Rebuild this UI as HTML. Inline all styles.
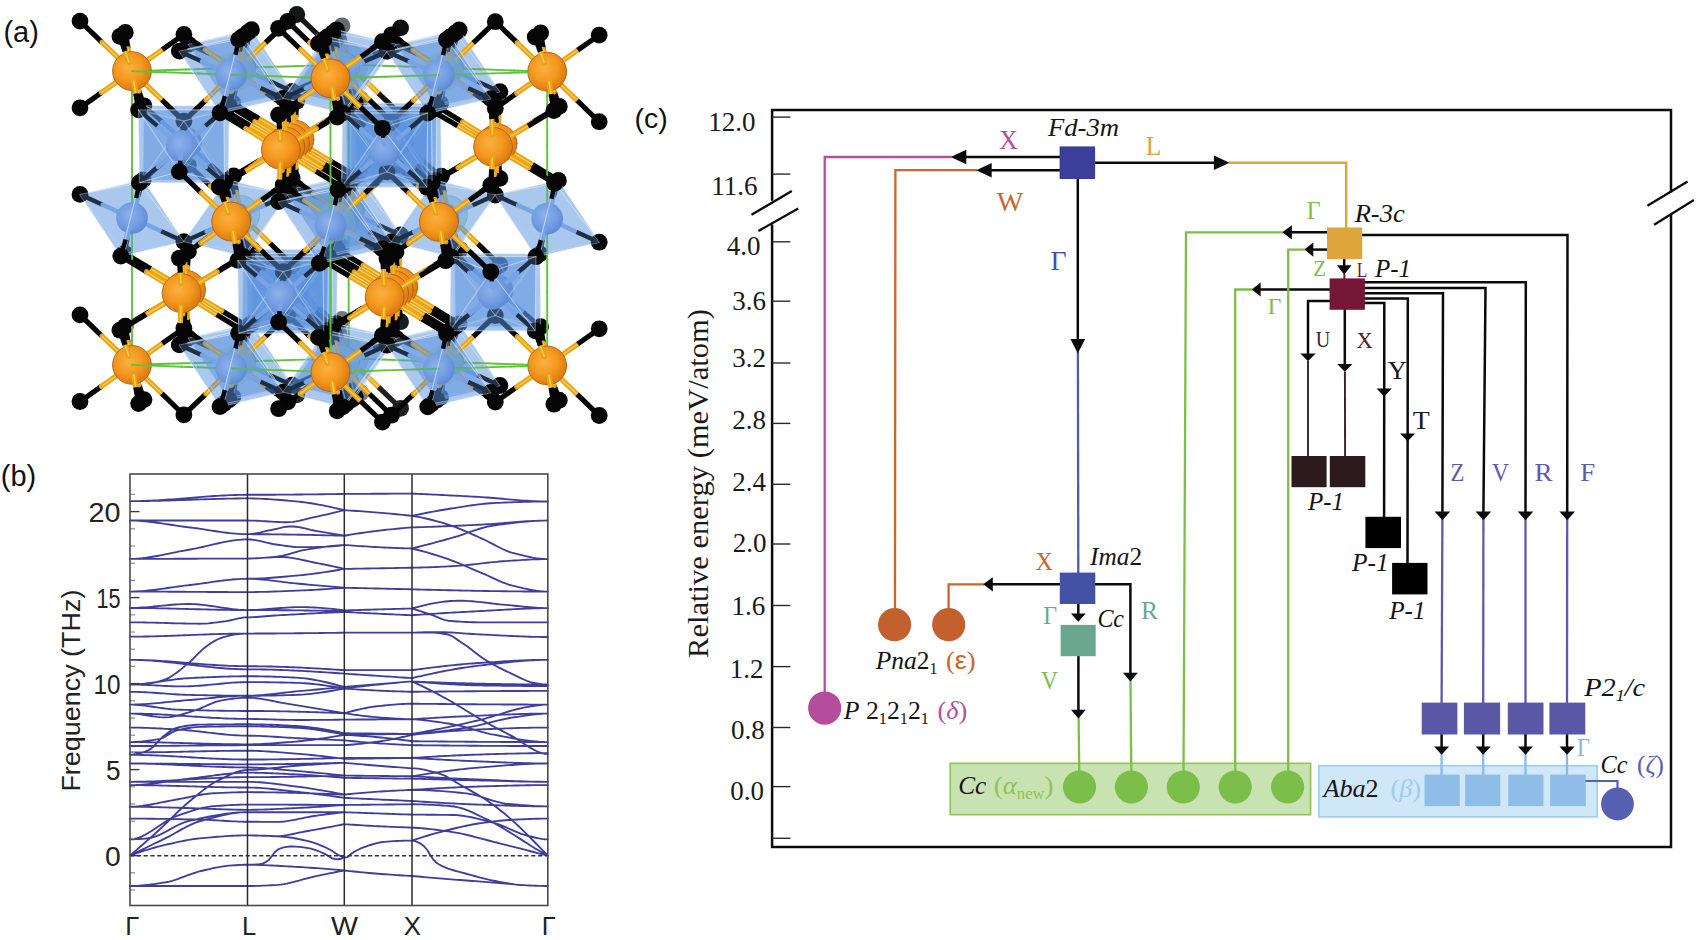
<!DOCTYPE html>
<html lang="en"><head><meta charset="utf-8"><title>Figure</title>
<style>html,body{margin:0;padding:0;background:#fff;overflow:hidden}svg{display:block}</style>
</head><body>
<svg width="1699" height="940" viewBox="0 0 1699 940">
<rect width="1699" height="940" fill="#ffffff"/>
<defs><radialGradient id="gA" cx="0.42" cy="0.40" r="0.62"><stop offset="0" stop-color="#FBB040"/><stop offset="0.55" stop-color="#F4981F"/><stop offset="1" stop-color="#D9780F"/></radialGradient><radialGradient id="gB" cx="0.42" cy="0.40" r="0.62"><stop offset="0" stop-color="#A4BFF0"/><stop offset="0.6" stop-color="#7FA3E4"/><stop offset="1" stop-color="#6486D2"/></radialGradient><clipPath id="clipA"><rect x="40" y="0" width="580" height="450"/></clipPath></defs>
<g id="panel-a" clip-path="url(#clipA)" stroke-linecap="round" fill="none">
<circle cx="360.7" cy="393" r="8.4" fill="#76797d"/>
<circle cx="342" cy="319.5" r="8.4" fill="#74777b"/>
<circle cx="360.7" cy="99.2" r="8.4" fill="#686c6f"/>
<path d="M355.6 378.3L360 391" stroke="#616467" stroke-width="5.2" stroke-linecap="butt"/>
<circle cx="342" cy="25.8" r="8.4" fill="#66696d"/>
<path d="M344.8 336L342.4 321.8" stroke="#5f6265" stroke-width="5.2" stroke-linecap="butt"/>
<path d="M355.6 84.5L360 97.2" stroke="#535659" stroke-width="5.2" stroke-linecap="butt"/>
<path d="M344.8 42.2L342.4 28" stroke="#525457" stroke-width="5.2" stroke-linecap="butt"/>
<circle cx="341.2" cy="246.7" r="8.4" fill="#57595c"/>
<circle cx="359.9" cy="173.3" r="8.4" fill="#525558"/>
<path d="M344.4 231.4L341.7 244.1" stroke="#47494b" stroke-width="4.4" stroke-linecap="butt"/>
<path d="M355 189.9L359 176.1" stroke="#434548" stroke-width="4.4" stroke-linecap="butt"/>
<path d="M351.6 366.9L355.6 378.3" stroke="#e6b656" stroke-width="5.2"/>
<path d="M351.6 366.9L355.6 378.3" stroke="#F6CB45" stroke-width="1.5" stroke-linecap="butt"/>
<path d="M347 348.7L344.8 336" stroke="#e6b656" stroke-width="5.2"/>
<path d="M347 348.7L344.8 336" stroke="#F6CB45" stroke-width="1.5" stroke-linecap="butt"/>
<polygon points="359.9,173.3 341.2,246.7 296.8,187.8" fill="#5A92DF" fill-opacity="0.30" stroke="#E6F0FA" stroke-opacity="0.5" stroke-width="0.8" stroke-linejoin="round"/>
<polygon points="359.9,173.3 341.2,246.7 400.6,235" fill="#5A92DF" fill-opacity="0.30" stroke="#E6F0FA" stroke-opacity="0.5" stroke-width="0.8" stroke-linejoin="round"/>
<path d="M351.6 73.1L355.6 84.5" stroke="#e7b249" stroke-width="5.2"/>
<path d="M351.6 73.1L355.6 84.5" stroke="#F6CB45" stroke-width="1.5" stroke-linecap="butt"/>
<path d="M347 54.9L344.8 42.2" stroke="#e7b249" stroke-width="5.2"/>
<path d="M347 54.9L344.8 42.2" stroke="#F6CB45" stroke-width="1.5" stroke-linecap="butt"/>
<path d="M346.8 220.4L344.4 231.4" stroke="#98b7e9" stroke-width="4.4"/>
<path d="M351.5 201.7L355 189.9" stroke="#98b7e9" stroke-width="4.4"/>
<path d="M318.2 379.8L300.2 392.5" stroke="#242526" stroke-width="5.2" stroke-linecap="butt"/>
<path d="M334.1 368.6L318.2 379.8" stroke="#e7ac36" stroke-width="5.2"/>
<path d="M334.1 368.6L318.2 379.8" stroke="#F6CB45" stroke-width="1.5" stroke-linecap="butt"/>
<path d="M318.8 329.5L299.8 311.2" stroke="#212223" stroke-width="5.2" stroke-linecap="butt"/>
<path d="M335.8 345.9L318.8 329.5" stroke="#e7ab35" stroke-width="5.2"/>
<path d="M335.8 345.9L318.8 329.5" stroke="#F6CB45" stroke-width="1.5" stroke-linecap="butt"/>
<path d="M361.5 370.7L378.6 387.1" stroke="#e8ab34" stroke-width="5.2"/>
<path d="M361.5 370.7L378.6 387.1" stroke="#F6CB45" stroke-width="1.5" stroke-linecap="butt"/>
<circle cx="296.8" cy="394.9" r="8.4" fill="#262728"/>
<path d="M348.7 358.3L348.7 333.8" stroke="#5FC43A" stroke-width="1.9"/>
<path d="M378.6 387.1L397.6 405.4" stroke="#1f2021" stroke-width="5.2" stroke-linecap="butt"/>
<path d="M348.7 333.8L348.7 309.3" stroke="#5FC43A" stroke-width="1.9"/>
<path d="M363.2 348L379.1 336.8" stroke="#e8ab32" stroke-width="5.2"/>
<path d="M363.2 348L379.1 336.8" stroke="#F6CB45" stroke-width="1.5" stroke-linecap="butt"/>
<path d="M348.7 309.3L348.7 284.9" stroke="#5FC43A" stroke-width="1.9"/>
<path d="M379.1 336.8L397.2 324.1" stroke="#1c1d1e" stroke-width="5.2" stroke-linecap="butt"/>
<path d="M348.7 284.9L348.7 260.4" stroke="#5FC43A" stroke-width="1.9"/>
<circle cx="296.8" cy="308.3" r="8.4" fill="#222324"/>
<polygon points="337.5,249.5 341.2,246.7 296.8,187.8" fill="#5A92DF" fill-opacity="0.30" stroke="#E6F0FA" stroke-opacity="0.5" stroke-width="0.8" stroke-linejoin="round"/>
<path d="M348.7 260.4L348.7 235.9" stroke="#5FC43A" stroke-width="1.9"/>
<path d="M319.3 198.1L300.6 189.6" stroke="#1b1c1c" stroke-width="4.4" stroke-linecap="butt"/>
<path d="M335.4 205.4L319.3 198.1" stroke="#8eb1e8" stroke-width="4.4"/>
<circle cx="400.6" cy="408.3" r="8.4" fill="#202122"/>
<path d="M348.7 235.9L348.7 211.4" stroke="#5FC43A" stroke-width="1.9"/>
<polygon points="337.5,249.5 341.2,246.7 400.6,235" fill="#5A92DF" fill-opacity="0.30" stroke="#E6F0FA" stroke-opacity="0.5" stroke-width="0.8" stroke-linejoin="round"/>
<path d="M348.7 211.4L348.7 186.9" stroke="#5FC43A" stroke-width="1.9"/>
<path d="M361.9 217.4L378 224.7" stroke="#8eb0e8" stroke-width="4.4"/>
<polygon points="359.9,173.3 356.2,176.1 296.8,187.8" fill="#5A92DF" fill-opacity="0.30" stroke="#E6F0FA" stroke-opacity="0.5" stroke-width="0.8" stroke-linejoin="round"/>
<path d="M378 224.7L396.8 233.3" stroke="#181919" stroke-width="4.4" stroke-linecap="butt"/>
<path d="M348.7 186.9L348.7 162.5" stroke="#5FC43A" stroke-width="1.9"/>
<polygon points="359.9,173.3 356.2,176.1 400.6,235" fill="#5A92DF" fill-opacity="0.30" stroke="#E6F0FA" stroke-opacity="0.5" stroke-width="0.8" stroke-linejoin="round"/>
<path d="M348.7 162.5L348.7 138" stroke="#5FC43A" stroke-width="1.9"/>
<path d="M318.2 86L300.2 98.8" stroke="#161718" stroke-width="5.2" stroke-linecap="butt"/>
<circle cx="296.8" cy="187.8" r="8.4" fill="#1c1d1e"/>
<circle cx="400.6" cy="321.7" r="8.4" fill="#1c1d1e"/>
<path d="M348.7 138L348.7 113.5" stroke="#5FC43A" stroke-width="1.9"/>
<path d="M334.1 74.8L318.2 86" stroke="#e8a829" stroke-width="5.2"/>
<path d="M334.1 74.8L318.2 86" stroke="#F6CB45" stroke-width="1.5" stroke-linecap="butt"/>
<path d="M330.6 358.8L348.7 358.3" stroke="#5FC43A" stroke-width="1.9"/>
<path d="M348.7 113.5L348.7 89" stroke="#5FC43A" stroke-width="1.9"/>
<circle cx="348.7" cy="358.3" r="19.4" fill="#9CC3B4" fill-opacity="0.55" stroke="#8FC79A" stroke-opacity="0.6" stroke-width="1"/>
<path d="M348.7 358.3L365.2 358.9" stroke="#5FC43A" stroke-width="1.9"/>
<path d="M318.8 35.7L299.8 17.4" stroke="#131414" stroke-width="5.2" stroke-linecap="butt"/>
<path d="M348.7 89L348.7 64.5" stroke="#5FC43A" stroke-width="1.9"/>
<path d="M335.8 52.1L318.8 35.7" stroke="#e8a728" stroke-width="5.2"/>
<path d="M335.8 52.1L318.8 35.7" stroke="#F6CB45" stroke-width="1.5" stroke-linecap="butt"/>
<path d="M361.5 76.9L378.6 93.4" stroke="#e8a727" stroke-width="5.2"/>
<path d="M361.5 76.9L378.6 93.4" stroke="#F6CB45" stroke-width="1.5" stroke-linecap="butt"/>
<circle cx="296.8" cy="101.2" r="8.4" fill="#18191a"/>
<circle cx="400.6" cy="235" r="8.4" fill="#18191a"/>
<path d="M378.6 93.4L397.6 111.6" stroke="#121313" stroke-width="5.2" stroke-linecap="butt"/>
<path d="M363.2 54.3L379.1 43" stroke="#e8a625" stroke-width="5.2"/>
<path d="M363.2 54.3L379.1 43" stroke="#F6CB45" stroke-width="1.5" stroke-linecap="butt"/>
<circle cx="348.7" cy="211.4" r="15.8" fill="url(#gB)"/>
<path d="M379.1 43L397.2 30.3" stroke="#0f0f10" stroke-width="5.2" stroke-linecap="butt"/>
<path d="M295.8 298.8L296.6 306.7" stroke="#0f0f0f" stroke-width="4.4" stroke-linecap="butt"/>
<circle cx="296.8" cy="14.5" r="8.4" fill="#141516"/>
<circle cx="400.6" cy="114.5" r="8.4" fill="#131314"/>
<path d="M399.6 307.2L400.4 319.3" stroke="#0a0a0a" stroke-width="5.2" stroke-linecap="butt"/>
<path d="M295.8 167.4L296.6 185" stroke="#0a0a0a" stroke-width="5.2" stroke-linecap="butt"/>
<circle cx="400.6" cy="27.9" r="8.4" fill="#0f0f10"/>
<path d="M330.6 65.1L348.7 64.5" stroke="#5FC43A" stroke-width="1.9"/>
<path d="M295.8 117.1L296.6 103.7" stroke="#070707" stroke-width="5.2" stroke-linecap="butt"/>
<path d="M399.6 256.9L400.4 238" stroke="#070707" stroke-width="5.2" stroke-linecap="butt"/>
<circle cx="348.7" cy="64.5" r="19.4" fill="#9CC3B4" fill-opacity="0.55" stroke="#8FC79A" stroke-opacity="0.6" stroke-width="1"/>
<path d="M348.7 64.5L365.2 65.1" stroke="#5FC43A" stroke-width="1.9"/>
<path d="M345.8 221.1L342.3 232.9" stroke="#86ABE8" stroke-width="4.4"/>
<path d="M350.6 202.4L352.9 191.5" stroke="#86ABE8" stroke-width="4.4"/>
<path d="M399.6 125.5L400.4 116.4" stroke="#050505" stroke-width="4.4" stroke-linecap="butt"/>
<path d="M312.5 359.4L330.6 358.8" stroke="#5FC43A" stroke-width="1.9"/>
<path d="M350.3 367.9L352.5 380.6" stroke="#E9A31A" stroke-width="5.2"/>
<path d="M350.3 367.9L352.5 380.6" stroke="#F6CB45" stroke-width="1.5" stroke-linecap="butt"/>
<path d="M345.7 349.7L341.7 338.3" stroke="#E9A31A" stroke-width="5.2"/>
<path d="M345.7 349.7L341.7 338.3" stroke="#F6CB45" stroke-width="1.5" stroke-linecap="butt"/>
<path d="M365.2 358.9L381.8 359.5" stroke="#5FC43A" stroke-width="1.9"/>
<polygon points="337.5,249.5 252.3,249.4 296.8,308.3" fill="#5A92DF" fill-opacity="0.30" stroke="#E6F0FA" stroke-opacity="0.5" stroke-width="0.8" stroke-linejoin="round"/>
<path d="M295.1 292.1L295.8 298.8" stroke="#86ABE8" stroke-width="4.4"/>
<polygon points="337.5,249.5 356.2,176.1 296.8,187.8" fill="#5A92DF" fill-opacity="0.30" stroke="#E6F0FA" stroke-opacity="0.5" stroke-width="0.8" stroke-linejoin="round"/>
<polygon points="251.5,323.5 252.3,249.4 296.8,308.3" fill="#5A92DF" fill-opacity="0.30" stroke="#E6F0FA" stroke-opacity="0.5" stroke-width="0.8" stroke-linejoin="round"/>
<path d="M398.9 296.5L399.6 307.2" stroke="#E9A31A" stroke-width="5.2"/>
<path d="M398.9 296.5L399.6 307.2" stroke="#F6CB45" stroke-width="1.5" stroke-linecap="butt"/>
<polygon points="337.5,249.5 356.2,176.1 400.6,235" fill="#5A92DF" fill-opacity="0.30" stroke="#E6F0FA" stroke-opacity="0.5" stroke-width="0.8" stroke-linejoin="round"/>
<path d="M312.5 65.6L330.6 65.1" stroke="#5FC43A" stroke-width="1.9"/>
<path d="M350.3 74.1L352.5 86.9" stroke="#E9A31A" stroke-width="5.2"/>
<path d="M350.3 74.1L352.5 86.9" stroke="#F6CB45" stroke-width="1.5" stroke-linecap="butt"/>
<path d="M295.1 151.6L295.8 167.4" stroke="#E9A31A" stroke-width="5.2"/>
<path d="M295.1 151.6L295.8 167.4" stroke="#F6CB45" stroke-width="1.5" stroke-linecap="butt"/>
<path d="M295.1 128.8L295.8 117.1" stroke="#E9A31A" stroke-width="5.2"/>
<path d="M295.1 128.8L295.8 117.1" stroke="#F6CB45" stroke-width="1.5" stroke-linecap="butt"/>
<path d="M345.7 55.9L341.7 44.5" stroke="#E9A31A" stroke-width="5.2"/>
<path d="M345.7 55.9L341.7 44.5" stroke="#F6CB45" stroke-width="1.5" stroke-linecap="butt"/>
<path d="M342.3 232.9L338.3 246.7" stroke="#050505" stroke-width="4.4" stroke-linecap="butt"/>
<path d="M398.9 273.9L399.6 256.9" stroke="#E9A31A" stroke-width="5.2"/>
<path d="M398.9 273.9L399.6 256.9" stroke="#F6CB45" stroke-width="1.5" stroke-linecap="butt"/>
<polygon points="337.5,249.5 336.6,323.6 296.8,308.3" fill="#5A92DF" fill-opacity="0.30" stroke="#E6F0FA" stroke-opacity="0.5" stroke-width="0.8" stroke-linejoin="round"/>
<path d="M365.2 65.1L381.8 65.7" stroke="#5FC43A" stroke-width="1.9"/>
<polygon points="441.3,176.2 356.2,176.1 400.6,114.5" fill="#5A92DF" fill-opacity="0.30" stroke="#E6F0FA" stroke-opacity="0.5" stroke-width="0.8" stroke-linejoin="round"/>
<path d="M352.9 191.5L355.6 178.7" stroke="#050505" stroke-width="4.4" stroke-linecap="butt"/>
<polygon points="251.5,323.5 336.6,323.6 296.8,308.3" fill="#5A92DF" fill-opacity="0.30" stroke="#E6F0FA" stroke-opacity="0.5" stroke-width="0.8" stroke-linejoin="round"/>
<path d="M398.9 133.3L399.6 125.5" stroke="#86ABE8" stroke-width="4.4"/>
<path d="M294.5 359.9L312.5 359.4" stroke="#5FC43A" stroke-width="1.9"/>
<polygon points="355.3,103.3 356.2,176.1 400.6,114.5" fill="#5A92DF" fill-opacity="0.30" stroke="#E6F0FA" stroke-opacity="0.5" stroke-width="0.8" stroke-linejoin="round"/>
<path d="M270.7 265.6L255.4 252.1" stroke="#050505" stroke-width="4.4" stroke-linecap="butt"/>
<path d="M381.8 359.5L398.3 360.1" stroke="#5FC43A" stroke-width="1.9"/>
<path d="M352.5 380.6L354.9 394.8" stroke="#050505" stroke-width="5.2" stroke-linecap="butt"/>
<circle cx="252.3" cy="249.4" r="8.4" fill="#060606"/>
<polygon points="441.3,176.2 440.5,103.4 400.6,114.5" fill="#5A92DF" fill-opacity="0.30" stroke="#E6F0FA" stroke-opacity="0.5" stroke-width="0.8" stroke-linejoin="round"/>
<path d="M259.4 160.6L237.2 173.8" stroke="#050505" stroke-width="5.2" stroke-linecap="butt"/>
<path d="M341.7 338.3L337.3 325.6" stroke="#050505" stroke-width="5.2" stroke-linecap="butt"/>
<path d="M318.8 265.6L334.3 252.3" stroke="#050505" stroke-width="4.4" stroke-linecap="butt"/>
<circle cx="233.6" cy="175.9" r="8.4" fill="#060606"/>
<path d="M283.7 277L270.7 265.6" stroke="#86ABE8" stroke-width="4.4"/>
<path d="M363.2 265.3L341 251.7" stroke="#050505" stroke-width="5.2" stroke-linecap="butt"/>
<path d="M305.4 277.1L318.8 265.6" stroke="#86ABE8" stroke-width="4.4"/>
<circle cx="337.5" cy="249.5" r="8.4" fill="#060606"/>
<path d="M330 160.7L352.6 174" stroke="#050505" stroke-width="5.2" stroke-linecap="butt"/>
<path d="M294.5 66.2L312.5 65.6" stroke="#5FC43A" stroke-width="1.9"/>
<path d="M279.4 148.6L259.4 160.6" stroke="#E9A31A" stroke-width="5.2"/>
<path d="M279.4 148.6L259.4 160.6" stroke="#F6CB45" stroke-width="1.5" stroke-linecap="butt"/>
<polygon points="355.3,103.3 440.5,103.4 400.6,114.5" fill="#5A92DF" fill-opacity="0.30" stroke="#E6F0FA" stroke-opacity="0.5" stroke-width="0.8" stroke-linejoin="round"/>
<path d="M383.2 277.5L363.2 265.3" stroke="#E9A31A" stroke-width="5.2"/>
<path d="M383.2 277.5L363.2 265.3" stroke="#F6CB45" stroke-width="1.5" stroke-linecap="butt"/>
<path d="M374.5 160.3L359.3 173.4" stroke="#050505" stroke-width="4.4" stroke-linecap="butt"/>
<path d="M433.8 265.4L456.4 251.9" stroke="#050505" stroke-width="5.2" stroke-linecap="butt"/>
<circle cx="356.2" cy="176.1" r="8.4" fill="#060606"/>
<path d="M309.8 148.7L330 160.7" stroke="#E9A31A" stroke-width="5.2"/>
<path d="M309.8 148.7L330 160.7" stroke="#F6CB45" stroke-width="1.5" stroke-linecap="butt"/>
<path d="M413.6 277.5L433.8 265.4" stroke="#E9A31A" stroke-width="5.2"/>
<path d="M413.6 277.5L433.8 265.4" stroke="#F6CB45" stroke-width="1.5" stroke-linecap="butt"/>
<path d="M283.5 295.9L270.2 307.4" stroke="#86ABE8" stroke-width="4.4"/>
<path d="M381.8 65.7L398.3 66.3" stroke="#5FC43A" stroke-width="1.9"/>
<circle cx="460" cy="249.7" r="8.4" fill="#060606"/>
<path d="M422.6 160.4L438.1 173.6" stroke="#050505" stroke-width="4.4" stroke-linecap="butt"/>
<path d="M352.5 86.9L354.9 101" stroke="#050505" stroke-width="5.2" stroke-linecap="butt"/>
<path d="M305.2 296L318.3 307.5" stroke="#86ABE8" stroke-width="4.4"/>
<path d="M387.6 149L374.5 160.3" stroke="#86ABE8" stroke-width="4.4"/>
<circle cx="441.3" cy="176.2" r="8.4" fill="#060606"/>
<path d="M270.2 307.4L254.7 320.8" stroke="#050505" stroke-width="4.4" stroke-linecap="butt"/>
<path d="M341.7 44.5L337.3 31.9" stroke="#050505" stroke-width="5.2" stroke-linecap="butt"/>
<path d="M247.2 234.7L251.6 247.4" stroke="#050505" stroke-width="5.2" stroke-linecap="butt"/>
<path d="M276.4 360.5L294.5 359.9" stroke="#5FC43A" stroke-width="1.9"/>
<path d="M409.3 149.1L422.6 160.4" stroke="#86ABE8" stroke-width="4.4"/>
<path d="M236.5 192.4L234 178.2" stroke="#050505" stroke-width="5.2" stroke-linecap="butt"/>
<path d="M383 295.8L362.8 307.9" stroke="#E9A31A" stroke-width="5.2"/>
<path d="M383 295.8L362.8 307.9" stroke="#F6CB45" stroke-width="1.5" stroke-linecap="butt"/>
<circle cx="232.8" cy="396.9" r="8.4" fill="#060606"/>
<circle cx="294.5" cy="286.5" r="15.8" fill="url(#gB)"/>
<path d="M318.3 307.5L333.5 320.9" stroke="#050505" stroke-width="4.4" stroke-linecap="butt"/>
<path d="M279.2 130.6L259 118.6" stroke="#E9A31A" stroke-width="5.2"/>
<path d="M279.2 130.6L259 118.6" stroke="#F6CB45" stroke-width="1.5" stroke-linecap="butt"/>
<path d="M362.8 307.9L340.2 321.4" stroke="#050505" stroke-width="5.2" stroke-linecap="butt"/>
<path d="M340.3 234.8L337.9 247.5" stroke="#050505" stroke-width="5.2" stroke-linecap="butt"/>
<path d="M413.4 295.8L433.4 308" stroke="#E9A31A" stroke-width="5.2"/>
<path d="M413.4 295.8L433.4 308" stroke="#F6CB45" stroke-width="1.5" stroke-linecap="butt"/>
<circle cx="251.5" cy="323.5" r="8.4" fill="#060606"/>
<path d="M309.6 130.6L329.6 118.7" stroke="#E9A31A" stroke-width="5.2"/>
<path d="M309.6 130.6L329.6 118.7" stroke="#F6CB45" stroke-width="1.5" stroke-linecap="butt"/>
<path d="M259 118.6L236.4 105.2" stroke="#050505" stroke-width="5.2" stroke-linecap="butt"/>
<path d="M398.3 360.1L414.9 360.7" stroke="#5FC43A" stroke-width="1.9"/>
<path d="M351.1 192.5L355.5 178.4" stroke="#050505" stroke-width="5.2" stroke-linecap="butt"/>
<circle cx="355.3" cy="397.1" r="8.4" fill="#060606"/>
<polygon points="337.5,249.5 252.3,249.4 292.2,264.7" fill="#5A92DF" fill-opacity="0.30" stroke="#E6F0FA" stroke-opacity="0.5" stroke-width="0.8" stroke-linejoin="round"/>
<path d="M433.4 308L455.6 321.6" stroke="#050505" stroke-width="5.2" stroke-linecap="butt"/>
<path d="M387.4 130.5L374 119.2" stroke="#86ABE8" stroke-width="4.4"/>
<circle cx="398.3" cy="286.7" r="19.4" fill="url(#gA)" stroke="#B5600F" stroke-width="0.9"/>
<circle cx="294.5" cy="139.6" r="19.4" fill="url(#gA)" stroke="#B5600F" stroke-width="0.9"/>
<circle cx="336.6" cy="323.6" r="8.4" fill="#060606"/>
<path d="M454.9 235L459.3 247.7" stroke="#050505" stroke-width="5.2" stroke-linecap="butt"/>
<path d="M236.1 381.5L233.4 394.3" stroke="#050505" stroke-width="4.4" stroke-linecap="butt"/>
<path d="M409.1 130.5L422.1 119.2" stroke="#86ABE8" stroke-width="4.4"/>
<path d="M329.6 118.7L351.8 105.4" stroke="#050505" stroke-width="5.2" stroke-linecap="butt"/>
<path d="M444.1 192.7L441.7 178.5" stroke="#050505" stroke-width="5.2" stroke-linecap="butt"/>
<path d="M276.4 66.7L294.5 66.2" stroke="#5FC43A" stroke-width="1.9"/>
<circle cx="440.5" cy="397.2" r="8.4" fill="#060606"/>
<path d="M374 119.2L358.5 106" stroke="#050505" stroke-width="4.4" stroke-linecap="butt"/>
<circle cx="398.3" cy="139.8" r="15.8" fill="url(#gB)"/>
<circle cx="232.8" cy="103.1" r="8.4" fill="#060606"/>
<polygon points="251.5,323.5 252.3,249.4 292.2,264.7" fill="#5A92DF" fill-opacity="0.30" stroke="#E6F0FA" stroke-opacity="0.5" stroke-width="0.8" stroke-linejoin="round"/>
<path d="M246.6 340.1L250.7 326.3" stroke="#050505" stroke-width="4.4" stroke-linecap="butt"/>
<polygon points="251.5,323.5 232.8,396.9 188.4,338" fill="#5A92DF" fill-opacity="0.30" stroke="#E6F0FA" stroke-opacity="0.5" stroke-width="0.8" stroke-linejoin="round"/>
<path d="M422.1 119.2L437.4 106.1" stroke="#050505" stroke-width="4.4" stroke-linecap="butt"/>
<polygon points="337.5,249.5 336.6,323.6 292.2,264.7" fill="#5A92DF" fill-opacity="0.30" stroke="#E6F0FA" stroke-opacity="0.5" stroke-width="0.8" stroke-linejoin="round"/>
<circle cx="459.2" cy="323.8" r="8.4" fill="#060606"/>
<path d="M350.5 381.7L354.5 394.5" stroke="#050505" stroke-width="4.4" stroke-linecap="butt"/>
<polygon points="251.5,323.5 232.8,396.9 292.2,385.2" fill="#5A92DF" fill-opacity="0.30" stroke="#E6F0FA" stroke-opacity="0.5" stroke-width="0.8" stroke-linejoin="round"/>
<polygon points="441.3,176.2 356.2,176.1 396,165" fill="#5A92DF" fill-opacity="0.30" stroke="#E6F0FA" stroke-opacity="0.5" stroke-width="0.8" stroke-linejoin="round"/>
<circle cx="251.5" cy="29.7" r="8.4" fill="#060606"/>
<path d="M339.9 340.2L337.2 326.4" stroke="#050505" stroke-width="4.4" stroke-linecap="butt"/>
<path d="M398.3 66.3L414.9 66.9" stroke="#5FC43A" stroke-width="1.9"/>
<path d="M293.9 281L293.2 274.2" stroke="#86ABE8" stroke-width="4.4"/>
<circle cx="355.3" cy="103.3" r="8.4" fill="#060606"/>
<path d="M258.4 361L276.4 360.5" stroke="#5FC43A" stroke-width="1.9"/>
<polygon points="355.3,397.1 336.6,323.6 292.2,385.2" fill="#5A92DF" fill-opacity="0.30" stroke="#E6F0FA" stroke-opacity="0.5" stroke-width="0.8" stroke-linejoin="round"/>
<polygon points="251.5,323.5 336.6,323.6 292.2,264.7" fill="#5A92DF" fill-opacity="0.30" stroke="#E6F0FA" stroke-opacity="0.5" stroke-width="0.8" stroke-linejoin="round"/>
<path d="M443.7 381.8L441 394.6" stroke="#050505" stroke-width="4.4" stroke-linecap="butt"/>
<circle cx="336.6" cy="29.8" r="8.4" fill="#060606"/>
<path d="M236.1 87.8L233.4 100.5" stroke="#050505" stroke-width="4.4" stroke-linecap="butt"/>
<polygon points="355.3,397.1 336.6,323.6 396,338.3" fill="#5A92DF" fill-opacity="0.30" stroke="#E6F0FA" stroke-opacity="0.5" stroke-width="0.8" stroke-linejoin="round"/>
<path d="M397.7 299.4L397 316.4" stroke="#E9A31A" stroke-width="5.2"/>
<path d="M397.7 299.4L397 316.4" stroke="#F6CB45" stroke-width="1.5" stroke-linecap="butt"/>
<polygon points="355.3,103.3 356.2,176.1 396,165" fill="#5A92DF" fill-opacity="0.30" stroke="#E6F0FA" stroke-opacity="0.5" stroke-width="0.8" stroke-linejoin="round"/>
<circle cx="440.5" cy="103.4" r="8.4" fill="#060606"/>
<path d="M454.3 340.4L458.3 326.6" stroke="#050505" stroke-width="4.4" stroke-linecap="butt"/>
<path d="M246.6 46.3L250.7 32.5" stroke="#050505" stroke-width="4.4" stroke-linecap="butt"/>
<path d="M243.3 223.3L247.2 234.7" stroke="#E9A31A" stroke-width="5.2"/>
<path d="M243.3 223.3L247.2 234.7" stroke="#F6CB45" stroke-width="1.5" stroke-linecap="butt"/>
<path d="M293.9 150.4L293.2 162.2" stroke="#E9A31A" stroke-width="5.2"/>
<path d="M293.9 150.4L293.2 162.2" stroke="#F6CB45" stroke-width="1.5" stroke-linecap="butt"/>
<path d="M293.9 127.7L293.2 111.8" stroke="#E9A31A" stroke-width="5.2"/>
<path d="M293.9 127.7L293.2 111.8" stroke="#F6CB45" stroke-width="1.5" stroke-linecap="butt"/>
<path d="M238.7 205.1L236.5 192.4" stroke="#E9A31A" stroke-width="5.2"/>
<path d="M238.7 205.1L236.5 192.4" stroke="#F6CB45" stroke-width="1.5" stroke-linecap="butt"/>
<path d="M397.7 276.8L397 266.1" stroke="#E9A31A" stroke-width="5.2"/>
<path d="M397.7 276.8L397 266.1" stroke="#F6CB45" stroke-width="1.5" stroke-linecap="butt"/>
<polygon points="459.2,323.8 440.5,397.2 396,338.3" fill="#5A92DF" fill-opacity="0.30" stroke="#E6F0FA" stroke-opacity="0.5" stroke-width="0.8" stroke-linejoin="round"/>
<polygon points="441.3,176.2 440.5,103.4 396,165" fill="#5A92DF" fill-opacity="0.30" stroke="#E6F0FA" stroke-opacity="0.5" stroke-width="0.8" stroke-linejoin="round"/>
<polygon points="251.5,29.7 232.8,103.1 188.4,44.2" fill="#5A92DF" fill-opacity="0.30" stroke="#E6F0FA" stroke-opacity="0.5" stroke-width="0.8" stroke-linejoin="round"/>
<polygon points="459.2,323.8 440.5,397.2 499.9,385.5" fill="#5A92DF" fill-opacity="0.30" stroke="#E6F0FA" stroke-opacity="0.5" stroke-width="0.8" stroke-linejoin="round"/>
<circle cx="459.2" cy="30" r="8.4" fill="#060606"/>
<path d="M238.4 370.6L236.1 381.5" stroke="#86ABE8" stroke-width="4.4"/>
<path d="M350.5 87.9L354.5 100.7" stroke="#050505" stroke-width="4.4" stroke-linecap="butt"/>
<path d="M414.9 360.7L431.4 361.3" stroke="#5FC43A" stroke-width="1.9"/>
<polygon points="251.5,29.7 232.8,103.1 292.2,91.4" fill="#5A92DF" fill-opacity="0.30" stroke="#E6F0FA" stroke-opacity="0.5" stroke-width="0.8" stroke-linejoin="round"/>
<path d="M339.9 46.4L337.2 32.6" stroke="#050505" stroke-width="4.4" stroke-linecap="butt"/>
<path d="M397.7 146.2L397 154" stroke="#86ABE8" stroke-width="4.4"/>
<path d="M243.2 351.9L246.6 340.1" stroke="#86ABE8" stroke-width="4.4"/>
<path d="M342.5 223.4L340.3 234.8" stroke="#E9A31A" stroke-width="5.2"/>
<path d="M342.5 223.4L340.3 234.8" stroke="#F6CB45" stroke-width="1.5" stroke-linecap="butt"/>
<path d="M347.1 205.3L351.1 192.5" stroke="#E9A31A" stroke-width="5.2"/>
<path d="M347.1 205.3L351.1 192.5" stroke="#F6CB45" stroke-width="1.5" stroke-linecap="butt"/>
<path d="M258.4 67.3L276.4 66.7" stroke="#5FC43A" stroke-width="1.9"/>
<polygon points="355.3,103.3 336.6,29.8 292.2,91.4" fill="#5A92DF" fill-opacity="0.30" stroke="#E6F0FA" stroke-opacity="0.5" stroke-width="0.8" stroke-linejoin="round"/>
<path d="M443.7 88.1L441 100.8" stroke="#050505" stroke-width="4.4" stroke-linecap="butt"/>
<polygon points="355.3,103.3 440.5,103.4 396,165" fill="#5A92DF" fill-opacity="0.30" stroke="#E6F0FA" stroke-opacity="0.5" stroke-width="0.8" stroke-linejoin="round"/>
<path d="M347 370.7L350.5 381.7" stroke="#86ABE8" stroke-width="4.4"/>
<polygon points="355.3,103.3 336.6,29.8 396,44.5" fill="#5A92DF" fill-opacity="0.30" stroke="#E6F0FA" stroke-opacity="0.5" stroke-width="0.8" stroke-linejoin="round"/>
<path d="M342.2 352L339.9 340.2" stroke="#86ABE8" stroke-width="4.4"/>
<path d="M454.3 46.6L458.3 32.8" stroke="#050505" stroke-width="4.4" stroke-linecap="butt"/>
<path d="M450.9 223.6L454.9 235" stroke="#E9A31A" stroke-width="5.2"/>
<path d="M450.9 223.6L454.9 235" stroke="#F6CB45" stroke-width="1.5" stroke-linecap="butt"/>
<path d="M446.3 205.4L444.1 192.7" stroke="#E9A31A" stroke-width="5.2"/>
<path d="M446.3 205.4L444.1 192.7" stroke="#F6CB45" stroke-width="1.5" stroke-linecap="butt"/>
<polygon points="459.2,30 440.5,103.4 396,44.5" fill="#5A92DF" fill-opacity="0.30" stroke="#E6F0FA" stroke-opacity="0.5" stroke-width="0.8" stroke-linejoin="round"/>
<path d="M446 370.9L443.7 381.8" stroke="#86ABE8" stroke-width="4.4"/>
<polygon points="459.2,30 440.5,103.4 499.9,91.7" fill="#5A92DF" fill-opacity="0.30" stroke="#E6F0FA" stroke-opacity="0.5" stroke-width="0.8" stroke-linejoin="round"/>
<path d="M238.4 76.8L236.1 87.8" stroke="#86ABE8" stroke-width="4.4"/>
<path d="M240.3 361.6L258.4 361" stroke="#5FC43A" stroke-width="1.9"/>
<path d="M414.9 66.9L431.4 67.5" stroke="#5FC43A" stroke-width="1.9"/>
<path d="M293.2 274.2L292.4 266.3" stroke="#050505" stroke-width="4.4" stroke-linecap="butt"/>
<path d="M450.8 352.2L454.3 340.4" stroke="#86ABE8" stroke-width="4.4"/>
<path d="M243.2 58.1L246.6 46.3" stroke="#86ABE8" stroke-width="4.4"/>
<path d="M397 316.4L396.2 335.3" stroke="#050505" stroke-width="5.2" stroke-linecap="butt"/>
<path d="M293.2 162.2L292.4 175.5" stroke="#050505" stroke-width="5.2" stroke-linecap="butt"/>
<path d="M347 77L350.5 87.9" stroke="#86ABE8" stroke-width="4.4"/>
<path d="M342.2 58.3L339.9 46.4" stroke="#86ABE8" stroke-width="4.4"/>
<path d="M397 266.1L396.2 254" stroke="#050505" stroke-width="5.2" stroke-linecap="butt"/>
<path d="M293.2 111.8L292.4 94.2" stroke="#050505" stroke-width="5.2" stroke-linecap="butt"/>
<polygon points="229.1,399.7 232.8,396.9 188.4,338" fill="#5A92DF" fill-opacity="0.30" stroke="#E6F0FA" stroke-opacity="0.5" stroke-width="0.8" stroke-linejoin="round"/>
<path d="M211 348.3L192.2 339.8" stroke="#050505" stroke-width="4.4" stroke-linecap="butt"/>
<path d="M227.1 355.6L211 348.3" stroke="#86ABE8" stroke-width="4.4"/>
<polygon points="229.1,399.7 232.8,396.9 292.2,385.2" fill="#5A92DF" fill-opacity="0.30" stroke="#E6F0FA" stroke-opacity="0.5" stroke-width="0.8" stroke-linejoin="round"/>
<path d="M431.4 361.3L448 361.9" stroke="#5FC43A" stroke-width="1.9"/>
<path d="M397 154L396.2 163.1" stroke="#050505" stroke-width="4.4" stroke-linecap="butt"/>
<path d="M253.5 367.6L269.6 374.9" stroke="#86ABE8" stroke-width="4.4"/>
<path d="M446 77.1L443.7 88.1" stroke="#86ABE8" stroke-width="4.4"/>
<polygon points="251.5,323.5 247.8,326.3 188.4,338" fill="#5A92DF" fill-opacity="0.30" stroke="#E6F0FA" stroke-opacity="0.5" stroke-width="0.8" stroke-linejoin="round"/>
<path d="M269.6 374.9L288.4 383.4" stroke="#050505" stroke-width="4.4" stroke-linecap="butt"/>
<path d="M240.3 67.8L258.4 67.3" stroke="#5FC43A" stroke-width="1.9"/>
<polygon points="251.5,323.5 247.8,326.3 292.2,385.2" fill="#5A92DF" fill-opacity="0.30" stroke="#E6F0FA" stroke-opacity="0.5" stroke-width="0.8" stroke-linejoin="round"/>
<path d="M450.8 58.4L454.3 46.6" stroke="#86ABE8" stroke-width="4.4"/>
<path d="M209.9 236.2L191.8 248.9" stroke="#050505" stroke-width="5.2" stroke-linecap="butt"/>
<path d="M314.8 375L296 383.4" stroke="#050505" stroke-width="4.4" stroke-linecap="butt"/>
<circle cx="188.4" cy="338" r="8.4" fill="#060606"/>
<polygon points="355.3,397.1 351.6,399.9 292.2,385.2" fill="#5A92DF" fill-opacity="0.30" stroke="#E6F0FA" stroke-opacity="0.5" stroke-width="0.8" stroke-linejoin="round"/>
<path d="M330.9 367.7L314.8 375" stroke="#86ABE8" stroke-width="4.4"/>
<path d="M225.8 225L209.9 236.2" stroke="#E9A31A" stroke-width="5.2"/>
<path d="M225.8 225L209.9 236.2" stroke="#F6CB45" stroke-width="1.5" stroke-linecap="butt"/>
<polygon points="332.9,326.4 336.6,323.6 292.2,385.2" fill="#5A92DF" fill-opacity="0.30" stroke="#E6F0FA" stroke-opacity="0.5" stroke-width="0.8" stroke-linejoin="round"/>
<path d="M210.4 185.9L191.4 167.6" stroke="#050505" stroke-width="5.2" stroke-linecap="butt"/>
<path d="M227.5 202.3L210.4 185.9" stroke="#E9A31A" stroke-width="5.2"/>
<path d="M227.5 202.3L210.4 185.9" stroke="#F6CB45" stroke-width="1.5" stroke-linecap="butt"/>
<path d="M253.2 227.1L270.2 243.5" stroke="#E9A31A" stroke-width="5.2"/>
<path d="M253.2 227.1L270.2 243.5" stroke="#F6CB45" stroke-width="1.5" stroke-linecap="butt"/>
<circle cx="188.4" cy="251.4" r="8.4" fill="#060606"/>
<circle cx="292.2" cy="385.2" r="8.4" fill="#060606"/>
<polygon points="355.3,397.1 351.6,399.9 396,338.3" fill="#5A92DF" fill-opacity="0.30" stroke="#E6F0FA" stroke-opacity="0.5" stroke-width="0.8" stroke-linejoin="round"/>
<path d="M270.2 243.5L289.2 261.8" stroke="#050505" stroke-width="5.2" stroke-linecap="butt"/>
<path d="M357.4 355.8L373.5 348.5" stroke="#86ABE8" stroke-width="4.4"/>
<polygon points="332.9,326.4 336.6,323.6 396,338.3" fill="#5A92DF" fill-opacity="0.30" stroke="#E6F0FA" stroke-opacity="0.5" stroke-width="0.8" stroke-linejoin="round"/>
<path d="M254.9 204.4L270.8 193.2" stroke="#E9A31A" stroke-width="5.2"/>
<path d="M254.9 204.4L270.8 193.2" stroke="#F6CB45" stroke-width="1.5" stroke-linecap="butt"/>
<path d="M314.2 243.6L295.2 261.8" stroke="#050505" stroke-width="5.2" stroke-linecap="butt"/>
<path d="M373.5 348.5L392.2 340" stroke="#050505" stroke-width="4.4" stroke-linecap="butt"/>
<circle cx="240.3" cy="361.6" r="15.8" fill="url(#gB)"/>
<path d="M270.8 193.2L288.8 180.5" stroke="#050505" stroke-width="5.2" stroke-linecap="butt"/>
<polygon points="436.8,400 440.5,397.2 396,338.3" fill="#5A92DF" fill-opacity="0.30" stroke="#E6F0FA" stroke-opacity="0.5" stroke-width="0.8" stroke-linejoin="round"/>
<path d="M331.3 227.2L314.2 243.6" stroke="#E9A31A" stroke-width="5.2"/>
<path d="M331.3 227.2L314.2 243.6" stroke="#F6CB45" stroke-width="1.5" stroke-linecap="butt"/>
<path d="M418.6 348.6L399.9 340.1" stroke="#050505" stroke-width="4.4" stroke-linecap="butt"/>
<circle cx="188.4" cy="164.7" r="8.4" fill="#060606"/>
<path d="M222.3 362.1L240.3 361.6" stroke="#5FC43A" stroke-width="1.9"/>
<polygon points="229.1,105.9 232.8,103.1 188.4,44.2" fill="#5A92DF" fill-opacity="0.30" stroke="#E6F0FA" stroke-opacity="0.5" stroke-width="0.8" stroke-linejoin="round"/>
<path d="M434.7 355.9L418.6 348.6" stroke="#86ABE8" stroke-width="4.4"/>
<path d="M313.7 193.3L295.6 180.5" stroke="#050505" stroke-width="5.2" stroke-linecap="butt"/>
<path d="M211 54.5L192.2 46" stroke="#050505" stroke-width="4.4" stroke-linecap="butt"/>
<polygon points="436.8,400 440.5,397.2 499.9,385.5" fill="#5A92DF" fill-opacity="0.30" stroke="#E6F0FA" stroke-opacity="0.5" stroke-width="0.8" stroke-linejoin="round"/>
<path d="M329.6 204.5L313.7 193.3" stroke="#E9A31A" stroke-width="5.2"/>
<path d="M329.6 204.5L313.7 193.3" stroke="#F6CB45" stroke-width="1.5" stroke-linecap="butt"/>
<path d="M227.1 61.8L211 54.5" stroke="#86ABE8" stroke-width="4.4"/>
<circle cx="292.2" cy="264.7" r="8.4" fill="#060606"/>
<polygon points="229.1,105.9 232.8,103.1 292.2,91.4" fill="#5A92DF" fill-opacity="0.30" stroke="#E6F0FA" stroke-opacity="0.5" stroke-width="0.8" stroke-linejoin="round"/>
<path d="M461.2 367.9L477.3 375.2" stroke="#86ABE8" stroke-width="4.4"/>
<path d="M431.4 67.5L448 68.1" stroke="#5FC43A" stroke-width="1.9"/>
<path d="M358.7 225.2L374.6 236.4" stroke="#E9A31A" stroke-width="5.2"/>
<path d="M358.7 225.2L374.6 236.4" stroke="#F6CB45" stroke-width="1.5" stroke-linecap="butt"/>
<polygon points="459.2,323.8 455.4,326.6 396,338.3" fill="#5A92DF" fill-opacity="0.30" stroke="#E6F0FA" stroke-opacity="0.5" stroke-width="0.8" stroke-linejoin="round"/>
<path d="M477.3 375.2L496 383.7" stroke="#050505" stroke-width="4.4" stroke-linecap="butt"/>
<path d="M374.6 236.4L392.6 249.2" stroke="#050505" stroke-width="5.2" stroke-linecap="butt"/>
<path d="M253.5 73.8L269.6 81.1" stroke="#86ABE8" stroke-width="4.4"/>
<polygon points="251.5,29.7 247.8,32.5 188.4,44.2" fill="#5A92DF" fill-opacity="0.30" stroke="#E6F0FA" stroke-opacity="0.5" stroke-width="0.8" stroke-linejoin="round"/>
<path d="M269.6 81.1L288.4 89.7" stroke="#050505" stroke-width="4.4" stroke-linecap="butt"/>
<polygon points="459.2,323.8 455.4,326.6 499.9,385.5" fill="#5A92DF" fill-opacity="0.30" stroke="#E6F0FA" stroke-opacity="0.5" stroke-width="0.8" stroke-linejoin="round"/>
<path d="M357 202.5L374 186.1" stroke="#E9A31A" stroke-width="5.2"/>
<path d="M357 202.5L374 186.1" stroke="#F6CB45" stroke-width="1.5" stroke-linecap="butt"/>
<path d="M417.5 236.5L399.5 249.2" stroke="#050505" stroke-width="5.2" stroke-linecap="butt"/>
<circle cx="396" cy="338.3" r="8.4" fill="#060606"/>
<path d="M187.4 317.6L188.3 335.2" stroke="#050505" stroke-width="5.2" stroke-linecap="butt"/>
<polygon points="251.5,29.7 247.8,32.5 292.2,91.4" fill="#5A92DF" fill-opacity="0.30" stroke="#E6F0FA" stroke-opacity="0.5" stroke-width="0.8" stroke-linejoin="round"/>
<circle cx="344.1" cy="361.7" r="15.8" fill="url(#gB)"/>
<path d="M314.8 81.2L296 89.7" stroke="#050505" stroke-width="4.4" stroke-linecap="butt"/>
<circle cx="188.4" cy="44.2" r="8.4" fill="#060606"/>
<circle cx="292.2" cy="178.1" r="8.4" fill="#060606"/>
<path d="M374 186.1L393 167.9" stroke="#050505" stroke-width="5.2" stroke-linecap="butt"/>
<path d="M433.4 225.3L417.5 236.5" stroke="#E9A31A" stroke-width="5.2"/>
<path d="M433.4 225.3L417.5 236.5" stroke="#F6CB45" stroke-width="1.5" stroke-linecap="butt"/>
<polygon points="355.3,103.3 351.6,106.1 292.2,91.4" fill="#5A92DF" fill-opacity="0.30" stroke="#E6F0FA" stroke-opacity="0.5" stroke-width="0.8" stroke-linejoin="round"/>
<path d="M330.9 73.9L314.8 81.2" stroke="#86ABE8" stroke-width="4.4"/>
<path d="M418 186.2L399.1 167.9" stroke="#050505" stroke-width="5.2" stroke-linecap="butt"/>
<path d="M187.5 267.3L188.3 253.9" stroke="#050505" stroke-width="5.2" stroke-linecap="butt"/>
<circle cx="240.3" cy="214.7" r="19.4" fill="#9CC3B4" fill-opacity="0.55" stroke="#8FC79A" stroke-opacity="0.6" stroke-width="1"/>
<path d="M435.1 202.6L418 186.2" stroke="#E9A31A" stroke-width="5.2"/>
<path d="M435.1 202.6L418 186.2" stroke="#F6CB45" stroke-width="1.5" stroke-linecap="butt"/>
<polygon points="332.9,32.7 336.6,29.8 292.2,91.4" fill="#5A92DF" fill-opacity="0.30" stroke="#E6F0FA" stroke-opacity="0.5" stroke-width="0.8" stroke-linejoin="round"/>
<path d="M460.8 227.4L477.9 243.8" stroke="#E9A31A" stroke-width="5.2"/>
<path d="M460.8 227.4L477.9 243.8" stroke="#F6CB45" stroke-width="1.5" stroke-linecap="butt"/>
<circle cx="396" cy="251.7" r="8.4" fill="#060606"/>
<circle cx="499.9" cy="385.5" r="8.4" fill="#060606"/>
<path d="M477.9 243.8L496.8 262.1" stroke="#050505" stroke-width="5.2" stroke-linecap="butt"/>
<circle cx="292.2" cy="91.4" r="8.4" fill="#060606"/>
<polygon points="355.3,103.3 351.6,106.1 396,44.5" fill="#5A92DF" fill-opacity="0.30" stroke="#E6F0FA" stroke-opacity="0.5" stroke-width="0.8" stroke-linejoin="round"/>
<path d="M462.5 204.7L478.4 193.5" stroke="#E9A31A" stroke-width="5.2"/>
<path d="M462.5 204.7L478.4 193.5" stroke="#F6CB45" stroke-width="1.5" stroke-linecap="butt"/>
<path d="M357.4 62L373.5 54.7" stroke="#86ABE8" stroke-width="4.4"/>
<polygon points="332.9,32.7 336.6,29.8 396,44.5" fill="#5A92DF" fill-opacity="0.30" stroke="#E6F0FA" stroke-opacity="0.5" stroke-width="0.8" stroke-linejoin="round"/>
<circle cx="448" cy="361.9" r="15.8" fill="url(#gB)"/>
<path d="M373.5 54.7L392.2 46.3" stroke="#050505" stroke-width="4.4" stroke-linecap="butt"/>
<path d="M478.4 193.5L496.4 180.8" stroke="#050505" stroke-width="5.2" stroke-linecap="butt"/>
<path d="M237.5 371.3L234 383.1" stroke="#86ABE8" stroke-width="4.4"/>
<circle cx="240.3" cy="67.8" r="15.8" fill="url(#gB)"/>
<circle cx="396" cy="165" r="8.4" fill="#060606"/>
<polygon points="436.8,106.2 440.5,103.4 396,44.5" fill="#5A92DF" fill-opacity="0.30" stroke="#E6F0FA" stroke-opacity="0.5" stroke-width="0.8" stroke-linejoin="round"/>
<path d="M187.4 155.2L188.2 163.1" stroke="#050505" stroke-width="4.4" stroke-linecap="butt"/>
<path d="M418.6 54.8L399.9 46.3" stroke="#050505" stroke-width="4.4" stroke-linecap="butt"/>
<path d="M222.3 68.4L240.3 67.8" stroke="#5FC43A" stroke-width="1.9"/>
<path d="M448 361.9L464.5 362.5" stroke="#5FC43A" stroke-width="1.9"/>
<path d="M242.2 352.6L244.5 341.7" stroke="#86ABE8" stroke-width="4.4"/>
<circle cx="344.1" cy="214.9" r="19.4" fill="#9CC3B4" fill-opacity="0.55" stroke="#8FC79A" stroke-opacity="0.6" stroke-width="1"/>
<path d="M434.7 62.1L418.6 54.8" stroke="#86ABE8" stroke-width="4.4"/>
<circle cx="499.9" cy="265" r="8.4" fill="#060606"/>
<path d="M291.2 275.7L292.1 266.6" stroke="#050505" stroke-width="4.4" stroke-linecap="butt"/>
<polygon points="436.8,106.2 440.5,103.4 499.9,91.7" fill="#5A92DF" fill-opacity="0.30" stroke="#E6F0FA" stroke-opacity="0.5" stroke-width="0.8" stroke-linejoin="round"/>
<path d="M461.2 74.1L477.3 81.4" stroke="#86ABE8" stroke-width="4.4"/>
<polygon points="459.2,30 455.4,32.8 396,44.5" fill="#5A92DF" fill-opacity="0.30" stroke="#E6F0FA" stroke-opacity="0.5" stroke-width="0.8" stroke-linejoin="round"/>
<path d="M477.3 81.4L496 90" stroke="#050505" stroke-width="4.4" stroke-linecap="butt"/>
<path d="M395.1 317.9L395.9 335.5" stroke="#050505" stroke-width="5.2" stroke-linecap="butt"/>
<polygon points="459.2,30 455.4,32.8 499.9,91.7" fill="#5A92DF" fill-opacity="0.30" stroke="#E6F0FA" stroke-opacity="0.5" stroke-width="0.8" stroke-linejoin="round"/>
<path d="M291.3 163.6L292.1 175.8" stroke="#050505" stroke-width="5.2" stroke-linecap="butt"/>
<circle cx="396" cy="44.5" r="8.4" fill="#060606"/>
<circle cx="499.9" cy="178.4" r="8.4" fill="#060606"/>
<circle cx="344.1" cy="68" r="15.8" fill="url(#gB)"/>
<path d="M346 371.5L348.4 383.3" stroke="#86ABE8" stroke-width="4.4"/>
<path d="M341.3 352.7L337.8 341.8" stroke="#86ABE8" stroke-width="4.4"/>
<path d="M395.1 267.6L395.9 254.2" stroke="#050505" stroke-width="5.2" stroke-linecap="butt"/>
<circle cx="448" cy="215" r="19.4" fill="#9CC3B4" fill-opacity="0.55" stroke="#8FC79A" stroke-opacity="0.6" stroke-width="1"/>
<path d="M291.3 113.3L292.1 94.4" stroke="#050505" stroke-width="5.2" stroke-linecap="butt"/>
<circle cx="499.9" cy="91.7" r="8.4" fill="#060606"/>
<path d="M204.2 362.7L222.3 362.1" stroke="#5FC43A" stroke-width="1.9"/>
<path d="M445.1 371.6L441.6 383.4" stroke="#86ABE8" stroke-width="4.4"/>
<circle cx="448" cy="68.1" r="15.8" fill="url(#gB)"/>
<path d="M237.5 77.5L234 89.4" stroke="#86ABE8" stroke-width="4.4"/>
<path d="M395.1 155.5L395.9 163.4" stroke="#050505" stroke-width="4.4" stroke-linecap="butt"/>
<path d="M449.9 352.9L452.2 342" stroke="#86ABE8" stroke-width="4.4"/>
<path d="M498.9 276L499.7 266.9" stroke="#050505" stroke-width="4.4" stroke-linecap="butt"/>
<path d="M448 68.1L464.5 68.7" stroke="#5FC43A" stroke-width="1.9"/>
<path d="M242.2 58.8L244.5 47.9" stroke="#86ABE8" stroke-width="4.4"/>
<polygon points="229.1,399.7 247.8,326.3 188.4,338" fill="#5A92DF" fill-opacity="0.30" stroke="#E6F0FA" stroke-opacity="0.5" stroke-width="0.8" stroke-linejoin="round"/>
<polygon points="229.1,399.7 247.8,326.3 292.2,385.2" fill="#5A92DF" fill-opacity="0.30" stroke="#E6F0FA" stroke-opacity="0.5" stroke-width="0.8" stroke-linejoin="round"/>
<path d="M242 224.3L244.2 237" stroke="#E9A31A" stroke-width="5.2"/>
<path d="M242 224.3L244.2 237" stroke="#F6CB45" stroke-width="1.5" stroke-linecap="butt"/>
<path d="M186.7 301.7L187.4 317.6" stroke="#E9A31A" stroke-width="5.2"/>
<path d="M186.7 301.7L187.4 317.6" stroke="#F6CB45" stroke-width="1.5" stroke-linecap="butt"/>
<path d="M186.8 279L187.5 267.3" stroke="#E9A31A" stroke-width="5.2"/>
<path d="M186.8 279L187.5 267.3" stroke="#F6CB45" stroke-width="1.5" stroke-linecap="butt"/>
<path d="M498.9 163.9L499.7 176.1" stroke="#050505" stroke-width="5.2" stroke-linecap="butt"/>
<path d="M237.3 206.1L233.4 194.7" stroke="#E9A31A" stroke-width="5.2"/>
<path d="M237.3 206.1L233.4 194.7" stroke="#F6CB45" stroke-width="1.5" stroke-linecap="butt"/>
<path d="M234 383.1L229.9 396.9" stroke="#050505" stroke-width="4.4" stroke-linecap="butt"/>
<path d="M346 77.7L348.4 89.5" stroke="#86ABE8" stroke-width="4.4"/>
<path d="M341.3 59L337.8 48" stroke="#86ABE8" stroke-width="4.4"/>
<polygon points="332.9,326.4 351.6,399.9 292.2,385.2" fill="#5A92DF" fill-opacity="0.30" stroke="#E6F0FA" stroke-opacity="0.5" stroke-width="0.8" stroke-linejoin="round"/>
<path d="M498.9 113.6L499.7 94.7" stroke="#050505" stroke-width="5.2" stroke-linecap="butt"/>
<polygon points="332.9,326.4 247.8,326.3 292.2,264.7" fill="#5A92DF" fill-opacity="0.30" stroke="#E6F0FA" stroke-opacity="0.5" stroke-width="0.8" stroke-linejoin="round"/>
<path d="M244.5 341.7L247.2 328.9" stroke="#050505" stroke-width="4.4" stroke-linecap="butt"/>
<path d="M341.2 224.4L337.2 237.2" stroke="#E9A31A" stroke-width="5.2"/>
<path d="M341.2 224.4L337.2 237.2" stroke="#F6CB45" stroke-width="1.5" stroke-linecap="butt"/>
<polygon points="332.9,326.4 351.6,399.9 396,338.3" fill="#5A92DF" fill-opacity="0.30" stroke="#E6F0FA" stroke-opacity="0.5" stroke-width="0.8" stroke-linejoin="round"/>
<polygon points="229.1,105.9 144,105.8 188.4,164.7" fill="#5A92DF" fill-opacity="0.30" stroke="#E6F0FA" stroke-opacity="0.5" stroke-width="0.8" stroke-linejoin="round"/>
<path d="M204.2 68.9L222.3 68.4" stroke="#5FC43A" stroke-width="1.9"/>
<path d="M345.8 206.3L348 194.9" stroke="#E9A31A" stroke-width="5.2"/>
<path d="M345.8 206.3L348 194.9" stroke="#F6CB45" stroke-width="1.5" stroke-linecap="butt"/>
<path d="M186.7 148.5L187.4 155.2" stroke="#86ABE8" stroke-width="4.4"/>
<path d="M445.1 77.8L441.6 89.7" stroke="#86ABE8" stroke-width="4.4"/>
<path d="M290.5 283.5L291.2 275.7" stroke="#86ABE8" stroke-width="4.4"/>
<path d="M348.4 383.3L351.1 397.1" stroke="#050505" stroke-width="4.4" stroke-linecap="butt"/>
<path d="M464.5 362.5L481 363.1" stroke="#5FC43A" stroke-width="1.9"/>
<path d="M337.8 341.8L333.8 329" stroke="#050505" stroke-width="4.4" stroke-linecap="butt"/>
<path d="M449.9 59.1L452.2 48.2" stroke="#86ABE8" stroke-width="4.4"/>
<polygon points="436.8,400 455.4,326.6 396,338.3" fill="#5A92DF" fill-opacity="0.30" stroke="#E6F0FA" stroke-opacity="0.5" stroke-width="0.8" stroke-linejoin="round"/>
<polygon points="229.1,105.9 247.8,32.5 188.4,44.2" fill="#5A92DF" fill-opacity="0.30" stroke="#E6F0FA" stroke-opacity="0.5" stroke-width="0.8" stroke-linejoin="round"/>
<polygon points="436.8,400 455.4,326.6 499.9,385.5" fill="#5A92DF" fill-opacity="0.30" stroke="#E6F0FA" stroke-opacity="0.5" stroke-width="0.8" stroke-linejoin="round"/>
<polygon points="143.2,179.9 144,105.8 188.4,164.7" fill="#5A92DF" fill-opacity="0.30" stroke="#E6F0FA" stroke-opacity="0.5" stroke-width="0.8" stroke-linejoin="round"/>
<path d="M290.6 152.9L291.3 163.6" stroke="#E9A31A" stroke-width="5.2"/>
<path d="M290.6 152.9L291.3 163.6" stroke="#F6CB45" stroke-width="1.5" stroke-linecap="butt"/>
<polygon points="247,253.5 247.8,326.3 292.2,264.7" fill="#5A92DF" fill-opacity="0.30" stroke="#E6F0FA" stroke-opacity="0.5" stroke-width="0.8" stroke-linejoin="round"/>
<path d="M449.6 224.6L451.8 237.3" stroke="#E9A31A" stroke-width="5.2"/>
<path d="M449.6 224.6L451.8 237.3" stroke="#F6CB45" stroke-width="1.5" stroke-linecap="butt"/>
<polygon points="229.1,105.9 247.8,32.5 292.2,91.4" fill="#5A92DF" fill-opacity="0.30" stroke="#E6F0FA" stroke-opacity="0.5" stroke-width="0.8" stroke-linejoin="round"/>
<path d="M394.3 302L395.1 317.9" stroke="#E9A31A" stroke-width="5.2"/>
<path d="M394.3 302L395.1 317.9" stroke="#F6CB45" stroke-width="1.5" stroke-linecap="butt"/>
<path d="M394.4 279.3L395.1 267.6" stroke="#E9A31A" stroke-width="5.2"/>
<path d="M394.4 279.3L395.1 267.6" stroke="#F6CB45" stroke-width="1.5" stroke-linecap="butt"/>
<path d="M445 206.4L441 195" stroke="#E9A31A" stroke-width="5.2"/>
<path d="M445 206.4L441 195" stroke="#F6CB45" stroke-width="1.5" stroke-linecap="butt"/>
<path d="M441.6 383.4L437.6 397.2" stroke="#050505" stroke-width="4.4" stroke-linecap="butt"/>
<path d="M234 89.4L229.9 103.1" stroke="#050505" stroke-width="4.4" stroke-linecap="butt"/>
<path d="M290.5 130.3L291.3 113.3" stroke="#E9A31A" stroke-width="5.2"/>
<path d="M290.5 130.3L291.3 113.3" stroke="#F6CB45" stroke-width="1.5" stroke-linecap="butt"/>
<polygon points="229.1,105.9 228.3,180 188.4,164.7" fill="#5A92DF" fill-opacity="0.30" stroke="#E6F0FA" stroke-opacity="0.5" stroke-width="0.8" stroke-linejoin="round"/>
<circle cx="144" cy="399.6" r="8.4" fill="#060606"/>
<polygon points="332.9,326.4 332.1,253.6 292.2,264.7" fill="#5A92DF" fill-opacity="0.30" stroke="#E6F0FA" stroke-opacity="0.5" stroke-width="0.8" stroke-linejoin="round"/>
<path d="M186.1 363.2L204.2 362.7" stroke="#5FC43A" stroke-width="1.9"/>
<polygon points="540.6,326.7 455.4,326.6 499.9,265" fill="#5A92DF" fill-opacity="0.30" stroke="#E6F0FA" stroke-opacity="0.5" stroke-width="0.8" stroke-linejoin="round"/>
<polygon points="332.9,32.7 351.6,106.1 292.2,91.4" fill="#5A92DF" fill-opacity="0.30" stroke="#E6F0FA" stroke-opacity="0.5" stroke-width="0.8" stroke-linejoin="round"/>
<path d="M452.2 342L454.9 329.2" stroke="#050505" stroke-width="4.4" stroke-linecap="butt"/>
<path d="M151.1 310.7L128.8 324" stroke="#050505" stroke-width="5.2" stroke-linecap="butt"/>
<circle cx="125.3" cy="326.1" r="8.4" fill="#060606"/>
<path d="M244.5 47.9L247.2 35.1" stroke="#050505" stroke-width="4.4" stroke-linecap="butt"/>
<polygon points="436.8,106.2 351.6,106.1 396,165" fill="#5A92DF" fill-opacity="0.30" stroke="#E6F0FA" stroke-opacity="0.5" stroke-width="0.8" stroke-linejoin="round"/>
<polygon points="332.9,32.7 351.6,106.1 396,44.5" fill="#5A92DF" fill-opacity="0.30" stroke="#E6F0FA" stroke-opacity="0.5" stroke-width="0.8" stroke-linejoin="round"/>
<path d="M394.4 148.8L395.1 155.5" stroke="#86ABE8" stroke-width="4.4"/>
<circle cx="229.1" cy="399.7" r="8.4" fill="#060606"/>
<path d="M498.2 283.8L498.9 276" stroke="#86ABE8" stroke-width="4.4"/>
<polygon points="143.2,179.9 228.3,180 188.4,164.7" fill="#5A92DF" fill-opacity="0.30" stroke="#E6F0FA" stroke-opacity="0.5" stroke-width="0.8" stroke-linejoin="round"/>
<path d="M348.4 89.5L351.1 103.3" stroke="#050505" stroke-width="4.4" stroke-linecap="butt"/>
<path d="M464.5 68.7L481 69.3" stroke="#5FC43A" stroke-width="1.9"/>
<path d="M221.7 310.8L244.2 324.2" stroke="#050505" stroke-width="5.2" stroke-linecap="butt"/>
<path d="M337.8 48L333.8 35.3" stroke="#050505" stroke-width="4.4" stroke-linecap="butt"/>
<path d="M171.1 298.8L151.1 310.7" stroke="#E9A31A" stroke-width="5.2"/>
<path d="M171.1 298.8L151.1 310.7" stroke="#F6CB45" stroke-width="1.5" stroke-linecap="butt"/>
<polygon points="247,253.5 332.1,253.6 292.2,264.7" fill="#5A92DF" fill-opacity="0.30" stroke="#E6F0FA" stroke-opacity="0.5" stroke-width="0.8" stroke-linejoin="round"/>
<polygon points="436.8,106.2 455.4,32.8 396,44.5" fill="#5A92DF" fill-opacity="0.30" stroke="#E6F0FA" stroke-opacity="0.5" stroke-width="0.8" stroke-linejoin="round"/>
<path d="M266.1 310.5L250.9 323.6" stroke="#050505" stroke-width="4.4" stroke-linecap="butt"/>
<polygon points="350.8,180.2 351.6,106.1 396,165" fill="#5A92DF" fill-opacity="0.30" stroke="#E6F0FA" stroke-opacity="0.5" stroke-width="0.8" stroke-linejoin="round"/>
<path d="M498.2 153.2L498.9 163.9" stroke="#E9A31A" stroke-width="5.2"/>
<path d="M498.2 153.2L498.9 163.9" stroke="#F6CB45" stroke-width="1.5" stroke-linecap="butt"/>
<polygon points="454.6,253.8 455.4,326.6 499.9,265" fill="#5A92DF" fill-opacity="0.30" stroke="#E6F0FA" stroke-opacity="0.5" stroke-width="0.8" stroke-linejoin="round"/>
<polygon points="436.8,106.2 455.4,32.8 499.9,91.7" fill="#5A92DF" fill-opacity="0.30" stroke="#E6F0FA" stroke-opacity="0.5" stroke-width="0.8" stroke-linejoin="round"/>
<circle cx="247.8" cy="326.3" r="8.4" fill="#060606"/>
<path d="M201.4 298.8L221.7 310.8" stroke="#E9A31A" stroke-width="5.2"/>
<path d="M201.4 298.8L221.7 310.8" stroke="#F6CB45" stroke-width="1.5" stroke-linecap="butt"/>
<path d="M441.6 89.7L437.6 103.4" stroke="#050505" stroke-width="4.4" stroke-linecap="butt"/>
<path d="M162.3 122L147.1 108.6" stroke="#050505" stroke-width="4.4" stroke-linecap="butt"/>
<path d="M498.2 130.6L498.9 113.6" stroke="#E9A31A" stroke-width="5.2"/>
<path d="M498.2 130.6L498.9 113.6" stroke="#F6CB45" stroke-width="1.5" stroke-linecap="butt"/>
<polygon points="436.8,106.2 435.9,180.3 396,165" fill="#5A92DF" fill-opacity="0.30" stroke="#E6F0FA" stroke-opacity="0.5" stroke-width="0.8" stroke-linejoin="round"/>
<circle cx="351.6" cy="399.9" r="8.4" fill="#060606"/>
<path d="M314.2 310.5L329.8 323.7" stroke="#050505" stroke-width="4.4" stroke-linecap="butt"/>
<polygon points="540.6,326.7 539.8,253.9 499.9,265" fill="#5A92DF" fill-opacity="0.30" stroke="#E6F0FA" stroke-opacity="0.5" stroke-width="0.8" stroke-linejoin="round"/>
<path d="M244.2 237L246.6 251.2" stroke="#050505" stroke-width="5.2" stroke-linecap="butt"/>
<circle cx="144" cy="105.8" r="8.4" fill="#060606"/>
<path d="M358.7 311L336.5 324.3" stroke="#050505" stroke-width="5.2" stroke-linecap="butt"/>
<path d="M186.1 69.5L204.2 68.9" stroke="#5FC43A" stroke-width="1.9"/>
<path d="M279.2 299.2L266.1 310.5" stroke="#86ABE8" stroke-width="4.4"/>
<circle cx="332.9" cy="326.4" r="8.4" fill="#060606"/>
<path d="M452.2 48.2L454.9 35.4" stroke="#050505" stroke-width="4.4" stroke-linecap="butt"/>
<path d="M233.4 194.7L229 182" stroke="#050505" stroke-width="5.2" stroke-linecap="butt"/>
<path d="M138.9 384.9L143.3 397.6" stroke="#050505" stroke-width="5.2" stroke-linecap="butt"/>
<path d="M210.4 122L225.9 108.7" stroke="#050505" stroke-width="4.4" stroke-linecap="butt"/>
<circle cx="125.3" cy="32.4" r="8.4" fill="#060606"/>
<path d="M175.4 133.5L162.3 122" stroke="#86ABE8" stroke-width="4.4"/>
<path d="M300.9 299.2L314.2 310.5" stroke="#86ABE8" stroke-width="4.4"/>
<path d="M254.9 121.7L232.7 108.1" stroke="#050505" stroke-width="5.2" stroke-linecap="butt"/>
<path d="M128.1 342.5L125.7 328.4" stroke="#050505" stroke-width="5.2" stroke-linecap="butt"/>
<circle cx="436.8" cy="400" r="8.4" fill="#060606"/>
<polygon points="350.8,180.2 435.9,180.3 396,165" fill="#5A92DF" fill-opacity="0.30" stroke="#E6F0FA" stroke-opacity="0.5" stroke-width="0.8" stroke-linejoin="round"/>
<path d="M481 363.1L497.6 363.7" stroke="#5FC43A" stroke-width="1.9"/>
<path d="M197.1 133.5L210.4 122" stroke="#86ABE8" stroke-width="4.4"/>
<circle cx="229.1" cy="105.9" r="8.4" fill="#060606"/>
<path d="M337.2 237.2L332.8 251.3" stroke="#050505" stroke-width="5.2" stroke-linecap="butt"/>
<path d="M429.3 311.1L451.8 324.5" stroke="#050505" stroke-width="5.2" stroke-linecap="butt"/>
<path d="M170.9 280.8L150.6 268.8" stroke="#E9A31A" stroke-width="5.2"/>
<path d="M170.9 280.8L150.6 268.8" stroke="#F6CB45" stroke-width="1.5" stroke-linecap="butt"/>
<path d="M378.7 299.1L358.7 311" stroke="#E9A31A" stroke-width="5.2"/>
<path d="M378.7 299.1L358.7 311" stroke="#F6CB45" stroke-width="1.5" stroke-linecap="butt"/>
<polygon points="454.6,253.8 539.8,253.9 499.9,265" fill="#5A92DF" fill-opacity="0.30" stroke="#E6F0FA" stroke-opacity="0.5" stroke-width="0.8" stroke-linejoin="round"/>
<path d="M231.9 385L229.5 397.7" stroke="#050505" stroke-width="5.2" stroke-linecap="butt"/>
<path d="M473.8 310.8L458.5 323.9" stroke="#050505" stroke-width="4.4" stroke-linecap="butt"/>
<path d="M274.9 133.9L254.9 121.7" stroke="#E9A31A" stroke-width="5.2"/>
<circle cx="455.4" cy="326.6" r="8.4" fill="#060606"/>
<path d="M274.9 133.9L254.9 121.7" stroke="#F6CB45" stroke-width="1.5" stroke-linecap="butt"/>
<path d="M348 194.9L350.4 182.2" stroke="#050505" stroke-width="5.2" stroke-linecap="butt"/>
<path d="M325.5 121.8L348 108.3" stroke="#050505" stroke-width="5.2" stroke-linecap="butt"/>
<path d="M201.2 280.8L221.2 268.9" stroke="#E9A31A" stroke-width="5.2"/>
<path d="M201.2 280.8L221.2 268.9" stroke="#F6CB45" stroke-width="1.5" stroke-linecap="butt"/>
<circle cx="247.8" cy="32.5" r="8.4" fill="#060606"/>
<path d="M409 299.1L429.3 311.1" stroke="#E9A31A" stroke-width="5.2"/>
<path d="M409 299.1L429.3 311.1" stroke="#F6CB45" stroke-width="1.5" stroke-linecap="butt"/>
<path d="M168.1 363.8L186.1 363.2" stroke="#5FC43A" stroke-width="1.9"/>
<path d="M150.6 268.8L128.1 255.4" stroke="#050505" stroke-width="5.2" stroke-linecap="butt"/>
<path d="M242.7 342.7L247.1 328.6" stroke="#050505" stroke-width="5.2" stroke-linecap="butt"/>
<path d="M370 122.3L354.7 108.9" stroke="#050505" stroke-width="4.4" stroke-linecap="butt"/>
<circle cx="559.3" cy="400.2" r="8.4" fill="#060606"/>
<path d="M521.9 310.8L537.4 324" stroke="#050505" stroke-width="4.4" stroke-linecap="butt"/>
<path d="M305.2 133.9L325.5 121.8" stroke="#E9A31A" stroke-width="5.2"/>
<path d="M305.2 133.9L325.5 121.8" stroke="#F6CB45" stroke-width="1.5" stroke-linecap="butt"/>
<path d="M175.2 152.3L161.9 163.8" stroke="#86ABE8" stroke-width="4.4"/>
<path d="M451.8 237.3L454.2 251.5" stroke="#050505" stroke-width="5.2" stroke-linecap="butt"/>
<circle cx="351.6" cy="106.1" r="8.4" fill="#060606"/>
<path d="M279 280.6L265.7 269.3" stroke="#86ABE8" stroke-width="4.4"/>
<path d="M486.9 299.5L473.8 310.8" stroke="#86ABE8" stroke-width="4.4"/>
<circle cx="540.6" cy="326.7" r="8.4" fill="#060606"/>
<circle cx="186.1" cy="289.8" r="19.4" fill="url(#gA)" stroke="#B5600F" stroke-width="0.9"/>
<path d="M196.9 152.4L209.9 163.9" stroke="#86ABE8" stroke-width="4.4"/>
<path d="M441 195L436.6 182.3" stroke="#050505" stroke-width="5.2" stroke-linecap="butt"/>
<path d="M346.5 385.2L350.9 397.9" stroke="#050505" stroke-width="5.2" stroke-linecap="butt"/>
<path d="M418.1 122.3L433.6 109" stroke="#050505" stroke-width="4.4" stroke-linecap="butt"/>
<circle cx="332.9" cy="32.7" r="8.4" fill="#060606"/>
<path d="M161.9 163.8L146.3 177.2" stroke="#050505" stroke-width="4.4" stroke-linecap="butt"/>
<path d="M300.7 280.7L313.8 269.4" stroke="#86ABE8" stroke-width="4.4"/>
<path d="M138.9 91.1L143.3 103.8" stroke="#050505" stroke-width="5.2" stroke-linecap="butt"/>
<path d="M383 133.8L370 122.3" stroke="#86ABE8" stroke-width="4.4"/>
<path d="M508.6 299.5L521.9 310.8" stroke="#86ABE8" stroke-width="4.4"/>
<path d="M221.2 268.9L243.4 255.6" stroke="#050505" stroke-width="5.2" stroke-linecap="butt"/>
<path d="M462.5 122L440.3 108.4" stroke="#050505" stroke-width="5.2" stroke-linecap="butt"/>
<path d="M335.8 342.8L333.3 328.7" stroke="#050505" stroke-width="5.2" stroke-linecap="butt"/>
<path d="M265.7 269.3L250.1 256.2" stroke="#050505" stroke-width="4.4" stroke-linecap="butt"/>
<path d="M128.1 48.8L125.7 34.6" stroke="#050505" stroke-width="5.2" stroke-linecap="butt"/>
<path d="M404.7 133.8L418.1 122.3" stroke="#86ABE8" stroke-width="4.4"/>
<circle cx="436.8" cy="106.2" r="8.4" fill="#060606"/>
<circle cx="290" cy="289.9" r="15.8" fill="url(#gB)"/>
<path d="M274.7 152.2L254.4 164.4" stroke="#E9A31A" stroke-width="5.2"/>
<path d="M274.7 152.2L254.4 164.4" stroke="#F6CB45" stroke-width="1.5" stroke-linecap="butt"/>
<circle cx="124.5" cy="253.3" r="8.4" fill="#060606"/>
<path d="M481 69.3L497.6 69.9" stroke="#5FC43A" stroke-width="1.9"/>
<circle cx="186.1" cy="142.9" r="15.8" fill="url(#gB)"/>
<path d="M378.5 281.1L358.2 269.1" stroke="#E9A31A" stroke-width="5.2"/>
<path d="M378.5 281.1L358.2 269.1" stroke="#F6CB45" stroke-width="1.5" stroke-linecap="butt"/>
<path d="M209.9 163.9L225.2 177.3" stroke="#050505" stroke-width="4.4" stroke-linecap="butt"/>
<path d="M439.6 385.3L437.1 398" stroke="#050505" stroke-width="5.2" stroke-linecap="butt"/>
<path d="M254.4 164.4L231.9 177.9" stroke="#050505" stroke-width="5.2" stroke-linecap="butt"/>
<path d="M231.9 91.2L229.5 103.9" stroke="#050505" stroke-width="5.2" stroke-linecap="butt"/>
<path d="M313.8 269.4L329 256.3" stroke="#050505" stroke-width="4.4" stroke-linecap="butt"/>
<path d="M305 152.3L325 164.5" stroke="#E9A31A" stroke-width="5.2"/>
<path d="M305 152.3L325 164.5" stroke="#F6CB45" stroke-width="1.5" stroke-linecap="butt"/>
<path d="M482.5 134.2L462.5 122" stroke="#E9A31A" stroke-width="5.2"/>
<path d="M482.5 134.2L462.5 122" stroke="#F6CB45" stroke-width="1.5" stroke-linecap="butt"/>
<path d="M533.1 122.1L555.7 108.6" stroke="#050505" stroke-width="5.2" stroke-linecap="butt"/>
<path d="M408.8 281.1L428.8 269.2" stroke="#E9A31A" stroke-width="5.2"/>
<path d="M408.8 281.1L428.8 269.2" stroke="#F6CB45" stroke-width="1.5" stroke-linecap="butt"/>
<circle cx="455.4" cy="32.8" r="8.4" fill="#060606"/>
<polygon points="332.9,326.4 247.8,326.3 287.7,315.2" fill="#5A92DF" fill-opacity="0.30" stroke="#E6F0FA" stroke-opacity="0.5" stroke-width="0.8" stroke-linejoin="round"/>
<circle cx="143.2" cy="179.9" r="8.4" fill="#060606"/>
<path d="M358.2 269.1L335.7 255.7" stroke="#050505" stroke-width="5.2" stroke-linecap="butt"/>
<path d="M450.3 343L454.7 328.9" stroke="#050505" stroke-width="5.2" stroke-linecap="butt"/>
<path d="M168.1 70L186.1 69.5" stroke="#5FC43A" stroke-width="1.9"/>
<path d="M512.9 134.2L533.1 122.1" stroke="#E9A31A" stroke-width="5.2"/>
<path d="M512.9 134.2L533.1 122.1" stroke="#F6CB45" stroke-width="1.5" stroke-linecap="butt"/>
<path d="M242.7 48.9L247.1 34.8" stroke="#050505" stroke-width="5.2" stroke-linecap="butt"/>
<path d="M382.8 152.6L369.5 164.1" stroke="#86ABE8" stroke-width="4.4"/>
<circle cx="559.3" cy="106.4" r="8.4" fill="#060606"/>
<circle cx="247" cy="253.5" r="8.4" fill="#060606"/>
<path d="M486.6 281L473.3 269.6" stroke="#86ABE8" stroke-width="4.4"/>
<polygon points="229.1,105.9 144,105.8 183.9,121.1" fill="#5A92DF" fill-opacity="0.30" stroke="#E6F0FA" stroke-opacity="0.5" stroke-width="0.8" stroke-linejoin="round"/>
<path d="M325 164.5L347.3 178" stroke="#050505" stroke-width="5.2" stroke-linecap="butt"/>
<circle cx="393.8" cy="290.1" r="19.4" fill="url(#gA)" stroke="#B5600F" stroke-width="0.9"/>
<path d="M404.5 152.7L417.6 164.2" stroke="#86ABE8" stroke-width="4.4"/>
<circle cx="290" cy="143.1" r="19.4" fill="url(#gA)" stroke="#B5600F" stroke-width="0.9"/>
<path d="M554.2 385.5L558.6 398.2" stroke="#050505" stroke-width="5.2" stroke-linecap="butt"/>
<circle cx="540.6" cy="33" r="8.4" fill="#060606"/>
<path d="M369.5 164.1L354 177.5" stroke="#050505" stroke-width="4.4" stroke-linecap="butt"/>
<circle cx="228.3" cy="180" r="8.4" fill="#060606"/>
<path d="M508.3 281L521.4 269.7" stroke="#86ABE8" stroke-width="4.4"/>
<path d="M346.5 91.4L350.9 104.1" stroke="#050505" stroke-width="5.2" stroke-linecap="butt"/>
<path d="M428.8 269.2L451.1 255.9" stroke="#050505" stroke-width="5.2" stroke-linecap="butt"/>
<path d="M127.7 237.9L125 250.7" stroke="#050505" stroke-width="4.4" stroke-linecap="butt"/>
<path d="M543.4 343.1L541 329" stroke="#050505" stroke-width="5.2" stroke-linecap="butt"/>
<path d="M473.3 269.6L457.8 256.5" stroke="#050505" stroke-width="4.4" stroke-linecap="butt"/>
<path d="M335.8 49.1L333.3 34.9" stroke="#050505" stroke-width="5.2" stroke-linecap="butt"/>
<path d="M497.6 363.7L514.1 364.3" stroke="#5FC43A" stroke-width="1.9"/>
<polygon points="247,253.5 247.8,326.3 287.7,315.2" fill="#5A92DF" fill-opacity="0.30" stroke="#E6F0FA" stroke-opacity="0.5" stroke-width="0.8" stroke-linejoin="round"/>
<circle cx="497.6" cy="290.2" r="15.8" fill="url(#gB)"/>
<path d="M482.3 152.5L462.1 164.7" stroke="#E9A31A" stroke-width="5.2"/>
<path d="M482.3 152.5L462.1 164.7" stroke="#F6CB45" stroke-width="1.5" stroke-linecap="butt"/>
<circle cx="332.1" cy="253.6" r="8.4" fill="#060606"/>
<circle cx="393.8" cy="143.2" r="15.8" fill="url(#gB)"/>
<path d="M417.6 164.2L432.8 177.6" stroke="#050505" stroke-width="4.4" stroke-linecap="butt"/>
<polygon points="143.2,179.9 144,105.8 183.9,121.1" fill="#5A92DF" fill-opacity="0.30" stroke="#E6F0FA" stroke-opacity="0.5" stroke-width="0.8" stroke-linejoin="round"/>
<path d="M138.3 196.5L142.3 182.7" stroke="#050505" stroke-width="4.4" stroke-linecap="butt"/>
<path d="M134.9 373.5L138.9 384.9" stroke="#E9A31A" stroke-width="5.2"/>
<path d="M134.9 373.5L138.9 384.9" stroke="#F6CB45" stroke-width="1.5" stroke-linecap="butt"/>
<path d="M185.5 300.6L184.8 312.3" stroke="#E9A31A" stroke-width="5.2"/>
<path d="M185.5 300.6L184.8 312.3" stroke="#F6CB45" stroke-width="1.5" stroke-linecap="butt"/>
<path d="M185.6 277.9L184.8 262" stroke="#E9A31A" stroke-width="5.2"/>
<path d="M185.6 277.9L184.8 262" stroke="#F6CB45" stroke-width="1.5" stroke-linecap="butt"/>
<path d="M130.3 355.3L128.1 342.5" stroke="#E9A31A" stroke-width="5.2"/>
<path d="M130.3 355.3L128.1 342.5" stroke="#F6CB45" stroke-width="1.5" stroke-linecap="butt"/>
<path d="M150 364.3L168.1 363.8" stroke="#5FC43A" stroke-width="1.9"/>
<path d="M462.1 164.7L439.5 178.2" stroke="#050505" stroke-width="5.2" stroke-linecap="butt"/>
<path d="M439.6 91.6L437.1 104.2" stroke="#050505" stroke-width="5.2" stroke-linecap="butt"/>
<path d="M521.4 269.7L536.7 256.6" stroke="#050505" stroke-width="4.4" stroke-linecap="butt"/>
<path d="M512.7 152.6L532.7 164.8" stroke="#E9A31A" stroke-width="5.2"/>
<path d="M512.7 152.6L532.7 164.8" stroke="#F6CB45" stroke-width="1.5" stroke-linecap="butt"/>
<polygon points="332.9,326.4 332.1,253.6 287.7,315.2" fill="#5A92DF" fill-opacity="0.30" stroke="#E6F0FA" stroke-opacity="0.5" stroke-width="0.8" stroke-linejoin="round"/>
<polygon points="143.2,179.9 124.5,253.3 80,194.4" fill="#5A92DF" fill-opacity="0.30" stroke="#E6F0FA" stroke-opacity="0.5" stroke-width="0.8" stroke-linejoin="round"/>
<polygon points="540.6,326.7 455.4,326.6 495.3,315.5" fill="#5A92DF" fill-opacity="0.30" stroke="#E6F0FA" stroke-opacity="0.5" stroke-width="0.8" stroke-linejoin="round"/>
<polygon points="229.1,105.9 228.3,180 183.9,121.1" fill="#5A92DF" fill-opacity="0.30" stroke="#E6F0FA" stroke-opacity="0.5" stroke-width="0.8" stroke-linejoin="round"/>
<circle cx="350.8" cy="180.2" r="8.4" fill="#060606"/>
<path d="M242.1 238.1L246.2 250.9" stroke="#050505" stroke-width="4.4" stroke-linecap="butt"/>
<polygon points="143.2,179.9 124.5,253.3 183.9,241.6" fill="#5A92DF" fill-opacity="0.30" stroke="#E6F0FA" stroke-opacity="0.5" stroke-width="0.8" stroke-linejoin="round"/>
<path d="M450.3 49.2L454.7 35.1" stroke="#050505" stroke-width="5.2" stroke-linecap="butt"/>
<path d="M231.6 196.6L228.8 182.8" stroke="#050505" stroke-width="4.4" stroke-linecap="butt"/>
<path d="M289.4 296.4L288.7 304.2" stroke="#86ABE8" stroke-width="4.4"/>
<path d="M234.1 373.6L231.9 385" stroke="#E9A31A" stroke-width="5.2"/>
<path d="M234.1 373.6L231.9 385" stroke="#F6CB45" stroke-width="1.5" stroke-linecap="butt"/>
<circle cx="454.6" cy="253.8" r="8.4" fill="#060606"/>
<polygon points="436.8,106.2 351.6,106.1 391.5,121.4" fill="#5A92DF" fill-opacity="0.30" stroke="#E6F0FA" stroke-opacity="0.5" stroke-width="0.8" stroke-linejoin="round"/>
<path d="M185.6 137.4L184.9 130.6" stroke="#86ABE8" stroke-width="4.4"/>
<path d="M532.7 164.8L554.9 178.3" stroke="#050505" stroke-width="5.2" stroke-linecap="butt"/>
<path d="M238.8 355.4L242.7 342.7" stroke="#E9A31A" stroke-width="5.2"/>
<path d="M238.8 355.4L242.7 342.7" stroke="#F6CB45" stroke-width="1.5" stroke-linecap="butt"/>
<circle cx="497.6" cy="143.4" r="19.4" fill="url(#gA)" stroke="#B5600F" stroke-width="0.9"/>
<polygon points="247,253.5 228.3,180 183.9,241.6" fill="#5A92DF" fill-opacity="0.30" stroke="#E6F0FA" stroke-opacity="0.5" stroke-width="0.8" stroke-linejoin="round"/>
<circle cx="435.9" cy="180.3" r="8.4" fill="#060606"/>
<path d="M554.2 91.7L558.6 104.4" stroke="#050505" stroke-width="5.2" stroke-linecap="butt"/>
<polygon points="143.2,179.9 228.3,180 183.9,121.1" fill="#5A92DF" fill-opacity="0.30" stroke="#E6F0FA" stroke-opacity="0.5" stroke-width="0.8" stroke-linejoin="round"/>
<path d="M335.4 238.2L332.7 251" stroke="#050505" stroke-width="4.4" stroke-linecap="butt"/>
<polygon points="247,253.5 332.1,253.6 287.7,315.2" fill="#5A92DF" fill-opacity="0.30" stroke="#E6F0FA" stroke-opacity="0.5" stroke-width="0.8" stroke-linejoin="round"/>
<path d="M543.4 49.4L541 35.2" stroke="#050505" stroke-width="5.2" stroke-linecap="butt"/>
<polygon points="247,253.5 228.3,180 287.7,194.7" fill="#5A92DF" fill-opacity="0.30" stroke="#E6F0FA" stroke-opacity="0.5" stroke-width="0.8" stroke-linejoin="round"/>
<polygon points="454.6,253.8 455.4,326.6 495.3,315.5" fill="#5A92DF" fill-opacity="0.30" stroke="#E6F0FA" stroke-opacity="0.5" stroke-width="0.8" stroke-linejoin="round"/>
<circle cx="539.8" cy="253.9" r="8.4" fill="#060606"/>
<path d="M497.6 69.9L514.1 70.5" stroke="#5FC43A" stroke-width="1.9"/>
<path d="M289.4 155.9L288.6 172.8" stroke="#E9A31A" stroke-width="5.2"/>
<path d="M289.4 155.9L288.6 172.8" stroke="#F6CB45" stroke-width="1.5" stroke-linecap="butt"/>
<polygon points="350.8,180.2 351.6,106.1 391.5,121.4" fill="#5A92DF" fill-opacity="0.30" stroke="#E6F0FA" stroke-opacity="0.5" stroke-width="0.8" stroke-linejoin="round"/>
<path d="M345.9 196.8L350 183" stroke="#050505" stroke-width="4.4" stroke-linecap="butt"/>
<path d="M342.6 373.8L346.5 385.2" stroke="#E9A31A" stroke-width="5.2"/>
<path d="M342.6 373.8L346.5 385.2" stroke="#F6CB45" stroke-width="1.5" stroke-linecap="butt"/>
<path d="M393.1 300.9L392.4 312.6" stroke="#E9A31A" stroke-width="5.2"/>
<path d="M393.1 300.9L392.4 312.6" stroke="#F6CB45" stroke-width="1.5" stroke-linecap="butt"/>
<path d="M393.2 278.2L392.5 262.3" stroke="#E9A31A" stroke-width="5.2"/>
<path d="M393.2 278.2L392.5 262.3" stroke="#F6CB45" stroke-width="1.5" stroke-linecap="butt"/>
<path d="M337.9 355.6L335.8 342.8" stroke="#E9A31A" stroke-width="5.2"/>
<path d="M337.9 355.6L335.8 342.8" stroke="#F6CB45" stroke-width="1.5" stroke-linecap="butt"/>
<path d="M134.9 79.7L138.9 91.1" stroke="#E9A31A" stroke-width="5.2"/>
<path d="M134.9 79.7L138.9 91.1" stroke="#F6CB45" stroke-width="1.5" stroke-linecap="butt"/>
<path d="M130.3 61.5L128.1 48.8" stroke="#E9A31A" stroke-width="5.2"/>
<path d="M130.3 61.5L128.1 48.8" stroke="#F6CB45" stroke-width="1.5" stroke-linecap="butt"/>
<path d="M150 70.6L168.1 70" stroke="#5FC43A" stroke-width="1.9"/>
<polygon points="540.6,326.7 539.8,253.9 495.3,315.5" fill="#5A92DF" fill-opacity="0.30" stroke="#E6F0FA" stroke-opacity="0.5" stroke-width="0.8" stroke-linejoin="round"/>
<path d="M289.3 133.2L288.6 122.5" stroke="#E9A31A" stroke-width="5.2"/>
<path d="M289.3 133.2L288.6 122.5" stroke="#F6CB45" stroke-width="1.5" stroke-linecap="butt"/>
<polygon points="350.8,180.2 332.1,253.6 287.7,194.7" fill="#5A92DF" fill-opacity="0.30" stroke="#E6F0FA" stroke-opacity="0.5" stroke-width="0.8" stroke-linejoin="round"/>
<polygon points="436.8,106.2 435.9,180.3 391.5,121.4" fill="#5A92DF" fill-opacity="0.30" stroke="#E6F0FA" stroke-opacity="0.5" stroke-width="0.8" stroke-linejoin="round"/>
<circle cx="558.4" cy="180.5" r="8.4" fill="#060606"/>
<path d="M449.7 238.4L453.8 251.2" stroke="#050505" stroke-width="4.4" stroke-linecap="butt"/>
<polygon points="350.8,180.2 332.1,253.6 391.5,241.9" fill="#5A92DF" fill-opacity="0.30" stroke="#E6F0FA" stroke-opacity="0.5" stroke-width="0.8" stroke-linejoin="round"/>
<path d="M130.1 227L127.7 237.9" stroke="#86ABE8" stroke-width="4.4"/>
<path d="M439.2 196.9L436.5 183.1" stroke="#050505" stroke-width="4.4" stroke-linecap="butt"/>
<path d="M497 296.7L496.3 304.5" stroke="#86ABE8" stroke-width="4.4"/>
<path d="M441.8 373.9L439.6 385.3" stroke="#E9A31A" stroke-width="5.2"/>
<path d="M441.8 373.9L439.6 385.3" stroke="#F6CB45" stroke-width="1.5" stroke-linecap="butt"/>
<path d="M134.8 208.3L138.3 196.5" stroke="#86ABE8" stroke-width="4.4"/>
<path d="M393.2 137.7L392.5 130.9" stroke="#86ABE8" stroke-width="4.4"/>
<path d="M234.1 79.9L231.9 91.2" stroke="#E9A31A" stroke-width="5.2"/>
<path d="M234.1 79.9L231.9 91.2" stroke="#F6CB45" stroke-width="1.5" stroke-linecap="butt"/>
<path d="M446.4 355.7L450.3 343" stroke="#E9A31A" stroke-width="5.2"/>
<path d="M446.4 355.7L450.3 343" stroke="#F6CB45" stroke-width="1.5" stroke-linecap="butt"/>
<polygon points="454.6,253.8 435.9,180.3 391.5,241.9" fill="#5A92DF" fill-opacity="0.30" stroke="#E6F0FA" stroke-opacity="0.5" stroke-width="0.8" stroke-linejoin="round"/>
<path d="M238.8 61.7L242.7 48.9" stroke="#E9A31A" stroke-width="5.2"/>
<path d="M238.8 61.7L242.7 48.9" stroke="#F6CB45" stroke-width="1.5" stroke-linecap="butt"/>
<polygon points="350.8,180.2 435.9,180.3 391.5,121.4" fill="#5A92DF" fill-opacity="0.30" stroke="#E6F0FA" stroke-opacity="0.5" stroke-width="0.8" stroke-linejoin="round"/>
<path d="M543 238.5L540.3 251.3" stroke="#050505" stroke-width="4.4" stroke-linecap="butt"/>
<polygon points="454.6,253.8 539.8,253.9 495.3,315.5" fill="#5A92DF" fill-opacity="0.30" stroke="#E6F0FA" stroke-opacity="0.5" stroke-width="0.8" stroke-linejoin="round"/>
<path d="M514.1 364.3L530.7 364.9" stroke="#5FC43A" stroke-width="1.9"/>
<path d="M184.8 312.3L184 325.7" stroke="#050505" stroke-width="5.2" stroke-linecap="butt"/>
<polygon points="454.6,253.8 435.9,180.3 495.3,195" fill="#5A92DF" fill-opacity="0.30" stroke="#E6F0FA" stroke-opacity="0.5" stroke-width="0.8" stroke-linejoin="round"/>
<path d="M238.6 227.2L242.1 238.1" stroke="#86ABE8" stroke-width="4.4"/>
<path d="M132 364.9L150 364.3" stroke="#5FC43A" stroke-width="1.9"/>
<path d="M497 156.2L496.3 173.1" stroke="#E9A31A" stroke-width="5.2"/>
<path d="M497 156.2L496.3 173.1" stroke="#F6CB45" stroke-width="1.5" stroke-linecap="butt"/>
<path d="M233.9 208.4L231.6 196.6" stroke="#86ABE8" stroke-width="4.4"/>
<path d="M553.6 197.1L557.6 183.3" stroke="#050505" stroke-width="4.4" stroke-linecap="butt"/>
<path d="M550.2 374.1L554.2 385.5" stroke="#E9A31A" stroke-width="5.2"/>
<path d="M550.2 374.1L554.2 385.5" stroke="#F6CB45" stroke-width="1.5" stroke-linecap="butt"/>
<path d="M545.6 355.9L543.4 343.1" stroke="#E9A31A" stroke-width="5.2"/>
<path d="M545.6 355.9L543.4 343.1" stroke="#F6CB45" stroke-width="1.5" stroke-linecap="butt"/>
<path d="M342.6 80L346.5 91.4" stroke="#E9A31A" stroke-width="5.2"/>
<path d="M342.6 80L346.5 91.4" stroke="#F6CB45" stroke-width="1.5" stroke-linecap="butt"/>
<path d="M184.8 262L184 244.4" stroke="#050505" stroke-width="5.2" stroke-linecap="butt"/>
<path d="M337.9 61.8L335.8 49.1" stroke="#E9A31A" stroke-width="5.2"/>
<path d="M337.9 61.8L335.8 49.1" stroke="#F6CB45" stroke-width="1.5" stroke-linecap="butt"/>
<path d="M497 133.5L496.3 122.8" stroke="#E9A31A" stroke-width="5.2"/>
<path d="M497 133.5L496.3 122.8" stroke="#F6CB45" stroke-width="1.5" stroke-linecap="butt"/>
<polygon points="558.4,180.5 539.8,253.9 495.3,195" fill="#5A92DF" fill-opacity="0.30" stroke="#E6F0FA" stroke-opacity="0.5" stroke-width="0.8" stroke-linejoin="round"/>
<polygon points="558.4,180.5 539.8,253.9 599.2,242.2" fill="#5A92DF" fill-opacity="0.30" stroke="#E6F0FA" stroke-opacity="0.5" stroke-width="0.8" stroke-linejoin="round"/>
<path d="M288.7 304.2L287.9 313.3" stroke="#050505" stroke-width="4.4" stroke-linecap="butt"/>
<path d="M337.7 227.3L335.4 238.2" stroke="#86ABE8" stroke-width="4.4"/>
<path d="M184.9 130.6L184 122.7" stroke="#050505" stroke-width="4.4" stroke-linecap="butt"/>
<path d="M342.5 208.6L345.9 196.8" stroke="#86ABE8" stroke-width="4.4"/>
<path d="M101.5 386.4L83.5 399.1" stroke="#050505" stroke-width="5.2" stroke-linecap="butt"/>
<path d="M441.8 80.2L439.6 91.6" stroke="#E9A31A" stroke-width="5.2"/>
<path d="M441.8 80.2L439.6 91.6" stroke="#F6CB45" stroke-width="1.5" stroke-linecap="butt"/>
<path d="M117.4 375.2L101.5 386.4" stroke="#E9A31A" stroke-width="5.2"/>
<path d="M117.4 375.2L101.5 386.4" stroke="#F6CB45" stroke-width="1.5" stroke-linecap="butt"/>
<path d="M446.4 62L450.3 49.2" stroke="#E9A31A" stroke-width="5.2"/>
<path d="M446.4 62L450.3 49.2" stroke="#F6CB45" stroke-width="1.5" stroke-linecap="butt"/>
<path d="M102 336.1L83.1 317.8" stroke="#050505" stroke-width="5.2" stroke-linecap="butt"/>
<path d="M119.1 352.5L102 336.1" stroke="#E9A31A" stroke-width="5.2"/>
<path d="M119.1 352.5L102 336.1" stroke="#F6CB45" stroke-width="1.5" stroke-linecap="butt"/>
<path d="M144.8 377.3L161.9 393.7" stroke="#E9A31A" stroke-width="5.2"/>
<path d="M144.8 377.3L161.9 393.7" stroke="#F6CB45" stroke-width="1.5" stroke-linecap="butt"/>
<circle cx="80" cy="401.5" r="8.4" fill="#060606"/>
<path d="M288.6 172.8L287.8 191.7" stroke="#050505" stroke-width="5.2" stroke-linecap="butt"/>
<path d="M392.4 312.6L391.7 326" stroke="#050505" stroke-width="5.2" stroke-linecap="butt"/>
<path d="M132 364.9L132 340.4" stroke="#5FC43A" stroke-width="1.9"/>
<path d="M161.9 393.7L180.8 412" stroke="#050505" stroke-width="5.2" stroke-linecap="butt"/>
<path d="M446.3 227.5L449.7 238.4" stroke="#86ABE8" stroke-width="4.4"/>
<path d="M514.1 70.5L530.7 71.1" stroke="#5FC43A" stroke-width="1.9"/>
<path d="M132 340.4L132 315.9" stroke="#5FC43A" stroke-width="1.9"/>
<path d="M441.5 208.7L439.2 196.9" stroke="#86ABE8" stroke-width="4.4"/>
<path d="M132 71.1L150 70.6" stroke="#5FC43A" stroke-width="1.9"/>
<path d="M146.5 354.6L162.4 343.4" stroke="#E9A31A" stroke-width="5.2"/>
<path d="M146.5 354.6L162.4 343.4" stroke="#F6CB45" stroke-width="1.5" stroke-linecap="butt"/>
<path d="M205.9 393.8L186.9 412" stroke="#050505" stroke-width="5.2" stroke-linecap="butt"/>
<path d="M132 315.9L132 291.4" stroke="#5FC43A" stroke-width="1.9"/>
<path d="M550.2 80.3L554.2 91.7" stroke="#E9A31A" stroke-width="5.2"/>
<path d="M550.2 80.3L554.2 91.7" stroke="#F6CB45" stroke-width="1.5" stroke-linecap="butt"/>
<path d="M392.5 262.3L391.6 244.7" stroke="#050505" stroke-width="5.2" stroke-linecap="butt"/>
<path d="M288.6 122.5L287.8 110.4" stroke="#050505" stroke-width="5.2" stroke-linecap="butt"/>
<path d="M162.4 343.4L180.4 330.7" stroke="#050505" stroke-width="5.2" stroke-linecap="butt"/>
<path d="M132 291.4L132 267" stroke="#5FC43A" stroke-width="1.9"/>
<path d="M222.9 377.4L205.9 393.8" stroke="#E9A31A" stroke-width="5.2"/>
<path d="M222.9 377.4L205.9 393.8" stroke="#F6CB45" stroke-width="1.5" stroke-linecap="butt"/>
<path d="M545.6 62.1L543.4 49.4" stroke="#E9A31A" stroke-width="5.2"/>
<path d="M545.6 62.1L543.4 49.4" stroke="#F6CB45" stroke-width="1.5" stroke-linecap="butt"/>
<circle cx="80" cy="314.9" r="8.4" fill="#060606"/>
<polygon points="120.8,256.1 124.5,253.3 80,194.4" fill="#5A92DF" fill-opacity="0.30" stroke="#E6F0FA" stroke-opacity="0.5" stroke-width="0.8" stroke-linejoin="round"/>
<path d="M132 267L132 242.5" stroke="#5FC43A" stroke-width="1.9"/>
<path d="M205.3 343.5L187.3 330.7" stroke="#050505" stroke-width="5.2" stroke-linecap="butt"/>
<path d="M102.6 204.7L83.9 196.2" stroke="#050505" stroke-width="4.4" stroke-linecap="butt"/>
<path d="M221.2 354.7L205.3 343.5" stroke="#E9A31A" stroke-width="5.2"/>
<path d="M221.2 354.7L205.3 343.5" stroke="#F6CB45" stroke-width="1.5" stroke-linecap="butt"/>
<path d="M118.7 212L102.6 204.7" stroke="#86ABE8" stroke-width="4.4"/>
<circle cx="183.9" cy="414.9" r="8.4" fill="#060606"/>
<path d="M132 242.5L132 218" stroke="#5FC43A" stroke-width="1.9"/>
<path d="M496.3 304.5L495.5 313.6" stroke="#050505" stroke-width="4.4" stroke-linecap="butt"/>
<polygon points="120.8,256.1 124.5,253.3 183.9,241.6" fill="#5A92DF" fill-opacity="0.30" stroke="#E6F0FA" stroke-opacity="0.5" stroke-width="0.8" stroke-linejoin="round"/>
<path d="M545.3 227.6L543 238.5" stroke="#86ABE8" stroke-width="4.4"/>
<path d="M250.3 375.4L266.2 386.6" stroke="#E9A31A" stroke-width="5.2"/>
<path d="M250.3 375.4L266.2 386.6" stroke="#F6CB45" stroke-width="1.5" stroke-linecap="butt"/>
<path d="M132 218L132 193.5" stroke="#5FC43A" stroke-width="1.9"/>
<path d="M266.2 386.6L284.3 399.4" stroke="#050505" stroke-width="5.2" stroke-linecap="butt"/>
<path d="M145.2 224L161.3 231.3" stroke="#86ABE8" stroke-width="4.4"/>
<polygon points="143.2,179.9 139.4,182.7 80,194.4" fill="#5A92DF" fill-opacity="0.30" stroke="#E6F0FA" stroke-opacity="0.5" stroke-width="0.8" stroke-linejoin="round"/>
<path d="M161.3 231.3L180 239.8" stroke="#050505" stroke-width="4.4" stroke-linecap="butt"/>
<path d="M392.5 130.9L391.7 123" stroke="#050505" stroke-width="4.4" stroke-linecap="butt"/>
<path d="M132 193.5L132 169" stroke="#5FC43A" stroke-width="1.9"/>
<path d="M248.6 352.7L265.7 336.3" stroke="#E9A31A" stroke-width="5.2"/>
<path d="M248.6 352.7L265.7 336.3" stroke="#F6CB45" stroke-width="1.5" stroke-linecap="butt"/>
<path d="M550.1 208.9L553.6 197.1" stroke="#86ABE8" stroke-width="4.4"/>
<path d="M309.2 386.7L291.1 399.4" stroke="#050505" stroke-width="5.2" stroke-linecap="butt"/>
<polygon points="143.2,179.9 139.4,182.7 183.9,241.6" fill="#5A92DF" fill-opacity="0.30" stroke="#E6F0FA" stroke-opacity="0.5" stroke-width="0.8" stroke-linejoin="round"/>
<path d="M132 169L132 144.6" stroke="#5FC43A" stroke-width="1.9"/>
<path d="M101.5 92.6L83.5 105.3" stroke="#050505" stroke-width="5.2" stroke-linecap="butt"/>
<path d="M206.5 231.4L187.7 239.9" stroke="#050505" stroke-width="4.4" stroke-linecap="butt"/>
<circle cx="80" cy="194.4" r="8.4" fill="#060606"/>
<circle cx="183.9" cy="328.2" r="8.4" fill="#060606"/>
<path d="M265.7 336.3L284.7 318.1" stroke="#050505" stroke-width="5.2" stroke-linecap="butt"/>
<path d="M325 375.5L309.2 386.7" stroke="#E9A31A" stroke-width="5.2"/>
<path d="M325 375.5L309.2 386.7" stroke="#F6CB45" stroke-width="1.5" stroke-linecap="butt"/>
<path d="M132 144.6L132 120.1" stroke="#5FC43A" stroke-width="1.9"/>
<polygon points="247,253.5 243.3,256.3 183.9,241.6" fill="#5A92DF" fill-opacity="0.30" stroke="#E6F0FA" stroke-opacity="0.5" stroke-width="0.8" stroke-linejoin="round"/>
<path d="M222.5 224.1L206.5 231.4" stroke="#86ABE8" stroke-width="4.4"/>
<path d="M117.4 81.4L101.5 92.6" stroke="#E9A31A" stroke-width="5.2"/>
<path d="M117.4 81.4L101.5 92.6" stroke="#F6CB45" stroke-width="1.5" stroke-linecap="butt"/>
<path d="M132 120.1L132 95.6" stroke="#5FC43A" stroke-width="1.9"/>
<path d="M309.7 336.4L290.7 318.1" stroke="#050505" stroke-width="5.2" stroke-linecap="butt"/>
<circle cx="132" cy="364.9" r="19.4" fill="url(#gA)" stroke="#B5600F" stroke-width="0.9"/>
<path d="M326.7 352.8L309.7 336.4" stroke="#E9A31A" stroke-width="5.2"/>
<path d="M326.7 352.8L309.7 336.4" stroke="#F6CB45" stroke-width="1.5" stroke-linecap="butt"/>
<path d="M132 364.9L148.5 365.5" stroke="#5FC43A" stroke-width="1.9"/>
<path d="M530.7 364.9L547.2 365.5" stroke="#5FC43A" stroke-width="1.9"/>
<polygon points="224.6,182.8 228.3,180 183.9,241.6" fill="#5A92DF" fill-opacity="0.30" stroke="#E6F0FA" stroke-opacity="0.5" stroke-width="0.8" stroke-linejoin="round"/>
<path d="M102 42.3L83.1 24" stroke="#050505" stroke-width="5.2" stroke-linecap="butt"/>
<path d="M352.5 377.6L369.5 394" stroke="#E9A31A" stroke-width="5.2"/>
<path d="M352.5 377.6L369.5 394" stroke="#F6CB45" stroke-width="1.5" stroke-linecap="butt"/>
<path d="M132 95.6L132 71.1" stroke="#5FC43A" stroke-width="1.9"/>
<circle cx="287.7" cy="401.8" r="8.4" fill="#060606"/>
<path d="M496.3 173.1L495.5 192" stroke="#050505" stroke-width="5.2" stroke-linecap="butt"/>
<path d="M119.1 58.7L102 42.3" stroke="#E9A31A" stroke-width="5.2"/>
<path d="M119.1 58.7L102 42.3" stroke="#F6CB45" stroke-width="1.5" stroke-linecap="butt"/>
<path d="M369.5 394L388.5 412.3" stroke="#050505" stroke-width="5.2" stroke-linecap="butt"/>
<path d="M144.8 83.5L161.9 99.9" stroke="#E9A31A" stroke-width="5.2"/>
<path d="M144.8 83.5L161.9 99.9" stroke="#F6CB45" stroke-width="1.5" stroke-linecap="butt"/>
<circle cx="80" cy="107.8" r="8.4" fill="#060606"/>
<circle cx="183.9" cy="241.6" r="8.4" fill="#060606"/>
<polygon points="247,253.5 243.3,256.3 287.7,194.7" fill="#5A92DF" fill-opacity="0.30" stroke="#E6F0FA" stroke-opacity="0.5" stroke-width="0.8" stroke-linejoin="round"/>
<path d="M161.9 99.9L180.8 118.2" stroke="#050505" stroke-width="5.2" stroke-linecap="butt"/>
<path d="M354.2 354.9L370 343.7" stroke="#E9A31A" stroke-width="5.2"/>
<path d="M354.2 354.9L370 343.7" stroke="#F6CB45" stroke-width="1.5" stroke-linecap="butt"/>
<path d="M413.5 394.1L394.5 412.3" stroke="#050505" stroke-width="5.2" stroke-linecap="butt"/>
<path d="M249 212.2L265.1 204.9" stroke="#86ABE8" stroke-width="4.4"/>
<polygon points="224.6,182.8 228.3,180 287.7,194.7" fill="#5A92DF" fill-opacity="0.30" stroke="#E6F0FA" stroke-opacity="0.5" stroke-width="0.8" stroke-linejoin="round"/>
<path d="M146.5 60.8L162.4 49.6" stroke="#E9A31A" stroke-width="5.2"/>
<path d="M146.5 60.8L162.4 49.6" stroke="#F6CB45" stroke-width="1.5" stroke-linecap="butt"/>
<path d="M205.9 100L186.9 118.2" stroke="#050505" stroke-width="5.2" stroke-linecap="butt"/>
<path d="M496.3 122.8L495.5 110.7" stroke="#050505" stroke-width="5.2" stroke-linecap="butt"/>
<path d="M265.1 204.9L283.9 196.4" stroke="#050505" stroke-width="4.4" stroke-linecap="butt"/>
<path d="M370 343.7L388.1 331" stroke="#050505" stroke-width="5.2" stroke-linecap="butt"/>
<path d="M430.6 377.7L413.5 394.1" stroke="#E9A31A" stroke-width="5.2"/>
<path d="M430.6 377.7L413.5 394.1" stroke="#F6CB45" stroke-width="1.5" stroke-linecap="butt"/>
<circle cx="132" cy="218" r="15.8" fill="url(#gB)"/>
<circle cx="287.7" cy="315.2" r="8.4" fill="#060606"/>
<path d="M162.4 49.6L180.4 36.9" stroke="#050505" stroke-width="5.2" stroke-linecap="butt"/>
<polygon points="328.4,256.4 332.1,253.6 287.7,194.7" fill="#5A92DF" fill-opacity="0.30" stroke="#E6F0FA" stroke-opacity="0.5" stroke-width="0.8" stroke-linejoin="round"/>
<path d="M222.9 83.6L205.9 100" stroke="#E9A31A" stroke-width="5.2"/>
<path d="M222.9 83.6L205.9 100" stroke="#F6CB45" stroke-width="1.5" stroke-linecap="butt"/>
<path d="M413 343.8L394.9 331" stroke="#050505" stroke-width="5.2" stroke-linecap="butt"/>
<path d="M310.3 205L291.5 196.5" stroke="#050505" stroke-width="4.4" stroke-linecap="butt"/>
<circle cx="80" cy="21.1" r="8.4" fill="#060606"/>
<path d="M428.9 355L413 343.8" stroke="#E9A31A" stroke-width="5.2"/>
<path d="M428.9 355L413 343.8" stroke="#F6CB45" stroke-width="1.5" stroke-linecap="butt"/>
<circle cx="235.8" cy="365" r="19.4" fill="#9CC3B4" fill-opacity="0.55" stroke="#8FC79A" stroke-opacity="0.6" stroke-width="1"/>
<path d="M326.4 212.3L310.3 205" stroke="#86ABE8" stroke-width="4.4"/>
<circle cx="391.5" cy="415.2" r="8.4" fill="#060606"/>
<path d="M205.3 49.7L187.3 36.9" stroke="#050505" stroke-width="5.2" stroke-linecap="butt"/>
<polygon points="328.4,256.4 332.1,253.6 391.5,241.9" fill="#5A92DF" fill-opacity="0.30" stroke="#E6F0FA" stroke-opacity="0.5" stroke-width="0.8" stroke-linejoin="round"/>
<path d="M221.2 60.9L205.3 49.7" stroke="#E9A31A" stroke-width="5.2"/>
<path d="M221.2 60.9L205.3 49.7" stroke="#F6CB45" stroke-width="1.5" stroke-linecap="butt"/>
<path d="M458 375.7L473.9 386.9" stroke="#E9A31A" stroke-width="5.2"/>
<path d="M458 375.7L473.9 386.9" stroke="#F6CB45" stroke-width="1.5" stroke-linecap="butt"/>
<circle cx="183.9" cy="121.1" r="8.4" fill="#060606"/>
<path d="M473.9 386.9L491.9 399.7" stroke="#050505" stroke-width="5.2" stroke-linecap="butt"/>
<path d="M352.8 224.3L368.9 231.6" stroke="#86ABE8" stroke-width="4.4"/>
<path d="M250.3 81.6L266.2 92.8" stroke="#E9A31A" stroke-width="5.2"/>
<path d="M250.3 81.6L266.2 92.8" stroke="#F6CB45" stroke-width="1.5" stroke-linecap="butt"/>
<polygon points="350.8,180.2 347.1,183 287.7,194.7" fill="#5A92DF" fill-opacity="0.30" stroke="#E6F0FA" stroke-opacity="0.5" stroke-width="0.8" stroke-linejoin="round"/>
<path d="M368.9 231.6L387.7 240.1" stroke="#050505" stroke-width="4.4" stroke-linecap="butt"/>
<path d="M266.2 92.8L284.3 105.6" stroke="#050505" stroke-width="5.2" stroke-linecap="butt"/>
<path d="M456.3 353L473.3 336.6" stroke="#E9A31A" stroke-width="5.2"/>
<path d="M456.3 353L473.3 336.6" stroke="#F6CB45" stroke-width="1.5" stroke-linecap="butt"/>
<path d="M516.8 387L498.8 399.7" stroke="#050505" stroke-width="5.2" stroke-linecap="butt"/>
<polygon points="350.8,180.2 347.1,183 391.5,241.9" fill="#5A92DF" fill-opacity="0.30" stroke="#E6F0FA" stroke-opacity="0.5" stroke-width="0.8" stroke-linejoin="round"/>
<path d="M248.6 58.9L265.7 42.5" stroke="#E9A31A" stroke-width="5.2"/>
<path d="M248.6 58.9L265.7 42.5" stroke="#F6CB45" stroke-width="1.5" stroke-linecap="butt"/>
<path d="M309.2 92.9L291.1 105.6" stroke="#050505" stroke-width="5.2" stroke-linecap="butt"/>
<path d="M414.1 231.7L395.3 240.2" stroke="#050505" stroke-width="4.4" stroke-linecap="butt"/>
<path d="M182.9 313.8L183.7 325.9" stroke="#050505" stroke-width="5.2" stroke-linecap="butt"/>
<circle cx="287.7" cy="194.7" r="8.4" fill="#060606"/>
<circle cx="391.5" cy="328.5" r="8.4" fill="#060606"/>
<circle cx="235.8" cy="218.1" r="15.8" fill="url(#gB)"/>
<path d="M473.3 336.6L492.3 318.4" stroke="#050505" stroke-width="5.2" stroke-linecap="butt"/>
<path d="M532.7 375.8L516.8 387" stroke="#E9A31A" stroke-width="5.2"/>
<path d="M532.7 375.8L516.8 387" stroke="#F6CB45" stroke-width="1.5" stroke-linecap="butt"/>
<circle cx="183.9" cy="34.5" r="8.4" fill="#060606"/>
<polygon points="454.6,253.8 450.9,256.6 391.5,241.9" fill="#5A92DF" fill-opacity="0.30" stroke="#E6F0FA" stroke-opacity="0.5" stroke-width="0.8" stroke-linejoin="round"/>
<path d="M430.2 224.4L414.1 231.7" stroke="#86ABE8" stroke-width="4.4"/>
<path d="M265.7 42.5L284.7 24.3" stroke="#050505" stroke-width="5.2" stroke-linecap="butt"/>
<path d="M325 81.7L309.2 92.9" stroke="#E9A31A" stroke-width="5.2"/>
<path d="M325 81.7L309.2 92.9" stroke="#F6CB45" stroke-width="1.5" stroke-linecap="butt"/>
<path d="M517.3 336.7L498.4 318.4" stroke="#050505" stroke-width="5.2" stroke-linecap="butt"/>
<circle cx="339.6" cy="365.2" r="19.4" fill="#9CC3B4" fill-opacity="0.55" stroke="#8FC79A" stroke-opacity="0.6" stroke-width="1"/>
<path d="M534.4 353.1L517.3 336.7" stroke="#E9A31A" stroke-width="5.2"/>
<path d="M534.4 353.1L517.3 336.7" stroke="#F6CB45" stroke-width="1.5" stroke-linecap="butt"/>
<polygon points="432.2,183.1 435.9,180.3 391.5,241.9" fill="#5A92DF" fill-opacity="0.30" stroke="#E6F0FA" stroke-opacity="0.5" stroke-width="0.8" stroke-linejoin="round"/>
<path d="M309.7 42.6L290.7 24.3" stroke="#050505" stroke-width="5.2" stroke-linecap="butt"/>
<path d="M560.1 377.9L577.2 394.3" stroke="#E9A31A" stroke-width="5.2"/>
<path d="M560.1 377.9L577.2 394.3" stroke="#F6CB45" stroke-width="1.5" stroke-linecap="butt"/>
<circle cx="495.3" cy="402.1" r="8.4" fill="#060606"/>
<path d="M182.9 263.5L183.7 244.6" stroke="#050505" stroke-width="5.2" stroke-linecap="butt"/>
<circle cx="132" cy="71.1" r="19.4" fill="url(#gA)" stroke="#B5600F" stroke-width="0.9"/>
<path d="M547.2 365.5L547.2 341" stroke="#5FC43A" stroke-width="1.9"/>
<path d="M326.7 59L309.7 42.6" stroke="#E9A31A" stroke-width="5.2"/>
<path d="M326.7 59L309.7 42.6" stroke="#F6CB45" stroke-width="1.5" stroke-linecap="butt"/>
<path d="M577.2 394.3L596.1 412.6" stroke="#050505" stroke-width="5.2" stroke-linecap="butt"/>
<path d="M132 71.1L148.5 71.7" stroke="#5FC43A" stroke-width="1.9"/>
<path d="M530.7 71.1L547.2 71.7" stroke="#5FC43A" stroke-width="1.9"/>
<path d="M352.5 83.8L369.5 100.2" stroke="#E9A31A" stroke-width="5.2"/>
<path d="M352.5 83.8L369.5 100.2" stroke="#F6CB45" stroke-width="1.5" stroke-linecap="butt"/>
<circle cx="287.7" cy="108.1" r="8.4" fill="#060606"/>
<circle cx="391.5" cy="241.9" r="8.4" fill="#060606"/>
<polygon points="454.6,253.8 450.9,256.6 495.3,195" fill="#5A92DF" fill-opacity="0.30" stroke="#E6F0FA" stroke-opacity="0.5" stroke-width="0.8" stroke-linejoin="round"/>
<path d="M369.5 100.2L388.5 118.5" stroke="#050505" stroke-width="5.2" stroke-linecap="butt"/>
<path d="M547.2 341L547.2 316.5" stroke="#5FC43A" stroke-width="1.9"/>
<path d="M561.8 355.2L577.7 344" stroke="#E9A31A" stroke-width="5.2"/>
<path d="M561.8 355.2L577.7 344" stroke="#F6CB45" stroke-width="1.5" stroke-linecap="butt"/>
<path d="M456.7 212.5L472.7 205.2" stroke="#86ABE8" stroke-width="4.4"/>
<path d="M547.2 316.5L547.2 292" stroke="#5FC43A" stroke-width="1.9"/>
<polygon points="432.2,183.1 435.9,180.3 495.3,195" fill="#5A92DF" fill-opacity="0.30" stroke="#E6F0FA" stroke-opacity="0.5" stroke-width="0.8" stroke-linejoin="round"/>
<path d="M354.2 61.1L370 49.9" stroke="#E9A31A" stroke-width="5.2"/>
<path d="M354.2 61.1L370 49.9" stroke="#F6CB45" stroke-width="1.5" stroke-linecap="butt"/>
<path d="M413.5 100.3L394.5 118.5" stroke="#050505" stroke-width="5.2" stroke-linecap="butt"/>
<path d="M472.7 205.2L491.5 196.7" stroke="#050505" stroke-width="4.4" stroke-linecap="butt"/>
<path d="M577.7 344L595.7 331.3" stroke="#050505" stroke-width="5.2" stroke-linecap="butt"/>
<path d="M547.2 292L547.2 267.6" stroke="#5FC43A" stroke-width="1.9"/>
<circle cx="339.6" cy="218.3" r="15.8" fill="url(#gB)"/>
<circle cx="495.3" cy="315.5" r="8.4" fill="#060606"/>
<path d="M370 49.9L388.1 37.2" stroke="#050505" stroke-width="5.2" stroke-linecap="butt"/>
<path d="M129.1 227.7L125.6 239.5" stroke="#86ABE8" stroke-width="4.4"/>
<polygon points="536,256.7 539.8,253.9 495.3,195" fill="#5A92DF" fill-opacity="0.30" stroke="#E6F0FA" stroke-opacity="0.5" stroke-width="0.8" stroke-linejoin="round"/>
<path d="M430.6 83.9L413.5 100.3" stroke="#E9A31A" stroke-width="5.2"/>
<path d="M430.6 83.9L413.5 100.3" stroke="#F6CB45" stroke-width="1.5" stroke-linecap="butt"/>
<path d="M547.2 267.6L547.2 243.1" stroke="#5FC43A" stroke-width="1.9"/>
<path d="M286.7 305.7L287.5 313.6" stroke="#050505" stroke-width="4.4" stroke-linecap="butt"/>
<path d="M517.9 205.3L499.2 196.8" stroke="#050505" stroke-width="4.4" stroke-linecap="butt"/>
<circle cx="287.7" cy="21.4" r="8.4" fill="#060606"/>
<circle cx="443.4" cy="365.3" r="19.4" fill="#9CC3B4" fill-opacity="0.55" stroke="#8FC79A" stroke-opacity="0.6" stroke-width="1"/>
<path d="M534 212.6L517.9 205.3" stroke="#86ABE8" stroke-width="4.4"/>
<circle cx="599.2" cy="415.5" r="8.4" fill="#060606"/>
<path d="M413 50L394.9 37.2" stroke="#050505" stroke-width="5.2" stroke-linecap="butt"/>
<path d="M547.2 243.1L547.2 218.6" stroke="#5FC43A" stroke-width="1.9"/>
<polygon points="536,256.7 539.8,253.9 599.2,242.2" fill="#5A92DF" fill-opacity="0.30" stroke="#E6F0FA" stroke-opacity="0.5" stroke-width="0.8" stroke-linejoin="round"/>
<path d="M428.9 61.2L413 50" stroke="#E9A31A" stroke-width="5.2"/>
<path d="M428.9 61.2L413 50" stroke="#F6CB45" stroke-width="1.5" stroke-linecap="butt"/>
<path d="M133.9 209L136.2 198.1" stroke="#86ABE8" stroke-width="4.4"/>
<circle cx="235.8" cy="71.3" r="19.4" fill="#9CC3B4" fill-opacity="0.55" stroke="#8FC79A" stroke-opacity="0.6" stroke-width="1"/>
<circle cx="391.5" cy="121.4" r="8.4" fill="#060606"/>
<path d="M182.9 132.1L183.7 123" stroke="#050505" stroke-width="4.4" stroke-linecap="butt"/>
<path d="M547.2 218.6L547.2 194.1" stroke="#5FC43A" stroke-width="1.9"/>
<path d="M560.5 224.6L576.6 231.9" stroke="#86ABE8" stroke-width="4.4"/>
<path d="M458 81.9L473.9 93.1" stroke="#E9A31A" stroke-width="5.2"/>
<path d="M458 81.9L473.9 93.1" stroke="#F6CB45" stroke-width="1.5" stroke-linecap="butt"/>
<polygon points="558.4,180.5 554.7,183.3 495.3,195" fill="#5A92DF" fill-opacity="0.30" stroke="#E6F0FA" stroke-opacity="0.5" stroke-width="0.8" stroke-linejoin="round"/>
<path d="M576.6 231.9L595.3 240.4" stroke="#050505" stroke-width="4.4" stroke-linecap="butt"/>
<path d="M473.9 93.1L491.9 105.9" stroke="#050505" stroke-width="5.2" stroke-linecap="butt"/>
<path d="M547.2 194.1L547.2 169.6" stroke="#5FC43A" stroke-width="1.9"/>
<polygon points="558.4,180.5 554.7,183.3 599.2,242.2" fill="#5A92DF" fill-opacity="0.30" stroke="#E6F0FA" stroke-opacity="0.5" stroke-width="0.8" stroke-linejoin="round"/>
<path d="M133.6 374.5L135.8 387.2" stroke="#E9A31A" stroke-width="5.2"/>
<path d="M133.6 374.5L135.8 387.2" stroke="#F6CB45" stroke-width="1.5" stroke-linecap="butt"/>
<path d="M456.3 59.2L473.3 42.8" stroke="#E9A31A" stroke-width="5.2"/>
<path d="M456.3 59.2L473.3 42.8" stroke="#F6CB45" stroke-width="1.5" stroke-linecap="butt"/>
<path d="M547.2 169.6L547.2 145.2" stroke="#5FC43A" stroke-width="1.9"/>
<path d="M516.8 93.2L498.8 105.9" stroke="#050505" stroke-width="5.2" stroke-linecap="butt"/>
<path d="M390.6 314.1L391.4 326.2" stroke="#050505" stroke-width="5.2" stroke-linecap="butt"/>
<circle cx="495.3" cy="195" r="8.4" fill="#060606"/>
<path d="M286.7 174.3L287.6 191.9" stroke="#050505" stroke-width="5.2" stroke-linecap="butt"/>
<circle cx="599.2" cy="328.8" r="8.4" fill="#060606"/>
<path d="M129 356.3L125 344.9" stroke="#E9A31A" stroke-width="5.2"/>
<path d="M129 356.3L125 344.9" stroke="#F6CB45" stroke-width="1.5" stroke-linecap="butt"/>
<circle cx="443.4" cy="218.5" r="15.8" fill="url(#gB)"/>
<path d="M547.2 145.2L547.2 120.7" stroke="#5FC43A" stroke-width="1.9"/>
<circle cx="391.5" cy="34.8" r="8.4" fill="#060606"/>
<path d="M473.3 42.8L492.3 24.6" stroke="#050505" stroke-width="5.2" stroke-linecap="butt"/>
<path d="M532.7 82L516.8 93.2" stroke="#E9A31A" stroke-width="5.2"/>
<path d="M532.7 82L516.8 93.2" stroke="#F6CB45" stroke-width="1.5" stroke-linecap="butt"/>
<path d="M529.2 366L547.2 365.5" stroke="#5FC43A" stroke-width="1.9"/>
<path d="M237.7 227.9L240 239.7" stroke="#86ABE8" stroke-width="4.4"/>
<path d="M547.2 120.7L547.2 96.2" stroke="#5FC43A" stroke-width="1.9"/>
<circle cx="547.2" cy="365.5" r="19.4" fill="url(#gA)" stroke="#B5600F" stroke-width="0.9"/>
<path d="M148.5 365.5L165.1 366.1" stroke="#5FC43A" stroke-width="1.9"/>
<path d="M232.9 209.1L229.5 198.2" stroke="#86ABE8" stroke-width="4.4"/>
<path d="M517.3 42.9L498.4 24.6" stroke="#050505" stroke-width="5.2" stroke-linecap="butt"/>
<path d="M547.2 96.2L547.2 71.7" stroke="#5FC43A" stroke-width="1.9"/>
<path d="M286.8 124L287.5 110.6" stroke="#050505" stroke-width="5.2" stroke-linecap="butt"/>
<path d="M390.6 263.8L391.4 244.9" stroke="#050505" stroke-width="5.2" stroke-linecap="butt"/>
<circle cx="339.6" cy="71.4" r="19.4" fill="#9CC3B4" fill-opacity="0.55" stroke="#8FC79A" stroke-opacity="0.6" stroke-width="1"/>
<path d="M534.4 59.3L517.3 42.9" stroke="#E9A31A" stroke-width="5.2"/>
<path d="M534.4 59.3L517.3 42.9" stroke="#F6CB45" stroke-width="1.5" stroke-linecap="butt"/>
<path d="M560.1 84.1L577.2 100.5" stroke="#E9A31A" stroke-width="5.2"/>
<path d="M560.1 84.1L577.2 100.5" stroke="#F6CB45" stroke-width="1.5" stroke-linecap="butt"/>
<circle cx="495.3" cy="108.4" r="8.4" fill="#060606"/>
<circle cx="599.2" cy="242.2" r="8.4" fill="#060606"/>
<path d="M577.2 100.5L596.1 118.8" stroke="#050505" stroke-width="5.2" stroke-linecap="butt"/>
<path d="M232.8 374.6L228.9 387.4" stroke="#E9A31A" stroke-width="5.2"/>
<path d="M232.8 374.6L228.9 387.4" stroke="#F6CB45" stroke-width="1.5" stroke-linecap="butt"/>
<path d="M561.8 61.4L577.7 50.2" stroke="#E9A31A" stroke-width="5.2"/>
<path d="M561.8 61.4L577.7 50.2" stroke="#F6CB45" stroke-width="1.5" stroke-linecap="butt"/>
<circle cx="547.2" cy="218.6" r="15.8" fill="url(#gB)"/>
<path d="M237.4 356.4L239.6 345" stroke="#E9A31A" stroke-width="5.2"/>
<path d="M237.4 356.4L239.6 345" stroke="#F6CB45" stroke-width="1.5" stroke-linecap="butt"/>
<path d="M577.7 50.2L595.7 37.5" stroke="#050505" stroke-width="5.2" stroke-linecap="butt"/>
<path d="M336.7 228L333.3 239.8" stroke="#86ABE8" stroke-width="4.4"/>
<path d="M494.3 306L495.2 313.9" stroke="#050505" stroke-width="4.4" stroke-linecap="butt"/>
<circle cx="495.3" cy="21.7" r="8.4" fill="#060606"/>
<path d="M341.5 209.3L343.8 198.4" stroke="#86ABE8" stroke-width="4.4"/>
<circle cx="443.4" cy="71.6" r="19.4" fill="#9CC3B4" fill-opacity="0.55" stroke="#8FC79A" stroke-opacity="0.6" stroke-width="1"/>
<circle cx="599.2" cy="121.7" r="8.4" fill="#060606"/>
<path d="M390.5 132.4L391.3 123.3" stroke="#050505" stroke-width="4.4" stroke-linecap="butt"/>
<polygon points="120.8,256.1 139.4,182.7 80,194.4" fill="#5A92DF" fill-opacity="0.30" stroke="#E6F0FA" stroke-opacity="0.5" stroke-width="0.8" stroke-linejoin="round"/>
<path d="M182.2 303.1L182.9 313.8" stroke="#E9A31A" stroke-width="5.2"/>
<path d="M182.2 303.1L182.9 313.8" stroke="#F6CB45" stroke-width="1.5" stroke-linecap="butt"/>
<path d="M341.3 374.8L343.4 387.5" stroke="#E9A31A" stroke-width="5.2"/>
<path d="M341.3 374.8L343.4 387.5" stroke="#F6CB45" stroke-width="1.5" stroke-linecap="butt"/>
<polygon points="120.8,256.1 139.4,182.7 183.9,241.6" fill="#5A92DF" fill-opacity="0.30" stroke="#E6F0FA" stroke-opacity="0.5" stroke-width="0.8" stroke-linejoin="round"/>
<path d="M494.4 174.6L495.2 192.2" stroke="#050505" stroke-width="5.2" stroke-linecap="butt"/>
<path d="M336.6 356.6L332.7 345.2" stroke="#E9A31A" stroke-width="5.2"/>
<path d="M336.6 356.6L332.7 345.2" stroke="#F6CB45" stroke-width="1.5" stroke-linecap="butt"/>
<path d="M133.6 80.7L135.8 93.5" stroke="#E9A31A" stroke-width="5.2"/>
<path d="M133.6 80.7L135.8 93.5" stroke="#F6CB45" stroke-width="1.5" stroke-linecap="butt"/>
<circle cx="599.2" cy="35.1" r="8.4" fill="#060606"/>
<path d="M129 62.5L125 51.1" stroke="#E9A31A" stroke-width="5.2"/>
<path d="M129 62.5L125 51.1" stroke="#F6CB45" stroke-width="1.5" stroke-linecap="butt"/>
<path d="M125.6 239.5L121.6 253.3" stroke="#050505" stroke-width="4.4" stroke-linecap="butt"/>
<path d="M445.3 228.2L447.6 240" stroke="#86ABE8" stroke-width="4.4"/>
<path d="M182.2 280.4L182.9 263.5" stroke="#E9A31A" stroke-width="5.2"/>
<path d="M182.2 280.4L182.9 263.5" stroke="#F6CB45" stroke-width="1.5" stroke-linecap="butt"/>
<path d="M529.2 72.3L547.2 71.7" stroke="#5FC43A" stroke-width="1.9"/>
<path d="M440.6 209.4L437.1 198.5" stroke="#86ABE8" stroke-width="4.4"/>
<path d="M494.4 124.3L495.2 110.9" stroke="#050505" stroke-width="5.2" stroke-linecap="butt"/>
<circle cx="547.2" cy="71.7" r="19.4" fill="url(#gA)" stroke="#B5600F" stroke-width="0.9"/>
<path d="M148.5 71.7L165.1 72.3" stroke="#5FC43A" stroke-width="1.9"/>
<polygon points="224.6,182.8 243.3,256.3 183.9,241.6" fill="#5A92DF" fill-opacity="0.30" stroke="#E6F0FA" stroke-opacity="0.5" stroke-width="0.8" stroke-linejoin="round"/>
<polygon points="224.6,182.8 139.4,182.7 183.9,121.1" fill="#5A92DF" fill-opacity="0.30" stroke="#E6F0FA" stroke-opacity="0.5" stroke-width="0.8" stroke-linejoin="round"/>
<path d="M136.2 198.1L138.9 185.3" stroke="#050505" stroke-width="4.4" stroke-linecap="butt"/>
<path d="M440.4 374.9L436.5 387.7" stroke="#E9A31A" stroke-width="5.2"/>
<path d="M440.4 374.9L436.5 387.7" stroke="#F6CB45" stroke-width="1.5" stroke-linecap="butt"/>
<polygon points="328.4,256.4 243.3,256.3 287.7,315.2" fill="#5A92DF" fill-opacity="0.30" stroke="#E6F0FA" stroke-opacity="0.5" stroke-width="0.8" stroke-linejoin="round"/>
<path d="M232.8 80.9L228.9 93.6" stroke="#E9A31A" stroke-width="5.2"/>
<path d="M232.8 80.9L228.9 93.6" stroke="#F6CB45" stroke-width="1.5" stroke-linecap="butt"/>
<polygon points="224.6,182.8 243.3,256.3 287.7,194.7" fill="#5A92DF" fill-opacity="0.30" stroke="#E6F0FA" stroke-opacity="0.5" stroke-width="0.8" stroke-linejoin="round"/>
<path d="M445.1 356.7L447.3 345.4" stroke="#E9A31A" stroke-width="5.2"/>
<path d="M445.1 356.7L447.3 345.4" stroke="#F6CB45" stroke-width="1.5" stroke-linecap="butt"/>
<path d="M286 298.9L286.7 305.7" stroke="#86ABE8" stroke-width="4.4"/>
<path d="M544.4 228.3L540.9 240.1" stroke="#86ABE8" stroke-width="4.4"/>
<path d="M237.4 62.7L239.6 51.3" stroke="#E9A31A" stroke-width="5.2"/>
<path d="M237.4 62.7L239.6 51.3" stroke="#F6CB45" stroke-width="1.5" stroke-linecap="butt"/>
<path d="M182.2 139.9L182.9 132.1" stroke="#86ABE8" stroke-width="4.4"/>
<path d="M240 239.7L242.7 253.5" stroke="#050505" stroke-width="4.4" stroke-linecap="butt"/>
<path d="M549.1 209.6L551.5 198.7" stroke="#86ABE8" stroke-width="4.4"/>
<path d="M229.5 198.2L225.4 185.4" stroke="#050505" stroke-width="4.4" stroke-linecap="butt"/>
<polygon points="328.4,256.4 347.1,183 287.7,194.7" fill="#5A92DF" fill-opacity="0.30" stroke="#E6F0FA" stroke-opacity="0.5" stroke-width="0.8" stroke-linejoin="round"/>
<polygon points="242.4,330.4 243.3,256.3 287.7,315.2" fill="#5A92DF" fill-opacity="0.30" stroke="#E6F0FA" stroke-opacity="0.5" stroke-width="0.8" stroke-linejoin="round"/>
<path d="M389.9 303.4L390.6 314.1" stroke="#E9A31A" stroke-width="5.2"/>
<path d="M389.9 303.4L390.6 314.1" stroke="#F6CB45" stroke-width="1.5" stroke-linecap="butt"/>
<path d="M511.1 366.6L529.2 366" stroke="#5FC43A" stroke-width="1.9"/>
<path d="M548.9 375.1L551.1 387.8" stroke="#E9A31A" stroke-width="5.2"/>
<path d="M548.9 375.1L551.1 387.8" stroke="#F6CB45" stroke-width="1.5" stroke-linecap="butt"/>
<polygon points="328.4,256.4 347.1,183 391.5,241.9" fill="#5A92DF" fill-opacity="0.30" stroke="#E6F0FA" stroke-opacity="0.5" stroke-width="0.8" stroke-linejoin="round"/>
<polygon points="138.6,109.9 139.4,182.7 183.9,121.1" fill="#5A92DF" fill-opacity="0.30" stroke="#E6F0FA" stroke-opacity="0.5" stroke-width="0.8" stroke-linejoin="round"/>
<path d="M544.3 356.9L540.3 345.5" stroke="#E9A31A" stroke-width="5.2"/>
<path d="M544.3 356.9L540.3 345.5" stroke="#F6CB45" stroke-width="1.5" stroke-linecap="butt"/>
<path d="M341.3 81L343.4 93.8" stroke="#E9A31A" stroke-width="5.2"/>
<path d="M341.3 81L343.4 93.8" stroke="#F6CB45" stroke-width="1.5" stroke-linecap="butt"/>
<path d="M286 158.4L286.7 174.3" stroke="#E9A31A" stroke-width="5.2"/>
<path d="M286 158.4L286.7 174.3" stroke="#F6CB45" stroke-width="1.5" stroke-linecap="butt"/>
<path d="M286.1 135.7L286.8 124" stroke="#E9A31A" stroke-width="5.2"/>
<path d="M286.1 135.7L286.8 124" stroke="#F6CB45" stroke-width="1.5" stroke-linecap="butt"/>
<path d="M336.6 62.8L332.7 51.4" stroke="#E9A31A" stroke-width="5.2"/>
<path d="M336.6 62.8L332.7 51.4" stroke="#F6CB45" stroke-width="1.5" stroke-linecap="butt"/>
<path d="M333.3 239.8L329.2 253.6" stroke="#050505" stroke-width="4.4" stroke-linecap="butt"/>
<path d="M389.8 280.7L390.6 263.8" stroke="#E9A31A" stroke-width="5.2"/>
<path d="M389.8 280.7L390.6 263.8" stroke="#F6CB45" stroke-width="1.5" stroke-linecap="butt"/>
<polygon points="328.4,256.4 327.6,330.5 287.7,315.2" fill="#5A92DF" fill-opacity="0.30" stroke="#E6F0FA" stroke-opacity="0.5" stroke-width="0.8" stroke-linejoin="round"/>
<path d="M165.1 366.1L181.6 366.7" stroke="#5FC43A" stroke-width="1.9"/>
<path d="M135.8 387.2L138.2 401.4" stroke="#050505" stroke-width="5.2" stroke-linecap="butt"/>
<polygon points="224.6,182.8 223.8,110 183.9,121.1" fill="#5A92DF" fill-opacity="0.30" stroke="#E6F0FA" stroke-opacity="0.5" stroke-width="0.8" stroke-linejoin="round"/>
<polygon points="432.2,183.1 450.9,256.6 391.5,241.9" fill="#5A92DF" fill-opacity="0.30" stroke="#E6F0FA" stroke-opacity="0.5" stroke-width="0.8" stroke-linejoin="round"/>
<polygon points="432.2,183.1 347.1,183 391.5,121.4" fill="#5A92DF" fill-opacity="0.30" stroke="#E6F0FA" stroke-opacity="0.5" stroke-width="0.8" stroke-linejoin="round"/>
<path d="M343.8 198.4L346.5 185.6" stroke="#050505" stroke-width="4.4" stroke-linecap="butt"/>
<path d="M125 344.9L120.6 332.2" stroke="#050505" stroke-width="5.2" stroke-linecap="butt"/>
<polygon points="536,256.7 450.9,256.6 495.3,315.5" fill="#5A92DF" fill-opacity="0.30" stroke="#E6F0FA" stroke-opacity="0.5" stroke-width="0.8" stroke-linejoin="round"/>
<path d="M440.4 81.2L436.5 93.9" stroke="#E9A31A" stroke-width="5.2"/>
<path d="M440.4 81.2L436.5 93.9" stroke="#F6CB45" stroke-width="1.5" stroke-linecap="butt"/>
<polygon points="432.2,183.1 450.9,256.6 495.3,195" fill="#5A92DF" fill-opacity="0.30" stroke="#E6F0FA" stroke-opacity="0.5" stroke-width="0.8" stroke-linejoin="round"/>
<path d="M146.5 271.8L124.3 258.3" stroke="#050505" stroke-width="5.2" stroke-linecap="butt"/>
<path d="M493.6 299.2L494.3 306" stroke="#86ABE8" stroke-width="4.4"/>
<path d="M445.1 63L447.3 51.6" stroke="#E9A31A" stroke-width="5.2"/>
<path d="M445.1 63L447.3 51.6" stroke="#F6CB45" stroke-width="1.5" stroke-linecap="butt"/>
<polygon points="242.4,330.4 327.6,330.5 287.7,315.2" fill="#5A92DF" fill-opacity="0.30" stroke="#E6F0FA" stroke-opacity="0.5" stroke-width="0.8" stroke-linejoin="round"/>
<circle cx="120.8" cy="256.1" r="8.4" fill="#060606"/>
<path d="M389.8 140.2L390.5 132.4" stroke="#86ABE8" stroke-width="4.4"/>
<path d="M447.6 240L450.4 253.8" stroke="#050505" stroke-width="4.4" stroke-linecap="butt"/>
<path d="M228.9 387.4L224.5 401.5" stroke="#050505" stroke-width="5.2" stroke-linecap="butt"/>
<path d="M437.1 198.5L433 185.7" stroke="#050505" stroke-width="4.4" stroke-linecap="butt"/>
<polygon points="536,256.7 554.7,183.3 495.3,195" fill="#5A92DF" fill-opacity="0.30" stroke="#E6F0FA" stroke-opacity="0.5" stroke-width="0.8" stroke-linejoin="round"/>
<polygon points="450.1,330.7 450.9,256.6 495.3,315.5" fill="#5A92DF" fill-opacity="0.30" stroke="#E6F0FA" stroke-opacity="0.5" stroke-width="0.8" stroke-linejoin="round"/>
<polygon points="138.6,109.9 223.8,110 183.9,121.1" fill="#5A92DF" fill-opacity="0.30" stroke="#E6F0FA" stroke-opacity="0.5" stroke-width="0.8" stroke-linejoin="round"/>
<polygon points="536,256.7 554.7,183.3 599.2,242.2" fill="#5A92DF" fill-opacity="0.30" stroke="#E6F0FA" stroke-opacity="0.5" stroke-width="0.8" stroke-linejoin="round"/>
<path d="M166.5 284L146.5 271.8" stroke="#E9A31A" stroke-width="5.2"/>
<path d="M166.5 284L146.5 271.8" stroke="#F6CB45" stroke-width="1.5" stroke-linecap="butt"/>
<path d="M157.8 166.9L142.5 180" stroke="#050505" stroke-width="4.4" stroke-linecap="butt"/>
<path d="M239.6 345L242.1 332.4" stroke="#050505" stroke-width="5.2" stroke-linecap="butt"/>
<path d="M217.1 271.9L239.7 258.4" stroke="#050505" stroke-width="5.2" stroke-linecap="butt"/>
<polygon points="346.3,110.2 347.1,183 391.5,121.4" fill="#5A92DF" fill-opacity="0.30" stroke="#E6F0FA" stroke-opacity="0.5" stroke-width="0.8" stroke-linejoin="round"/>
<path d="M511.1 72.8L529.2 72.3" stroke="#5FC43A" stroke-width="1.9"/>
<path d="M548.9 81.3L551.1 94.1" stroke="#E9A31A" stroke-width="5.2"/>
<path d="M548.9 81.3L551.1 94.1" stroke="#F6CB45" stroke-width="1.5" stroke-linecap="butt"/>
<circle cx="139.4" cy="182.7" r="8.4" fill="#060606"/>
<path d="M493.6 158.7L494.4 174.6" stroke="#E9A31A" stroke-width="5.2"/>
<path d="M493.6 158.7L494.4 174.6" stroke="#F6CB45" stroke-width="1.5" stroke-linecap="butt"/>
<path d="M493.7 136L494.4 124.3" stroke="#E9A31A" stroke-width="5.2"/>
<path d="M493.7 136L494.4 124.3" stroke="#F6CB45" stroke-width="1.5" stroke-linecap="butt"/>
<path d="M544.3 63.1L540.3 51.7" stroke="#E9A31A" stroke-width="5.2"/>
<path d="M544.3 63.1L540.3 51.7" stroke="#F6CB45" stroke-width="1.5" stroke-linecap="butt"/>
<path d="M540.9 240.1L536.9 253.9" stroke="#050505" stroke-width="4.4" stroke-linecap="butt"/>
<path d="M261.6 272.4L246.4 259" stroke="#050505" stroke-width="4.4" stroke-linecap="butt"/>
<polygon points="536,256.7 535.2,330.8 495.3,315.5" fill="#5A92DF" fill-opacity="0.30" stroke="#E6F0FA" stroke-opacity="0.5" stroke-width="0.8" stroke-linejoin="round"/>
<path d="M196.9 284.1L217.1 271.9" stroke="#E9A31A" stroke-width="5.2"/>
<path d="M196.9 284.1L217.1 271.9" stroke="#F6CB45" stroke-width="1.5" stroke-linecap="butt"/>
<path d="M165.1 72.3L181.6 72.9" stroke="#5FC43A" stroke-width="1.9"/>
<path d="M343.4 387.5L345.9 401.7" stroke="#050505" stroke-width="5.2" stroke-linecap="butt"/>
<circle cx="243.3" cy="256.3" r="8.4" fill="#060606"/>
<path d="M205.9 167L221.4 180.1" stroke="#050505" stroke-width="4.4" stroke-linecap="butt"/>
<polygon points="432.2,183.1 431.4,110.3 391.5,121.4" fill="#5A92DF" fill-opacity="0.30" stroke="#E6F0FA" stroke-opacity="0.5" stroke-width="0.8" stroke-linejoin="round"/>
<path d="M135.8 93.5L138.2 107.6" stroke="#050505" stroke-width="5.2" stroke-linecap="butt"/>
<path d="M551.5 198.7L554.2 185.9" stroke="#050505" stroke-width="4.4" stroke-linecap="butt"/>
<path d="M250.4 167.4L228.1 180.7" stroke="#050505" stroke-width="5.2" stroke-linecap="butt"/>
<path d="M332.7 345.2L328.3 332.5" stroke="#050505" stroke-width="5.2" stroke-linecap="butt"/>
<path d="M170.9 155.6L157.8 166.9" stroke="#86ABE8" stroke-width="4.4"/>
<path d="M309.7 272.5L325.2 259.1" stroke="#050505" stroke-width="4.4" stroke-linecap="butt"/>
<circle cx="224.6" cy="182.8" r="8.4" fill="#060606"/>
<path d="M125 51.1L120.6 38.4" stroke="#050505" stroke-width="5.2" stroke-linecap="butt"/>
<path d="M274.7 283.9L261.6 272.4" stroke="#86ABE8" stroke-width="4.4"/>
<path d="M354.2 272.1L331.9 258.6" stroke="#050505" stroke-width="5.2" stroke-linecap="butt"/>
<path d="M192.6 155.6L205.9 167" stroke="#86ABE8" stroke-width="4.4"/>
<polygon points="450.1,330.7 535.2,330.8 495.3,315.5" fill="#5A92DF" fill-opacity="0.30" stroke="#E6F0FA" stroke-opacity="0.5" stroke-width="0.8" stroke-linejoin="round"/>
<path d="M296.4 284L309.7 272.5" stroke="#86ABE8" stroke-width="4.4"/>
<circle cx="328.4" cy="256.4" r="8.4" fill="#060606"/>
<path d="M436.5 387.7L432.1 401.8" stroke="#050505" stroke-width="5.2" stroke-linecap="butt"/>
<path d="M166.3 302.4L146.1 314.5" stroke="#E9A31A" stroke-width="5.2"/>
<path d="M166.3 302.4L146.1 314.5" stroke="#F6CB45" stroke-width="1.5" stroke-linecap="butt"/>
<path d="M493.1 367.1L511.1 366.6" stroke="#5FC43A" stroke-width="1.9"/>
<path d="M228.9 93.6L224.5 107.7" stroke="#050505" stroke-width="5.2" stroke-linecap="butt"/>
<path d="M321 167.5L343.5 180.9" stroke="#050505" stroke-width="5.2" stroke-linecap="butt"/>
<path d="M270.4 155.5L250.4 167.4" stroke="#E9A31A" stroke-width="5.2"/>
<path d="M270.4 155.5L250.4 167.4" stroke="#F6CB45" stroke-width="1.5" stroke-linecap="butt"/>
<path d="M146.1 314.5L123.5 328" stroke="#050505" stroke-width="5.2" stroke-linecap="butt"/>
<polygon points="346.3,110.2 431.4,110.3 391.5,121.4" fill="#5A92DF" fill-opacity="0.30" stroke="#E6F0FA" stroke-opacity="0.5" stroke-width="0.8" stroke-linejoin="round"/>
<path d="M196.7 302.4L216.7 314.6" stroke="#E9A31A" stroke-width="5.2"/>
<path d="M196.7 302.4L216.7 314.6" stroke="#F6CB45" stroke-width="1.5" stroke-linecap="butt"/>
<path d="M374.2 284.3L354.2 272.1" stroke="#E9A31A" stroke-width="5.2"/>
<path d="M374.2 284.3L354.2 272.1" stroke="#F6CB45" stroke-width="1.5" stroke-linecap="butt"/>
<path d="M365.4 167.2L350.2 180.3" stroke="#050505" stroke-width="4.4" stroke-linecap="butt"/>
<path d="M447.3 345.4L449.7 332.7" stroke="#050505" stroke-width="5.2" stroke-linecap="butt"/>
<path d="M424.8 272.2L447.3 258.7" stroke="#050505" stroke-width="5.2" stroke-linecap="butt"/>
<circle cx="347.1" cy="183" r="8.4" fill="#060606"/>
<path d="M239.6 51.3L242.1 38.6" stroke="#050505" stroke-width="5.2" stroke-linecap="butt"/>
<path d="M469.3 272.7L454 259.3" stroke="#050505" stroke-width="4.4" stroke-linecap="butt"/>
<path d="M300.7 155.5L321 167.5" stroke="#E9A31A" stroke-width="5.2"/>
<path d="M300.7 155.5L321 167.5" stroke="#F6CB45" stroke-width="1.5" stroke-linecap="butt"/>
<path d="M181.6 366.7L198.2 367.3" stroke="#5FC43A" stroke-width="1.9"/>
<path d="M404.5 284.4L424.8 272.2" stroke="#E9A31A" stroke-width="5.2"/>
<path d="M404.5 284.4L424.8 272.2" stroke="#F6CB45" stroke-width="1.5" stroke-linecap="butt"/>
<path d="M274.5 302.8L261.1 314.3" stroke="#86ABE8" stroke-width="4.4"/>
<path d="M551.1 387.8L553.5 402" stroke="#050505" stroke-width="5.2" stroke-linecap="butt"/>
<circle cx="450.9" cy="256.6" r="8.4" fill="#060606"/>
<path d="M413.5 167.3L429.1 180.4" stroke="#050505" stroke-width="4.4" stroke-linecap="butt"/>
<circle cx="138.6" cy="403.6" r="8.4" fill="#060606"/>
<path d="M343.4 93.8L345.9 107.9" stroke="#050505" stroke-width="5.2" stroke-linecap="butt"/>
<path d="M216.7 314.6L238.9 328.2" stroke="#050505" stroke-width="5.2" stroke-linecap="butt"/>
<path d="M458 167.7L435.8 181" stroke="#050505" stroke-width="5.2" stroke-linecap="butt"/>
<path d="M170.6 137.1L157.3 125.8" stroke="#86ABE8" stroke-width="4.4"/>
<path d="M296.2 302.8L309.2 314.3" stroke="#86ABE8" stroke-width="4.4"/>
<path d="M540.3 345.5L535.9 332.8" stroke="#050505" stroke-width="5.2" stroke-linecap="butt"/>
<circle cx="181.6" cy="293.2" r="19.4" fill="url(#gA)" stroke="#B5600F" stroke-width="0.9"/>
<path d="M378.5 155.9L365.4 167.2" stroke="#86ABE8" stroke-width="4.4"/>
<path d="M517.3 272.8L532.9 259.4" stroke="#050505" stroke-width="4.4" stroke-linecap="butt"/>
<circle cx="432.2" cy="183.1" r="8.4" fill="#060606"/>
<path d="M261.1 314.3L245.6 327.6" stroke="#050505" stroke-width="4.4" stroke-linecap="butt"/>
<circle cx="119.9" cy="330.2" r="8.4" fill="#060606"/>
<path d="M332.7 51.4L328.3 38.7" stroke="#050505" stroke-width="5.2" stroke-linecap="butt"/>
<path d="M238.2 241.6L242.6 254.3" stroke="#050505" stroke-width="5.2" stroke-linecap="butt"/>
<path d="M482.3 284.2L469.3 272.7" stroke="#86ABE8" stroke-width="4.4"/>
<path d="M192.3 137.1L205.4 125.8" stroke="#86ABE8" stroke-width="4.4"/>
<path d="M400.2 156L413.5 167.3" stroke="#86ABE8" stroke-width="4.4"/>
<path d="M227.4 199.3L225 185.1" stroke="#050505" stroke-width="5.2" stroke-linecap="butt"/>
<path d="M504 284.3L517.3 272.8" stroke="#86ABE8" stroke-width="4.4"/>
<circle cx="536" cy="256.7" r="8.4" fill="#060606"/>
<path d="M374 302.7L353.7 314.8" stroke="#E9A31A" stroke-width="5.2"/>
<path d="M374 302.7L353.7 314.8" stroke="#F6CB45" stroke-width="1.5" stroke-linecap="butt"/>
<circle cx="223.8" cy="403.8" r="8.4" fill="#060606"/>
<path d="M157.3 125.8L141.8 112.6" stroke="#050505" stroke-width="4.4" stroke-linecap="butt"/>
<circle cx="285.4" cy="293.4" r="15.8" fill="url(#gB)"/>
<path d="M309.2 314.3L324.5 327.7" stroke="#050505" stroke-width="4.4" stroke-linecap="butt"/>
<circle cx="181.6" cy="146.4" r="15.8" fill="url(#gB)"/>
<path d="M436.5 93.9L432.1 108" stroke="#050505" stroke-width="5.2" stroke-linecap="butt"/>
<path d="M528.6 167.8L551.1 181.2" stroke="#050505" stroke-width="5.2" stroke-linecap="butt"/>
<path d="M493.1 73.4L511.1 72.8" stroke="#5FC43A" stroke-width="1.9"/>
<path d="M270.2 137.5L249.9 125.5" stroke="#E9A31A" stroke-width="5.2"/>
<path d="M270.2 137.5L249.9 125.5" stroke="#F6CB45" stroke-width="1.5" stroke-linecap="butt"/>
<path d="M478 155.8L458 167.7" stroke="#E9A31A" stroke-width="5.2"/>
<path d="M478 155.8L458 167.7" stroke="#F6CB45" stroke-width="1.5" stroke-linecap="butt"/>
<path d="M353.7 314.8L331.2 328.3" stroke="#050505" stroke-width="5.2" stroke-linecap="butt"/>
<path d="M331.2 241.7L328.8 254.4" stroke="#050505" stroke-width="5.2" stroke-linecap="butt"/>
<path d="M404.3 302.7L424.3 314.9" stroke="#E9A31A" stroke-width="5.2"/>
<path d="M404.3 302.7L424.3 314.9" stroke="#F6CB45" stroke-width="1.5" stroke-linecap="butt"/>
<path d="M205.4 125.8L220.7 112.7" stroke="#050505" stroke-width="4.4" stroke-linecap="butt"/>
<circle cx="554.7" cy="183.3" r="8.4" fill="#060606"/>
<path d="M447.3 51.6L449.7 38.9" stroke="#050505" stroke-width="5.2" stroke-linecap="butt"/>
<circle cx="242.4" cy="330.4" r="8.4" fill="#060606"/>
<path d="M300.5 137.5L320.5 125.6" stroke="#E9A31A" stroke-width="5.2"/>
<path d="M300.5 137.5L320.5 125.6" stroke="#F6CB45" stroke-width="1.5" stroke-linecap="butt"/>
<polygon points="224.6,182.8 139.4,182.7 179.3,171.6" fill="#5A92DF" fill-opacity="0.30" stroke="#E6F0FA" stroke-opacity="0.5" stroke-width="0.8" stroke-linejoin="round"/>
<path d="M508.3 155.8L528.6 167.8" stroke="#E9A31A" stroke-width="5.2"/>
<path d="M508.3 155.8L528.6 167.8" stroke="#F6CB45" stroke-width="1.5" stroke-linecap="butt"/>
<path d="M249.9 125.5L227.4 112.1" stroke="#050505" stroke-width="5.2" stroke-linecap="butt"/>
<path d="M342 199.4L346.4 185.3" stroke="#050505" stroke-width="5.2" stroke-linecap="butt"/>
<path d="M482.1 303.1L468.8 314.6" stroke="#86ABE8" stroke-width="4.4"/>
<path d="M181.6 72.9L198.2 73.5" stroke="#5FC43A" stroke-width="1.9"/>
<circle cx="346.3" cy="403.9" r="8.4" fill="#060606"/>
<polygon points="328.4,256.4 243.3,256.3 283.2,271.6" fill="#5A92DF" fill-opacity="0.30" stroke="#E6F0FA" stroke-opacity="0.5" stroke-width="0.8" stroke-linejoin="round"/>
<path d="M551.1 94.1L553.5 108.2" stroke="#050505" stroke-width="5.2" stroke-linecap="butt"/>
<path d="M424.3 314.9L446.5 328.5" stroke="#050505" stroke-width="5.2" stroke-linecap="butt"/>
<circle cx="138.6" cy="109.9" r="8.4" fill="#060606"/>
<path d="M378.3 137.4L365 126.1" stroke="#86ABE8" stroke-width="4.4"/>
<path d="M503.8 303.1L516.9 314.6" stroke="#86ABE8" stroke-width="4.4"/>
<circle cx="389.2" cy="293.5" r="19.4" fill="url(#gA)" stroke="#B5600F" stroke-width="0.9"/>
<circle cx="285.4" cy="146.5" r="19.4" fill="url(#gA)" stroke="#B5600F" stroke-width="0.9"/>
<path d="M468.8 314.6L453.3 327.9" stroke="#050505" stroke-width="4.4" stroke-linecap="butt"/>
<circle cx="327.6" cy="330.5" r="8.4" fill="#060606"/>
<path d="M540.3 51.7L535.9 39" stroke="#050505" stroke-width="5.2" stroke-linecap="butt"/>
<path d="M445.8 241.9L450.2 254.6" stroke="#050505" stroke-width="5.2" stroke-linecap="butt"/>
<path d="M227 388.4L224.3 401.2" stroke="#050505" stroke-width="4.4" stroke-linecap="butt"/>
<circle cx="119.9" cy="36.4" r="8.4" fill="#060606"/>
<path d="M400 137.4L413.1 126.1" stroke="#86ABE8" stroke-width="4.4"/>
<path d="M475 367.7L493.1 367.1" stroke="#5FC43A" stroke-width="1.9"/>
<path d="M320.5 125.6L342.7 112.3" stroke="#050505" stroke-width="5.2" stroke-linecap="butt"/>
<path d="M435 199.6L432.6 185.4" stroke="#050505" stroke-width="5.2" stroke-linecap="butt"/>
<circle cx="431.4" cy="404.1" r="8.4" fill="#060606"/>
<path d="M365 126.1L349.4 112.9" stroke="#050505" stroke-width="4.4" stroke-linecap="butt"/>
<path d="M181 306L180.3 323" stroke="#E9A31A" stroke-width="5.2"/>
<path d="M181 306L180.3 323" stroke="#F6CB45" stroke-width="1.5" stroke-linecap="butt"/>
<circle cx="493.1" cy="293.7" r="15.8" fill="url(#gB)"/>
<polygon points="138.6,109.9 139.4,182.7 179.3,171.6" fill="#5A92DF" fill-opacity="0.30" stroke="#E6F0FA" stroke-opacity="0.5" stroke-width="0.8" stroke-linejoin="round"/>
<path d="M516.9 314.6L532.1 328" stroke="#050505" stroke-width="4.4" stroke-linecap="butt"/>
<circle cx="389.2" cy="146.7" r="15.8" fill="url(#gB)"/>
<circle cx="223.8" cy="110" r="8.4" fill="#060606"/>
<polygon points="242.4,330.4 243.3,256.3 283.2,271.6" fill="#5A92DF" fill-opacity="0.30" stroke="#E6F0FA" stroke-opacity="0.5" stroke-width="0.8" stroke-linejoin="round"/>
<path d="M237.6 346.9L241.6 333.2" stroke="#050505" stroke-width="4.4" stroke-linecap="butt"/>
<path d="M477.8 137.8L457.5 125.8" stroke="#E9A31A" stroke-width="5.2"/>
<path d="M477.8 137.8L457.5 125.8" stroke="#F6CB45" stroke-width="1.5" stroke-linecap="butt"/>
<path d="M181 283.4L180.3 272.7" stroke="#E9A31A" stroke-width="5.2"/>
<path d="M181 283.4L180.3 272.7" stroke="#F6CB45" stroke-width="1.5" stroke-linecap="butt"/>
<polygon points="242.4,330.4 223.8,403.8 179.3,344.9" fill="#5A92DF" fill-opacity="0.30" stroke="#E6F0FA" stroke-opacity="0.5" stroke-width="0.8" stroke-linejoin="round"/>
<path d="M413.1 126.1L428.3 113" stroke="#050505" stroke-width="4.4" stroke-linecap="butt"/>
<polygon points="224.6,182.8 223.8,110 179.3,171.6" fill="#5A92DF" fill-opacity="0.30" stroke="#E6F0FA" stroke-opacity="0.5" stroke-width="0.8" stroke-linejoin="round"/>
<polygon points="328.4,256.4 327.6,330.5 283.2,271.6" fill="#5A92DF" fill-opacity="0.30" stroke="#E6F0FA" stroke-opacity="0.5" stroke-width="0.8" stroke-linejoin="round"/>
<circle cx="450.1" cy="330.7" r="8.4" fill="#060606"/>
<path d="M508.1 137.8L528.1 125.9" stroke="#E9A31A" stroke-width="5.2"/>
<path d="M341.4 388.6L345.4 401.3" stroke="#050505" stroke-width="4.4" stroke-linecap="butt"/>
<path d="M508.1 137.8L528.1 125.9" stroke="#F6CB45" stroke-width="1.5" stroke-linecap="butt"/>
<polygon points="242.4,330.4 223.8,403.8 283.2,392.1" fill="#5A92DF" fill-opacity="0.30" stroke="#E6F0FA" stroke-opacity="0.5" stroke-width="0.8" stroke-linejoin="round"/>
<polygon points="432.2,183.1 347.1,183 387,171.9" fill="#5A92DF" fill-opacity="0.30" stroke="#E6F0FA" stroke-opacity="0.5" stroke-width="0.8" stroke-linejoin="round"/>
<circle cx="242.4" cy="36.6" r="8.4" fill="#060606"/>
<path d="M457.5 125.8L435 112.4" stroke="#050505" stroke-width="5.2" stroke-linecap="butt"/>
<path d="M198.2 367.3L214.7 367.9" stroke="#5FC43A" stroke-width="1.9"/>
<path d="M330.8 347.1L328.1 333.3" stroke="#050505" stroke-width="4.4" stroke-linecap="butt"/>
<circle cx="553.9" cy="404.2" r="8.4" fill="#060606"/>
<path d="M181 152.8L180.3 160.6" stroke="#86ABE8" stroke-width="4.4"/>
<polygon points="536,256.7 450.9,256.6 490.8,271.9" fill="#5A92DF" fill-opacity="0.30" stroke="#E6F0FA" stroke-opacity="0.5" stroke-width="0.8" stroke-linejoin="round"/>
<path d="M284.8 287.8L284.1 281.1" stroke="#86ABE8" stroke-width="4.4"/>
<circle cx="346.3" cy="110.2" r="8.4" fill="#060606"/>
<polygon points="346.3,403.9 327.6,330.5 283.2,392.1" fill="#5A92DF" fill-opacity="0.30" stroke="#E6F0FA" stroke-opacity="0.5" stroke-width="0.8" stroke-linejoin="round"/>
<circle cx="493.1" cy="146.8" r="19.4" fill="url(#gA)" stroke="#B5600F" stroke-width="0.9"/>
<circle cx="535.2" cy="330.8" r="8.4" fill="#060606"/>
<polygon points="242.4,330.4 327.6,330.5 283.2,271.6" fill="#5A92DF" fill-opacity="0.30" stroke="#E6F0FA" stroke-opacity="0.5" stroke-width="0.8" stroke-linejoin="round"/>
<path d="M434.7 388.7L432 401.5" stroke="#050505" stroke-width="4.4" stroke-linecap="butt"/>
<circle cx="327.6" cy="36.7" r="8.4" fill="#060606"/>
<path d="M528.1 125.9L550.4 112.6" stroke="#050505" stroke-width="5.2" stroke-linecap="butt"/>
<path d="M227 94.6L224.3 107.4" stroke="#050505" stroke-width="4.4" stroke-linecap="butt"/>
<polygon points="346.3,403.9 327.6,330.5 387,345.2" fill="#5A92DF" fill-opacity="0.30" stroke="#E6F0FA" stroke-opacity="0.5" stroke-width="0.8" stroke-linejoin="round"/>
<path d="M475 73.9L493.1 73.4" stroke="#5FC43A" stroke-width="1.9"/>
<polygon points="138.6,109.9 223.8,110 179.3,171.6" fill="#5A92DF" fill-opacity="0.30" stroke="#E6F0FA" stroke-opacity="0.5" stroke-width="0.8" stroke-linejoin="round"/>
<path d="M388.7 306.3L387.9 323.3" stroke="#E9A31A" stroke-width="5.2"/>
<path d="M388.7 306.3L387.9 323.3" stroke="#F6CB45" stroke-width="1.5" stroke-linecap="butt"/>
<polygon points="346.3,110.2 347.1,183 387,171.9" fill="#5A92DF" fill-opacity="0.30" stroke="#E6F0FA" stroke-opacity="0.5" stroke-width="0.8" stroke-linejoin="round"/>
<circle cx="431.4" cy="110.3" r="8.4" fill="#060606"/>
<polygon points="450.1,330.7 450.9,256.6 490.8,271.9" fill="#5A92DF" fill-opacity="0.30" stroke="#E6F0FA" stroke-opacity="0.5" stroke-width="0.8" stroke-linejoin="round"/>
<path d="M445.2 347.2L449.3 333.5" stroke="#050505" stroke-width="4.4" stroke-linecap="butt"/>
<path d="M237.6 53.2L241.6 39.4" stroke="#050505" stroke-width="4.4" stroke-linecap="butt"/>
<path d="M234.2 230.2L238.2 241.6" stroke="#E9A31A" stroke-width="5.2"/>
<path d="M234.2 230.2L238.2 241.6" stroke="#F6CB45" stroke-width="1.5" stroke-linecap="butt"/>
<path d="M284.8 157.3L284.1 169" stroke="#E9A31A" stroke-width="5.2"/>
<path d="M284.8 157.3L284.1 169" stroke="#F6CB45" stroke-width="1.5" stroke-linecap="butt"/>
<path d="M284.9 134.6L284.1 118.7" stroke="#E9A31A" stroke-width="5.2"/>
<path d="M284.9 134.6L284.1 118.7" stroke="#F6CB45" stroke-width="1.5" stroke-linecap="butt"/>
<path d="M229.6 212L227.4 199.3" stroke="#E9A31A" stroke-width="5.2"/>
<path d="M229.6 212L227.4 199.3" stroke="#F6CB45" stroke-width="1.5" stroke-linecap="butt"/>
<path d="M388.6 283.7L387.9 273" stroke="#E9A31A" stroke-width="5.2"/>
<path d="M388.6 283.7L387.9 273" stroke="#F6CB45" stroke-width="1.5" stroke-linecap="butt"/>
<polygon points="450.1,330.7 431.4,404.1 387,345.2" fill="#5A92DF" fill-opacity="0.30" stroke="#E6F0FA" stroke-opacity="0.5" stroke-width="0.8" stroke-linejoin="round"/>
<polygon points="432.2,183.1 431.4,110.3 387,171.9" fill="#5A92DF" fill-opacity="0.30" stroke="#E6F0FA" stroke-opacity="0.5" stroke-width="0.8" stroke-linejoin="round"/>
<polygon points="536,256.7 535.2,330.8 490.8,271.9" fill="#5A92DF" fill-opacity="0.30" stroke="#E6F0FA" stroke-opacity="0.5" stroke-width="0.8" stroke-linejoin="round"/>
<polygon points="242.4,36.6 223.8,110 179.3,51.1" fill="#5A92DF" fill-opacity="0.30" stroke="#E6F0FA" stroke-opacity="0.5" stroke-width="0.8" stroke-linejoin="round"/>
<polygon points="450.1,330.7 431.4,404.1 490.8,392.4" fill="#5A92DF" fill-opacity="0.30" stroke="#E6F0FA" stroke-opacity="0.5" stroke-width="0.8" stroke-linejoin="round"/>
<circle cx="450.1" cy="36.9" r="8.4" fill="#060606"/>
<path d="M229.3 377.5L227 388.4" stroke="#86ABE8" stroke-width="4.4"/>
<path d="M341.4 94.8L345.4 107.6" stroke="#050505" stroke-width="4.4" stroke-linecap="butt"/>
<polygon points="242.4,36.6 223.8,110 283.2,98.3" fill="#5A92DF" fill-opacity="0.30" stroke="#E6F0FA" stroke-opacity="0.5" stroke-width="0.8" stroke-linejoin="round"/>
<path d="M198.2 73.5L214.7 74.1" stroke="#5FC43A" stroke-width="1.9"/>
<path d="M330.8 53.3L328.1 39.5" stroke="#050505" stroke-width="4.4" stroke-linecap="butt"/>
<path d="M388.7 153.1L388 160.9" stroke="#86ABE8" stroke-width="4.4"/>
<path d="M234.1 358.8L237.6 346.9" stroke="#86ABE8" stroke-width="4.4"/>
<path d="M492.5 288.1L491.8 281.4" stroke="#86ABE8" stroke-width="4.4"/>
<path d="M333.4 230.3L331.2 241.7" stroke="#E9A31A" stroke-width="5.2"/>
<path d="M333.4 230.3L331.2 241.7" stroke="#F6CB45" stroke-width="1.5" stroke-linecap="butt"/>
<circle cx="553.9" cy="110.5" r="8.4" fill="#060606"/>
<path d="M456.9 368.2L475 367.7" stroke="#5FC43A" stroke-width="1.9"/>
<path d="M338 212.2L342 199.4" stroke="#E9A31A" stroke-width="5.2"/>
<path d="M338 212.2L342 199.4" stroke="#F6CB45" stroke-width="1.5" stroke-linecap="butt"/>
<polygon points="450.1,330.7 535.2,330.8 490.8,271.9" fill="#5A92DF" fill-opacity="0.30" stroke="#E6F0FA" stroke-opacity="0.5" stroke-width="0.8" stroke-linejoin="round"/>
<polygon points="346.3,110.2 327.6,36.7 283.2,98.3" fill="#5A92DF" fill-opacity="0.30" stroke="#E6F0FA" stroke-opacity="0.5" stroke-width="0.8" stroke-linejoin="round"/>
<circle cx="535.2" cy="37" r="8.4" fill="#060606"/>
<path d="M434.7 94.9L432 107.7" stroke="#050505" stroke-width="4.4" stroke-linecap="butt"/>
<path d="M180.3 323L179.5 341.9" stroke="#050505" stroke-width="5.2" stroke-linecap="butt"/>
<polygon points="346.3,110.2 431.4,110.3 387,171.9" fill="#5A92DF" fill-opacity="0.30" stroke="#E6F0FA" stroke-opacity="0.5" stroke-width="0.8" stroke-linejoin="round"/>
<path d="M337.9 377.6L341.4 388.6" stroke="#86ABE8" stroke-width="4.4"/>
<polygon points="346.3,110.2 327.6,36.7 387,51.4" fill="#5A92DF" fill-opacity="0.30" stroke="#E6F0FA" stroke-opacity="0.5" stroke-width="0.8" stroke-linejoin="round"/>
<path d="M333.2 358.9L330.8 347.1" stroke="#86ABE8" stroke-width="4.4"/>
<path d="M445.2 53.5L449.3 39.7" stroke="#050505" stroke-width="4.4" stroke-linecap="butt"/>
<path d="M441.9 230.5L445.8 241.9" stroke="#E9A31A" stroke-width="5.2"/>
<path d="M441.9 230.5L445.8 241.9" stroke="#F6CB45" stroke-width="1.5" stroke-linecap="butt"/>
<path d="M180.3 272.7L179.5 260.5" stroke="#050505" stroke-width="5.2" stroke-linecap="butt"/>
<path d="M492.4 157.6L491.7 169.3" stroke="#E9A31A" stroke-width="5.2"/>
<path d="M492.4 157.6L491.7 169.3" stroke="#F6CB45" stroke-width="1.5" stroke-linecap="butt"/>
<path d="M492.5 134.9L491.8 119" stroke="#E9A31A" stroke-width="5.2"/>
<path d="M492.5 134.9L491.8 119" stroke="#F6CB45" stroke-width="1.5" stroke-linecap="butt"/>
<path d="M437.2 212.3L435 199.6" stroke="#E9A31A" stroke-width="5.2"/>
<path d="M437.2 212.3L435 199.6" stroke="#F6CB45" stroke-width="1.5" stroke-linecap="butt"/>
<polygon points="450.1,36.9 431.4,110.3 387,51.4" fill="#5A92DF" fill-opacity="0.30" stroke="#E6F0FA" stroke-opacity="0.5" stroke-width="0.8" stroke-linejoin="round"/>
<path d="M437 377.8L434.7 388.7" stroke="#86ABE8" stroke-width="4.4"/>
<path d="M214.7 367.9L231.2 368.5" stroke="#5FC43A" stroke-width="1.9"/>
<polygon points="450.1,36.9 431.4,110.3 490.8,98.6" fill="#5A92DF" fill-opacity="0.30" stroke="#E6F0FA" stroke-opacity="0.5" stroke-width="0.8" stroke-linejoin="round"/>
<path d="M180.3 160.6L179.5 169.7" stroke="#050505" stroke-width="4.4" stroke-linecap="butt"/>
<path d="M229.3 83.7L227 94.6" stroke="#86ABE8" stroke-width="4.4"/>
<path d="M284.1 281.1L283.3 273.2" stroke="#050505" stroke-width="4.4" stroke-linecap="butt"/>
<path d="M441.7 359.1L445.2 347.2" stroke="#86ABE8" stroke-width="4.4"/>
<path d="M234.1 65L237.6 53.2" stroke="#86ABE8" stroke-width="4.4"/>
<path d="M456.9 74.5L475 73.9" stroke="#5FC43A" stroke-width="1.9"/>
<path d="M387.9 323.3L387.1 342.2" stroke="#050505" stroke-width="5.2" stroke-linecap="butt"/>
<path d="M284.1 169L283.3 182.4" stroke="#050505" stroke-width="5.2" stroke-linecap="butt"/>
<path d="M337.9 83.9L341.4 94.8" stroke="#86ABE8" stroke-width="4.4"/>
<path d="M333.2 65.1L330.8 53.3" stroke="#86ABE8" stroke-width="4.4"/>
<path d="M387.9 273L387.1 260.8" stroke="#050505" stroke-width="5.2" stroke-linecap="butt"/>
<path d="M284.1 118.7L283.3 101.1" stroke="#050505" stroke-width="5.2" stroke-linecap="butt"/>
<polygon points="220,406.6 223.8,403.8 179.3,344.9" fill="#5A92DF" fill-opacity="0.30" stroke="#E6F0FA" stroke-opacity="0.5" stroke-width="0.8" stroke-linejoin="round"/>
<path d="M201.9 355.2L183.2 346.6" stroke="#050505" stroke-width="4.4" stroke-linecap="butt"/>
<path d="M218 362.5L201.9 355.2" stroke="#86ABE8" stroke-width="4.4"/>
<polygon points="220,406.6 223.8,403.8 283.2,392.1" fill="#5A92DF" fill-opacity="0.30" stroke="#E6F0FA" stroke-opacity="0.5" stroke-width="0.8" stroke-linejoin="round"/>
<path d="M388 160.9L387.1 170" stroke="#050505" stroke-width="4.4" stroke-linecap="butt"/>
<path d="M244.5 374.5L260.6 381.8" stroke="#86ABE8" stroke-width="4.4"/>
<path d="M437 84L434.7 94.9" stroke="#86ABE8" stroke-width="4.4"/>
<path d="M214.7 74.1L231.2 74.7" stroke="#5FC43A" stroke-width="1.9"/>
<path d="M438.9 368.8L456.9 368.2" stroke="#5FC43A" stroke-width="1.9"/>
<polygon points="242.4,330.4 238.7,333.2 179.3,344.9" fill="#5A92DF" fill-opacity="0.30" stroke="#E6F0FA" stroke-opacity="0.5" stroke-width="0.8" stroke-linejoin="round"/>
<path d="M260.6 381.8L279.3 390.3" stroke="#050505" stroke-width="4.4" stroke-linecap="butt"/>
<path d="M491.8 281.4L491 273.5" stroke="#050505" stroke-width="4.4" stroke-linecap="butt"/>
<polygon points="242.4,330.4 238.7,333.2 283.2,392.1" fill="#5A92DF" fill-opacity="0.30" stroke="#E6F0FA" stroke-opacity="0.5" stroke-width="0.8" stroke-linejoin="round"/>
<path d="M441.7 65.3L445.2 53.5" stroke="#86ABE8" stroke-width="4.4"/>
<path d="M200.8 243.1L182.8 255.8" stroke="#050505" stroke-width="5.2" stroke-linecap="butt"/>
<path d="M305.7 381.9L287 390.3" stroke="#050505" stroke-width="4.4" stroke-linecap="butt"/>
<circle cx="179.3" cy="344.9" r="8.4" fill="#060606"/>
<polygon points="346.3,403.9 342.6,406.8 283.2,392.1" fill="#5A92DF" fill-opacity="0.30" stroke="#E6F0FA" stroke-opacity="0.5" stroke-width="0.8" stroke-linejoin="round"/>
<path d="M321.8 374.6L305.7 381.9" stroke="#86ABE8" stroke-width="4.4"/>
<path d="M216.7 231.9L200.8 243.1" stroke="#E9A31A" stroke-width="5.2"/>
<path d="M216.7 231.9L200.8 243.1" stroke="#F6CB45" stroke-width="1.5" stroke-linecap="butt"/>
<polygon points="323.9,333.3 327.6,330.5 283.2,392.1" fill="#5A92DF" fill-opacity="0.30" stroke="#E6F0FA" stroke-opacity="0.5" stroke-width="0.8" stroke-linejoin="round"/>
<path d="M201.3 192.8L182.4 174.5" stroke="#050505" stroke-width="5.2" stroke-linecap="butt"/>
<path d="M218.4 209.2L201.3 192.8" stroke="#E9A31A" stroke-width="5.2"/>
<path d="M218.4 209.2L201.3 192.8" stroke="#F6CB45" stroke-width="1.5" stroke-linecap="butt"/>
<path d="M244.1 234L261.2 250.4" stroke="#E9A31A" stroke-width="5.2"/>
<path d="M244.1 234L261.2 250.4" stroke="#F6CB45" stroke-width="1.5" stroke-linecap="butt"/>
<circle cx="179.3" cy="258.2" r="8.4" fill="#060606"/>
<circle cx="283.2" cy="392.1" r="8.4" fill="#060606"/>
<path d="M491.7 169.3L490.9 182.7" stroke="#050505" stroke-width="5.2" stroke-linecap="butt"/>
<polygon points="346.3,403.9 342.6,406.8 387,345.2" fill="#5A92DF" fill-opacity="0.30" stroke="#E6F0FA" stroke-opacity="0.5" stroke-width="0.8" stroke-linejoin="round"/>
<path d="M261.2 250.4L280.1 268.7" stroke="#050505" stroke-width="5.2" stroke-linecap="butt"/>
<path d="M348.3 362.7L364.4 355.4" stroke="#86ABE8" stroke-width="4.4"/>
<polygon points="323.9,333.3 327.6,330.5 387,345.2" fill="#5A92DF" fill-opacity="0.30" stroke="#E6F0FA" stroke-opacity="0.5" stroke-width="0.8" stroke-linejoin="round"/>
<path d="M245.8 211.3L261.7 200.1" stroke="#E9A31A" stroke-width="5.2"/>
<path d="M245.8 211.3L261.7 200.1" stroke="#F6CB45" stroke-width="1.5" stroke-linecap="butt"/>
<path d="M305.2 250.5L286.2 268.7" stroke="#050505" stroke-width="5.2" stroke-linecap="butt"/>
<path d="M364.4 355.4L383.2 346.9" stroke="#050505" stroke-width="4.4" stroke-linecap="butt"/>
<circle cx="231.2" cy="368.5" r="15.8" fill="url(#gB)"/>
<path d="M491.8 119L490.9 101.4" stroke="#050505" stroke-width="5.2" stroke-linecap="butt"/>
<path d="M261.7 200.1L279.7 187.4" stroke="#050505" stroke-width="5.2" stroke-linecap="butt"/>
<polygon points="427.7,406.9 431.4,404.1 387,345.2" fill="#5A92DF" fill-opacity="0.30" stroke="#E6F0FA" stroke-opacity="0.5" stroke-width="0.8" stroke-linejoin="round"/>
<path d="M322.2 234.1L305.2 250.5" stroke="#E9A31A" stroke-width="5.2"/>
<path d="M322.2 234.1L305.2 250.5" stroke="#F6CB45" stroke-width="1.5" stroke-linecap="butt"/>
<path d="M409.6 355.5L390.8 346.9" stroke="#050505" stroke-width="4.4" stroke-linecap="butt"/>
<circle cx="179.3" cy="171.6" r="8.4" fill="#060606"/>
<polygon points="220,112.8 223.8,110 179.3,51.1" fill="#5A92DF" fill-opacity="0.30" stroke="#E6F0FA" stroke-opacity="0.5" stroke-width="0.8" stroke-linejoin="round"/>
<path d="M425.7 362.8L409.6 355.5" stroke="#86ABE8" stroke-width="4.4"/>
<path d="M304.6 200.2L286.6 187.4" stroke="#050505" stroke-width="5.2" stroke-linecap="butt"/>
<path d="M201.9 61.4L183.2 52.9" stroke="#050505" stroke-width="4.4" stroke-linecap="butt"/>
<polygon points="427.7,406.9 431.4,404.1 490.8,392.4" fill="#5A92DF" fill-opacity="0.30" stroke="#E6F0FA" stroke-opacity="0.5" stroke-width="0.8" stroke-linejoin="round"/>
<path d="M320.5 211.4L304.6 200.2" stroke="#E9A31A" stroke-width="5.2"/>
<path d="M320.5 211.4L304.6 200.2" stroke="#F6CB45" stroke-width="1.5" stroke-linecap="butt"/>
<path d="M231.2 368.5L247.8 369.1" stroke="#5FC43A" stroke-width="1.9"/>
<path d="M218 68.7L201.9 61.4" stroke="#86ABE8" stroke-width="4.4"/>
<circle cx="283.2" cy="271.6" r="8.4" fill="#060606"/>
<polygon points="220,112.8 223.8,110 283.2,98.3" fill="#5A92DF" fill-opacity="0.30" stroke="#E6F0FA" stroke-opacity="0.5" stroke-width="0.8" stroke-linejoin="round"/>
<path d="M452.1 374.8L468.2 382.1" stroke="#86ABE8" stroke-width="4.4"/>
<path d="M349.6 232.1L365.5 243.3" stroke="#E9A31A" stroke-width="5.2"/>
<path d="M349.6 232.1L365.5 243.3" stroke="#F6CB45" stroke-width="1.5" stroke-linecap="butt"/>
<polygon points="450.1,330.7 446.4,333.5 387,345.2" fill="#5A92DF" fill-opacity="0.30" stroke="#E6F0FA" stroke-opacity="0.5" stroke-width="0.8" stroke-linejoin="round"/>
<path d="M468.2 382.1L487 390.6" stroke="#050505" stroke-width="4.4" stroke-linecap="butt"/>
<path d="M365.5 243.3L383.6 256.1" stroke="#050505" stroke-width="5.2" stroke-linecap="butt"/>
<path d="M244.5 80.7L260.6 88" stroke="#86ABE8" stroke-width="4.4"/>
<path d="M438.9 75L456.9 74.5" stroke="#5FC43A" stroke-width="1.9"/>
<polygon points="242.4,36.6 238.7,39.4 179.3,51.1" fill="#5A92DF" fill-opacity="0.30" stroke="#E6F0FA" stroke-opacity="0.5" stroke-width="0.8" stroke-linejoin="round"/>
<path d="M260.6 88L279.3 96.5" stroke="#050505" stroke-width="4.4" stroke-linecap="butt"/>
<polygon points="450.1,330.7 446.4,333.5 490.8,392.4" fill="#5A92DF" fill-opacity="0.30" stroke="#E6F0FA" stroke-opacity="0.5" stroke-width="0.8" stroke-linejoin="round"/>
<path d="M347.9 209.4L365 193" stroke="#E9A31A" stroke-width="5.2"/>
<path d="M347.9 209.4L365 193" stroke="#F6CB45" stroke-width="1.5" stroke-linecap="butt"/>
<path d="M408.4 243.4L390.4 256.1" stroke="#050505" stroke-width="5.2" stroke-linecap="butt"/>
<circle cx="387" cy="345.2" r="8.4" fill="#060606"/>
<polygon points="242.4,36.6 238.7,39.4 283.2,98.3" fill="#5A92DF" fill-opacity="0.30" stroke="#E6F0FA" stroke-opacity="0.5" stroke-width="0.8" stroke-linejoin="round"/>
<circle cx="335.1" cy="368.6" r="15.8" fill="url(#gB)"/>
<path d="M305.7 88.1L287 96.6" stroke="#050505" stroke-width="4.4" stroke-linecap="butt"/>
<circle cx="179.3" cy="51.1" r="8.4" fill="#060606"/>
<circle cx="283.2" cy="184.9" r="8.4" fill="#060606"/>
<path d="M365 193L384 174.8" stroke="#050505" stroke-width="5.2" stroke-linecap="butt"/>
<path d="M424.3 232.2L408.4 243.4" stroke="#E9A31A" stroke-width="5.2"/>
<path d="M424.3 232.2L408.4 243.4" stroke="#F6CB45" stroke-width="1.5" stroke-linecap="butt"/>
<polygon points="346.3,110.2 342.6,113 283.2,98.3" fill="#5A92DF" fill-opacity="0.30" stroke="#E6F0FA" stroke-opacity="0.5" stroke-width="0.8" stroke-linejoin="round"/>
<path d="M321.8 80.8L305.7 88.1" stroke="#86ABE8" stroke-width="4.4"/>
<path d="M409 193.1L390 174.8" stroke="#050505" stroke-width="5.2" stroke-linecap="butt"/>
<circle cx="231.2" cy="221.6" r="19.4" fill="url(#gA)" stroke="#B5600F" stroke-width="0.9"/>
<path d="M426 209.5L409 193.1" stroke="#E9A31A" stroke-width="5.2"/>
<path d="M426 209.5L409 193.1" stroke="#F6CB45" stroke-width="1.5" stroke-linecap="butt"/>
<polygon points="323.9,39.5 327.6,36.7 283.2,98.3" fill="#5A92DF" fill-opacity="0.30" stroke="#E6F0FA" stroke-opacity="0.5" stroke-width="0.8" stroke-linejoin="round"/>
<path d="M451.7 234.3L468.8 250.7" stroke="#E9A31A" stroke-width="5.2"/>
<path d="M451.7 234.3L468.8 250.7" stroke="#F6CB45" stroke-width="1.5" stroke-linecap="butt"/>
<circle cx="387" cy="258.5" r="8.4" fill="#060606"/>
<circle cx="490.8" cy="392.4" r="8.4" fill="#060606"/>
<path d="M468.8 250.7L487.8 269" stroke="#050505" stroke-width="5.2" stroke-linecap="butt"/>
<circle cx="283.2" cy="98.3" r="8.4" fill="#060606"/>
<polygon points="346.3,110.2 342.6,113 387,51.4" fill="#5A92DF" fill-opacity="0.30" stroke="#E6F0FA" stroke-opacity="0.5" stroke-width="0.8" stroke-linejoin="round"/>
<path d="M453.4 211.6L469.3 200.4" stroke="#E9A31A" stroke-width="5.2"/>
<path d="M453.4 211.6L469.3 200.4" stroke="#F6CB45" stroke-width="1.5" stroke-linecap="butt"/>
<path d="M348.3 68.9L364.4 61.6" stroke="#86ABE8" stroke-width="4.4"/>
<polygon points="323.9,39.5 327.6,36.7 387,51.4" fill="#5A92DF" fill-opacity="0.30" stroke="#E6F0FA" stroke-opacity="0.5" stroke-width="0.8" stroke-linejoin="round"/>
<circle cx="438.9" cy="368.8" r="15.8" fill="url(#gB)"/>
<path d="M364.4 61.6L383.2 53.2" stroke="#050505" stroke-width="4.4" stroke-linecap="butt"/>
<path d="M469.3 200.4L487.4 187.7" stroke="#050505" stroke-width="5.2" stroke-linecap="butt"/>
<path d="M228.4 378.2L224.9 390" stroke="#86ABE8" stroke-width="4.4"/>
<circle cx="231.2" cy="74.7" r="15.8" fill="url(#gB)"/>
<circle cx="387" cy="171.9" r="8.4" fill="#060606"/>
<path d="M420.8 369.3L438.9 368.8" stroke="#5FC43A" stroke-width="1.9"/>
<polygon points="427.7,113.1 431.4,110.3 387,51.4" fill="#5A92DF" fill-opacity="0.30" stroke="#E6F0FA" stroke-opacity="0.5" stroke-width="0.8" stroke-linejoin="round"/>
<path d="M409.6 61.7L390.8 53.2" stroke="#050505" stroke-width="4.4" stroke-linecap="butt"/>
<path d="M233.2 359.5L235.5 348.5" stroke="#86ABE8" stroke-width="4.4"/>
<circle cx="335.1" cy="221.7" r="19.4" fill="#9CC3B4" fill-opacity="0.55" stroke="#8FC79A" stroke-opacity="0.6" stroke-width="1"/>
<path d="M425.7 69L409.6 61.7" stroke="#86ABE8" stroke-width="4.4"/>
<circle cx="490.8" cy="271.9" r="8.4" fill="#060606"/>
<path d="M282.2 282.6L283 273.5" stroke="#050505" stroke-width="4.4" stroke-linecap="butt"/>
<polygon points="427.7,113.1 431.4,110.3 490.8,98.6" fill="#5A92DF" fill-opacity="0.30" stroke="#E6F0FA" stroke-opacity="0.5" stroke-width="0.8" stroke-linejoin="round"/>
<path d="M231.2 74.7L247.8 75.3" stroke="#5FC43A" stroke-width="1.9"/>
<path d="M452.1 81L468.2 88.3" stroke="#86ABE8" stroke-width="4.4"/>
<polygon points="450.1,36.9 446.4,39.7 387,51.4" fill="#5A92DF" fill-opacity="0.30" stroke="#E6F0FA" stroke-opacity="0.5" stroke-width="0.8" stroke-linejoin="round"/>
<path d="M468.2 88.3L487 96.8" stroke="#050505" stroke-width="4.4" stroke-linecap="butt"/>
<path d="M386 324.8L386.8 342.4" stroke="#050505" stroke-width="5.2" stroke-linecap="butt"/>
<polygon points="450.1,36.9 446.4,39.7 490.8,98.6" fill="#5A92DF" fill-opacity="0.30" stroke="#E6F0FA" stroke-opacity="0.5" stroke-width="0.8" stroke-linejoin="round"/>
<path d="M282.2 170.5L283 182.6" stroke="#050505" stroke-width="5.2" stroke-linecap="butt"/>
<circle cx="387" cy="51.4" r="8.4" fill="#060606"/>
<circle cx="490.8" cy="185.2" r="8.4" fill="#060606"/>
<circle cx="335.1" cy="74.9" r="15.8" fill="url(#gB)"/>
<path d="M337 378.3L339.3 390.2" stroke="#86ABE8" stroke-width="4.4"/>
<path d="M332.2 359.6L328.7 348.7" stroke="#86ABE8" stroke-width="4.4"/>
<path d="M386 274.4L386.8 261.1" stroke="#050505" stroke-width="5.2" stroke-linecap="butt"/>
<circle cx="438.9" cy="221.9" r="19.4" fill="url(#gA)" stroke="#B5600F" stroke-width="0.9"/>
<path d="M282.2 120.2L283 101.3" stroke="#050505" stroke-width="5.2" stroke-linecap="butt"/>
<circle cx="490.8" cy="98.6" r="8.4" fill="#060606"/>
<path d="M436 378.5L432.6 390.3" stroke="#86ABE8" stroke-width="4.4"/>
<circle cx="438.9" cy="75" r="15.8" fill="url(#gB)"/>
<path d="M228.4 84.4L224.9 96.2" stroke="#86ABE8" stroke-width="4.4"/>
<path d="M386 162.4L386.8 170.3" stroke="#050505" stroke-width="4.4" stroke-linecap="butt"/>
<path d="M247.8 369.1L264.3 369.7" stroke="#5FC43A" stroke-width="1.9"/>
<path d="M420.8 75.6L438.9 75" stroke="#5FC43A" stroke-width="1.9"/>
<path d="M440.8 359.8L443.1 348.8" stroke="#86ABE8" stroke-width="4.4"/>
<path d="M233.2 65.7L235.5 54.8" stroke="#86ABE8" stroke-width="4.4"/>
<polygon points="220,406.6 238.7,333.2 179.3,344.9" fill="#5A92DF" fill-opacity="0.30" stroke="#E6F0FA" stroke-opacity="0.5" stroke-width="0.8" stroke-linejoin="round"/>
<polygon points="220,406.6 238.7,333.2 283.2,392.1" fill="#5A92DF" fill-opacity="0.30" stroke="#E6F0FA" stroke-opacity="0.5" stroke-width="0.8" stroke-linejoin="round"/>
<path d="M232.9 231.2L235.1 243.9" stroke="#E9A31A" stroke-width="5.2"/>
<path d="M232.9 231.2L235.1 243.9" stroke="#F6CB45" stroke-width="1.5" stroke-linecap="butt"/>
<path d="M228.3 213L224.3 201.6" stroke="#E9A31A" stroke-width="5.2"/>
<path d="M228.3 213L224.3 201.6" stroke="#F6CB45" stroke-width="1.5" stroke-linecap="butt"/>
<path d="M224.9 390L220.9 403.8" stroke="#050505" stroke-width="4.4" stroke-linecap="butt"/>
<path d="M337 84.6L339.3 96.4" stroke="#86ABE8" stroke-width="4.4"/>
<path d="M332.2 65.9L328.7 54.9" stroke="#86ABE8" stroke-width="4.4"/>
<polygon points="323.9,333.3 342.6,406.8 283.2,392.1" fill="#5A92DF" fill-opacity="0.30" stroke="#E6F0FA" stroke-opacity="0.5" stroke-width="0.8" stroke-linejoin="round"/>
<polygon points="323.9,333.3 238.7,333.2 283.2,271.6" fill="#5A92DF" fill-opacity="0.30" stroke="#E6F0FA" stroke-opacity="0.5" stroke-width="0.8" stroke-linejoin="round"/>
<path d="M235.5 348.5L238.2 335.8" stroke="#050505" stroke-width="4.4" stroke-linecap="butt"/>
<path d="M402.8 369.9L420.8 369.3" stroke="#5FC43A" stroke-width="1.9"/>
<path d="M332.1 231.3L328.1 244.1" stroke="#E9A31A" stroke-width="5.2"/>
<path d="M332.1 231.3L328.1 244.1" stroke="#F6CB45" stroke-width="1.5" stroke-linecap="butt"/>
<polygon points="323.9,333.3 342.6,406.8 387,345.2" fill="#5A92DF" fill-opacity="0.30" stroke="#E6F0FA" stroke-opacity="0.5" stroke-width="0.8" stroke-linejoin="round"/>
<path d="M336.7 213.2L338.9 201.8" stroke="#E9A31A" stroke-width="5.2"/>
<path d="M336.7 213.2L338.9 201.8" stroke="#F6CB45" stroke-width="1.5" stroke-linecap="butt"/>
<path d="M436 84.7L432.6 96.5" stroke="#86ABE8" stroke-width="4.4"/>
<path d="M281.5 290.4L282.2 282.6" stroke="#86ABE8" stroke-width="4.4"/>
<path d="M339.3 390.2L342 404" stroke="#050505" stroke-width="4.4" stroke-linecap="butt"/>
<path d="M247.8 75.3L264.3 75.9" stroke="#5FC43A" stroke-width="1.9"/>
<path d="M328.7 348.7L324.7 335.9" stroke="#050505" stroke-width="4.4" stroke-linecap="butt"/>
<path d="M440.8 66L443.1 55.1" stroke="#86ABE8" stroke-width="4.4"/>
<polygon points="427.7,406.9 446.4,333.5 387,345.2" fill="#5A92DF" fill-opacity="0.30" stroke="#E6F0FA" stroke-opacity="0.5" stroke-width="0.8" stroke-linejoin="round"/>
<polygon points="220,112.8 238.7,39.4 179.3,51.1" fill="#5A92DF" fill-opacity="0.30" stroke="#E6F0FA" stroke-opacity="0.5" stroke-width="0.8" stroke-linejoin="round"/>
<polygon points="427.7,406.9 446.4,333.5 490.8,392.4" fill="#5A92DF" fill-opacity="0.30" stroke="#E6F0FA" stroke-opacity="0.5" stroke-width="0.8" stroke-linejoin="round"/>
<path d="M281.5 159.8L282.2 170.5" stroke="#E9A31A" stroke-width="5.2"/>
<path d="M281.5 159.8L282.2 170.5" stroke="#F6CB45" stroke-width="1.5" stroke-linecap="butt"/>
<polygon points="237.9,260.4 238.7,333.2 283.2,271.6" fill="#5A92DF" fill-opacity="0.30" stroke="#E6F0FA" stroke-opacity="0.5" stroke-width="0.8" stroke-linejoin="round"/>
<path d="M440.5 231.5L442.7 244.2" stroke="#E9A31A" stroke-width="5.2"/>
<path d="M440.5 231.5L442.7 244.2" stroke="#F6CB45" stroke-width="1.5" stroke-linecap="butt"/>
<polygon points="220,112.8 238.7,39.4 283.2,98.3" fill="#5A92DF" fill-opacity="0.30" stroke="#E6F0FA" stroke-opacity="0.5" stroke-width="0.8" stroke-linejoin="round"/>
<path d="M385.3 308.9L386 324.8" stroke="#E9A31A" stroke-width="5.2"/>
<path d="M385.3 308.9L386 324.8" stroke="#F6CB45" stroke-width="1.5" stroke-linecap="butt"/>
<path d="M385.3 286.2L386 274.4" stroke="#E9A31A" stroke-width="5.2"/>
<path d="M385.3 286.2L386 274.4" stroke="#F6CB45" stroke-width="1.5" stroke-linecap="butt"/>
<path d="M435.9 213.3L432 201.9" stroke="#E9A31A" stroke-width="5.2"/>
<path d="M435.9 213.3L432 201.9" stroke="#F6CB45" stroke-width="1.5" stroke-linecap="butt"/>
<path d="M432.6 390.3L428.5 404.1" stroke="#050505" stroke-width="4.4" stroke-linecap="butt"/>
<path d="M224.9 96.2L220.9 110" stroke="#050505" stroke-width="4.4" stroke-linecap="butt"/>
<path d="M281.5 137.2L282.2 120.2" stroke="#E9A31A" stroke-width="5.2"/>
<path d="M281.5 137.2L282.2 120.2" stroke="#F6CB45" stroke-width="1.5" stroke-linecap="butt"/>
<polygon points="323.9,333.3 323,260.5 283.2,271.6" fill="#5A92DF" fill-opacity="0.30" stroke="#E6F0FA" stroke-opacity="0.5" stroke-width="0.8" stroke-linejoin="round"/>
<polygon points="323.9,39.5 342.6,113 283.2,98.3" fill="#5A92DF" fill-opacity="0.30" stroke="#E6F0FA" stroke-opacity="0.5" stroke-width="0.8" stroke-linejoin="round"/>
<path d="M443.1 348.8L445.8 336.1" stroke="#050505" stroke-width="4.4" stroke-linecap="butt"/>
<path d="M235.5 54.8L238.2 42" stroke="#050505" stroke-width="4.4" stroke-linecap="butt"/>
<polygon points="427.7,113.1 342.6,113 387,171.9" fill="#5A92DF" fill-opacity="0.30" stroke="#E6F0FA" stroke-opacity="0.5" stroke-width="0.8" stroke-linejoin="round"/>
<path d="M402.8 76.1L420.8 75.6" stroke="#5FC43A" stroke-width="1.9"/>
<polygon points="323.9,39.5 342.6,113 387,51.4" fill="#5A92DF" fill-opacity="0.30" stroke="#E6F0FA" stroke-opacity="0.5" stroke-width="0.8" stroke-linejoin="round"/>
<path d="M385.3 155.6L386 162.4" stroke="#86ABE8" stroke-width="4.4"/>
<circle cx="220" cy="406.6" r="8.4" fill="#060606"/>
<path d="M264.3 369.7L280.9 370.3" stroke="#5FC43A" stroke-width="1.9"/>
<path d="M339.3 96.4L342 110.2" stroke="#050505" stroke-width="4.4" stroke-linecap="butt"/>
<path d="M328.7 54.9L324.7 42.1" stroke="#050505" stroke-width="4.4" stroke-linecap="butt"/>
<polygon points="237.9,260.4 323,260.5 283.2,271.6" fill="#5A92DF" fill-opacity="0.30" stroke="#E6F0FA" stroke-opacity="0.5" stroke-width="0.8" stroke-linejoin="round"/>
<polygon points="427.7,113.1 446.4,39.7 387,51.4" fill="#5A92DF" fill-opacity="0.30" stroke="#E6F0FA" stroke-opacity="0.5" stroke-width="0.8" stroke-linejoin="round"/>
<path d="M257.1 317.4L241.8 330.5" stroke="#050505" stroke-width="4.4" stroke-linecap="butt"/>
<polygon points="341.7,187.1 342.6,113 387,171.9" fill="#5A92DF" fill-opacity="0.30" stroke="#E6F0FA" stroke-opacity="0.5" stroke-width="0.8" stroke-linejoin="round"/>
<polygon points="427.7,113.1 446.4,39.7 490.8,98.6" fill="#5A92DF" fill-opacity="0.30" stroke="#E6F0FA" stroke-opacity="0.5" stroke-width="0.8" stroke-linejoin="round"/>
<circle cx="238.7" cy="333.2" r="8.4" fill="#060606"/>
<path d="M432.6 96.5L428.5 110.3" stroke="#050505" stroke-width="4.4" stroke-linecap="butt"/>
<polygon points="427.7,113.1 426.9,187.2 387,171.9" fill="#5A92DF" fill-opacity="0.30" stroke="#E6F0FA" stroke-opacity="0.5" stroke-width="0.8" stroke-linejoin="round"/>
<circle cx="342.6" cy="406.8" r="8.4" fill="#060606"/>
<path d="M305.2 317.4L320.7 330.6" stroke="#050505" stroke-width="4.4" stroke-linecap="butt"/>
<path d="M384.7 370.4L402.8 369.9" stroke="#5FC43A" stroke-width="1.9"/>
<path d="M235.1 243.9L237.5 258.1" stroke="#050505" stroke-width="5.2" stroke-linecap="butt"/>
<path d="M349.6 317.9L327.4 331.2" stroke="#050505" stroke-width="5.2" stroke-linecap="butt"/>
<path d="M270.1 306.1L257.1 317.4" stroke="#86ABE8" stroke-width="4.4"/>
<circle cx="323.9" cy="333.3" r="8.4" fill="#060606"/>
<path d="M443.1 55.1L445.8 42.3" stroke="#050505" stroke-width="4.4" stroke-linecap="butt"/>
<path d="M224.3 201.6L219.9 188.9" stroke="#050505" stroke-width="5.2" stroke-linecap="butt"/>
<path d="M291.8 306.1L305.2 317.4" stroke="#86ABE8" stroke-width="4.4"/>
<path d="M245.8 128.6L223.6 115" stroke="#050505" stroke-width="5.2" stroke-linecap="butt"/>
<circle cx="427.7" cy="406.9" r="8.4" fill="#060606"/>
<polygon points="341.7,187.1 426.9,187.2 387,171.9" fill="#5A92DF" fill-opacity="0.30" stroke="#E6F0FA" stroke-opacity="0.5" stroke-width="0.8" stroke-linejoin="round"/>
<circle cx="220" cy="112.8" r="8.4" fill="#060606"/>
<path d="M328.1 244.1L323.7 258.2" stroke="#050505" stroke-width="5.2" stroke-linecap="butt"/>
<path d="M264.3 75.9L280.9 76.5" stroke="#5FC43A" stroke-width="1.9"/>
<path d="M420.2 318L442.8 331.4" stroke="#050505" stroke-width="5.2" stroke-linecap="butt"/>
<path d="M369.6 306L349.6 317.9" stroke="#E9A31A" stroke-width="5.2"/>
<path d="M369.6 306L349.6 317.9" stroke="#F6CB45" stroke-width="1.5" stroke-linecap="butt"/>
<path d="M265.8 140.8L245.8 128.6" stroke="#E9A31A" stroke-width="5.2"/>
<circle cx="446.4" cy="333.5" r="8.4" fill="#060606"/>
<path d="M265.8 140.8L245.8 128.6" stroke="#F6CB45" stroke-width="1.5" stroke-linecap="butt"/>
<path d="M338.9 201.8L341.3 189.1" stroke="#050505" stroke-width="5.2" stroke-linecap="butt"/>
<path d="M316.4 128.7L339 115.2" stroke="#050505" stroke-width="5.2" stroke-linecap="butt"/>
<circle cx="238.7" cy="39.4" r="8.4" fill="#060606"/>
<path d="M400 306L420.2 318" stroke="#E9A31A" stroke-width="5.2"/>
<path d="M400 306L420.2 318" stroke="#F6CB45" stroke-width="1.5" stroke-linecap="butt"/>
<path d="M360.9 129.1L345.7 115.7" stroke="#050505" stroke-width="4.4" stroke-linecap="butt"/>
<path d="M296.2 140.8L316.4 128.7" stroke="#E9A31A" stroke-width="5.2"/>
<path d="M296.2 140.8L316.4 128.7" stroke="#F6CB45" stroke-width="1.5" stroke-linecap="butt"/>
<path d="M442.7 244.2L445.2 258.4" stroke="#050505" stroke-width="5.2" stroke-linecap="butt"/>
<circle cx="342.6" cy="113" r="8.4" fill="#060606"/>
<path d="M269.9 287.5L256.6 276.2" stroke="#86ABE8" stroke-width="4.4"/>
<path d="M384.7 76.7L402.8 76.1" stroke="#5FC43A" stroke-width="1.9"/>
<path d="M432 201.9L427.6 189.2" stroke="#050505" stroke-width="5.2" stroke-linecap="butt"/>
<path d="M337.5 392.1L341.9 404.7" stroke="#050505" stroke-width="5.2" stroke-linecap="butt"/>
<path d="M409 129.2L424.5 115.8" stroke="#050505" stroke-width="4.4" stroke-linecap="butt"/>
<circle cx="323.9" cy="39.5" r="8.4" fill="#060606"/>
<path d="M291.6 287.6L304.7 276.3" stroke="#86ABE8" stroke-width="4.4"/>
<path d="M374 140.6L360.9 129.1" stroke="#86ABE8" stroke-width="4.4"/>
<path d="M326.7 349.7L324.3 335.6" stroke="#050505" stroke-width="5.2" stroke-linecap="butt"/>
<path d="M256.6 276.2L241.1 263" stroke="#050505" stroke-width="4.4" stroke-linecap="butt"/>
<path d="M280.9 370.3L297.4 370.9" stroke="#5FC43A" stroke-width="1.9"/>
<path d="M395.7 140.7L409 129.2" stroke="#86ABE8" stroke-width="4.4"/>
<circle cx="427.7" cy="113.1" r="8.4" fill="#060606"/>
<circle cx="280.9" cy="296.8" r="15.8" fill="url(#gB)"/>
<path d="M265.6 159.1L245.4 171.2" stroke="#E9A31A" stroke-width="5.2"/>
<path d="M265.6 159.1L245.4 171.2" stroke="#F6CB45" stroke-width="1.5" stroke-linecap="butt"/>
<path d="M369.4 287.9L349.2 275.9" stroke="#E9A31A" stroke-width="5.2"/>
<path d="M369.4 287.9L349.2 275.9" stroke="#F6CB45" stroke-width="1.5" stroke-linecap="butt"/>
<path d="M245.4 171.2L222.8 184.7" stroke="#050505" stroke-width="5.2" stroke-linecap="butt"/>
<path d="M304.7 276.3L319.9 263.2" stroke="#050505" stroke-width="4.4" stroke-linecap="butt"/>
<path d="M296 159.1L316 171.3" stroke="#E9A31A" stroke-width="5.2"/>
<path d="M296 159.1L316 171.3" stroke="#F6CB45" stroke-width="1.5" stroke-linecap="butt"/>
<path d="M399.8 288L419.8 276" stroke="#E9A31A" stroke-width="5.2"/>
<path d="M399.8 288L419.8 276" stroke="#F6CB45" stroke-width="1.5" stroke-linecap="butt"/>
<circle cx="446.4" cy="39.7" r="8.4" fill="#060606"/>
<polygon points="323.9,333.3 238.7,333.2 278.6,322.1" fill="#5A92DF" fill-opacity="0.30" stroke="#E6F0FA" stroke-opacity="0.5" stroke-width="0.8" stroke-linejoin="round"/>
<path d="M366.7 371L384.7 370.4" stroke="#5FC43A" stroke-width="1.9"/>
<path d="M349.2 275.9L326.6 262.6" stroke="#050505" stroke-width="5.2" stroke-linecap="butt"/>
<path d="M373.8 159.5L360.4 171" stroke="#86ABE8" stroke-width="4.4"/>
<circle cx="237.9" cy="260.4" r="8.4" fill="#060606"/>
<path d="M316 171.3L338.2 184.9" stroke="#050505" stroke-width="5.2" stroke-linecap="butt"/>
<circle cx="384.7" cy="297" r="19.4" fill="url(#gA)" stroke="#B5600F" stroke-width="0.9"/>
<path d="M395.5 159.6L408.5 171" stroke="#86ABE8" stroke-width="4.4"/>
<circle cx="280.9" cy="149.9" r="19.4" fill="url(#gA)" stroke="#B5600F" stroke-width="0.9"/>
<path d="M360.4 171L344.9 184.3" stroke="#050505" stroke-width="4.4" stroke-linecap="butt"/>
<circle cx="219.2" cy="186.9" r="8.4" fill="#060606"/>
<path d="M337.5 98.3L341.9 111" stroke="#050505" stroke-width="5.2" stroke-linecap="butt"/>
<path d="M419.8 276L442 262.8" stroke="#050505" stroke-width="5.2" stroke-linecap="butt"/>
<path d="M326.7 56L324.3 41.8" stroke="#050505" stroke-width="5.2" stroke-linecap="butt"/>
<polygon points="237.9,260.4 238.7,333.2 278.6,322.1" fill="#5A92DF" fill-opacity="0.30" stroke="#E6F0FA" stroke-opacity="0.5" stroke-width="0.8" stroke-linejoin="round"/>
<circle cx="323" cy="260.5" r="8.4" fill="#060606"/>
<path d="M280.9 76.5L297.4 77.1" stroke="#5FC43A" stroke-width="1.9"/>
<circle cx="384.7" cy="150.1" r="15.8" fill="url(#gB)"/>
<path d="M408.5 171L423.8 184.5" stroke="#050505" stroke-width="4.4" stroke-linecap="butt"/>
<polygon points="323.9,333.3 323,260.5 278.6,322.1" fill="#5A92DF" fill-opacity="0.30" stroke="#E6F0FA" stroke-opacity="0.5" stroke-width="0.8" stroke-linejoin="round"/>
<circle cx="341.7" cy="187.1" r="8.4" fill="#060606"/>
<path d="M366.7 77.2L384.7 76.7" stroke="#5FC43A" stroke-width="1.9"/>
<path d="M280.3 303.3L279.6 311.1" stroke="#86ABE8" stroke-width="4.4"/>
<circle cx="445.6" cy="260.7" r="8.4" fill="#060606"/>
<polygon points="427.7,113.1 342.6,113 382.4,128.3" fill="#5A92DF" fill-opacity="0.30" stroke="#E6F0FA" stroke-opacity="0.5" stroke-width="0.8" stroke-linejoin="round"/>
<circle cx="426.9" cy="187.2" r="8.4" fill="#060606"/>
<path d="M326.3 245.1L323.6 257.9" stroke="#050505" stroke-width="4.4" stroke-linecap="butt"/>
<polygon points="237.9,260.4 323,260.5 278.6,322.1" fill="#5A92DF" fill-opacity="0.30" stroke="#E6F0FA" stroke-opacity="0.5" stroke-width="0.8" stroke-linejoin="round"/>
<path d="M297.4 370.9L314 371.5" stroke="#5FC43A" stroke-width="1.9"/>
<path d="M280.3 162.7L279.6 179.7" stroke="#E9A31A" stroke-width="5.2"/>
<path d="M280.3 162.7L279.6 179.7" stroke="#F6CB45" stroke-width="1.5" stroke-linecap="butt"/>
<polygon points="341.7,187.1 342.6,113 382.4,128.3" fill="#5A92DF" fill-opacity="0.30" stroke="#E6F0FA" stroke-opacity="0.5" stroke-width="0.8" stroke-linejoin="round"/>
<path d="M336.9 203.7L340.9 189.9" stroke="#050505" stroke-width="4.4" stroke-linecap="butt"/>
<path d="M333.5 380.7L337.5 392.1" stroke="#E9A31A" stroke-width="5.2"/>
<path d="M333.5 380.7L337.5 392.1" stroke="#F6CB45" stroke-width="1.5" stroke-linecap="butt"/>
<path d="M384.1 307.8L383.4 319.5" stroke="#E9A31A" stroke-width="5.2"/>
<path d="M384.1 307.8L383.4 319.5" stroke="#F6CB45" stroke-width="1.5" stroke-linecap="butt"/>
<path d="M384.1 285L383.4 269.2" stroke="#E9A31A" stroke-width="5.2"/>
<path d="M384.1 285L383.4 269.2" stroke="#F6CB45" stroke-width="1.5" stroke-linecap="butt"/>
<path d="M328.9 362.5L326.7 349.7" stroke="#E9A31A" stroke-width="5.2"/>
<path d="M328.9 362.5L326.7 349.7" stroke="#F6CB45" stroke-width="1.5" stroke-linecap="butt"/>
<path d="M348.6 371.5L366.7 371" stroke="#5FC43A" stroke-width="1.9"/>
<path d="M280.3 140.1L279.6 129.4" stroke="#E9A31A" stroke-width="5.2"/>
<path d="M280.3 140.1L279.6 129.4" stroke="#F6CB45" stroke-width="1.5" stroke-linecap="butt"/>
<polygon points="341.7,187.1 323,260.5 278.6,201.6" fill="#5A92DF" fill-opacity="0.30" stroke="#E6F0FA" stroke-opacity="0.5" stroke-width="0.8" stroke-linejoin="round"/>
<polygon points="427.7,113.1 426.9,187.2 382.4,128.3" fill="#5A92DF" fill-opacity="0.30" stroke="#E6F0FA" stroke-opacity="0.5" stroke-width="0.8" stroke-linejoin="round"/>
<polygon points="341.7,187.1 323,260.5 382.4,248.8" fill="#5A92DF" fill-opacity="0.30" stroke="#E6F0FA" stroke-opacity="0.5" stroke-width="0.8" stroke-linejoin="round"/>
<path d="M384.1 144.5L383.4 137.8" stroke="#86ABE8" stroke-width="4.4"/>
<polygon points="341.7,187.1 426.9,187.2 382.4,128.3" fill="#5A92DF" fill-opacity="0.30" stroke="#E6F0FA" stroke-opacity="0.5" stroke-width="0.8" stroke-linejoin="round"/>
<path d="M297.4 77.1L314 77.7" stroke="#5FC43A" stroke-width="1.9"/>
<path d="M333.5 86.9L337.5 98.3" stroke="#E9A31A" stroke-width="5.2"/>
<path d="M333.5 86.9L337.5 98.3" stroke="#F6CB45" stroke-width="1.5" stroke-linecap="butt"/>
<path d="M328.9 68.7L326.7 56" stroke="#E9A31A" stroke-width="5.2"/>
<path d="M328.9 68.7L326.7 56" stroke="#F6CB45" stroke-width="1.5" stroke-linecap="butt"/>
<path d="M348.6 77.8L366.7 77.2" stroke="#5FC43A" stroke-width="1.9"/>
<path d="M279.6 311.1L278.8 320.2" stroke="#050505" stroke-width="4.4" stroke-linecap="butt"/>
<path d="M328.6 234.2L326.3 245.1" stroke="#86ABE8" stroke-width="4.4"/>
<path d="M333.4 215.5L336.9 203.7" stroke="#86ABE8" stroke-width="4.4"/>
<path d="M314 371.5L330.5 372.1" stroke="#5FC43A" stroke-width="1.9"/>
<path d="M279.6 179.7L278.8 198.6" stroke="#050505" stroke-width="5.2" stroke-linecap="butt"/>
<path d="M383.4 319.5L382.6 332.9" stroke="#050505" stroke-width="5.2" stroke-linecap="butt"/>
<path d="M330.5 372.1L348.6 371.5" stroke="#5FC43A" stroke-width="1.9"/>
<path d="M383.4 269.2L382.6 251.6" stroke="#050505" stroke-width="5.2" stroke-linecap="butt"/>
<path d="M279.6 129.4L278.8 117.3" stroke="#050505" stroke-width="5.2" stroke-linecap="butt"/>
<path d="M383.4 137.8L382.6 129.9" stroke="#050505" stroke-width="4.4" stroke-linecap="butt"/>
<path d="M300.1 393.6L282 406.3" stroke="#050505" stroke-width="5.2" stroke-linecap="butt"/>
<path d="M316 382.3L300.1 393.6" stroke="#E9A31A" stroke-width="5.2"/>
<path d="M316 382.3L300.1 393.6" stroke="#F6CB45" stroke-width="1.5" stroke-linecap="butt"/>
<path d="M300.6 343.2L281.6 325" stroke="#050505" stroke-width="5.2" stroke-linecap="butt"/>
<path d="M317.7 359.7L300.6 343.2" stroke="#E9A31A" stroke-width="5.2"/>
<path d="M317.7 359.7L300.6 343.2" stroke="#F6CB45" stroke-width="1.5" stroke-linecap="butt"/>
<path d="M343.4 384.5L360.4 400.9" stroke="#E9A31A" stroke-width="5.2"/>
<path d="M343.4 384.5L360.4 400.9" stroke="#F6CB45" stroke-width="1.5" stroke-linecap="butt"/>
<circle cx="278.6" cy="408.7" r="8.4" fill="#060606"/>
<path d="M330.5 372.1L330.5 347.6" stroke="#5FC43A" stroke-width="1.9"/>
<path d="M360.4 400.9L379.4 419.2" stroke="#050505" stroke-width="5.2" stroke-linecap="butt"/>
<path d="M314 77.7L330.5 78.3" stroke="#5FC43A" stroke-width="1.9"/>
<path d="M330.5 347.6L330.5 323.1" stroke="#5FC43A" stroke-width="1.9"/>
<path d="M330.5 78.3L348.6 77.8" stroke="#5FC43A" stroke-width="1.9"/>
<path d="M345.1 361.8L361 350.6" stroke="#E9A31A" stroke-width="5.2"/>
<path d="M345.1 361.8L361 350.6" stroke="#F6CB45" stroke-width="1.5" stroke-linecap="butt"/>
<path d="M330.5 323.1L330.5 298.6" stroke="#5FC43A" stroke-width="1.9"/>
<path d="M361 350.6L379 337.8" stroke="#050505" stroke-width="5.2" stroke-linecap="butt"/>
<path d="M330.5 298.6L330.5 274.1" stroke="#5FC43A" stroke-width="1.9"/>
<circle cx="278.6" cy="322.1" r="8.4" fill="#060606"/>
<polygon points="319.3,263.3 323,260.5 278.6,201.6" fill="#5A92DF" fill-opacity="0.30" stroke="#E6F0FA" stroke-opacity="0.5" stroke-width="0.8" stroke-linejoin="round"/>
<path d="M330.5 274.1L330.5 249.7" stroke="#5FC43A" stroke-width="1.9"/>
<path d="M301.2 211.9L282.4 203.3" stroke="#050505" stroke-width="4.4" stroke-linecap="butt"/>
<path d="M317.3 219.2L301.2 211.9" stroke="#86ABE8" stroke-width="4.4"/>
<circle cx="382.4" cy="422.1" r="8.4" fill="#060606"/>
<path d="M330.5 249.7L330.5 225.2" stroke="#5FC43A" stroke-width="1.9"/>
<polygon points="319.3,263.3 323,260.5 382.4,248.8" fill="#5A92DF" fill-opacity="0.30" stroke="#E6F0FA" stroke-opacity="0.5" stroke-width="0.8" stroke-linejoin="round"/>
<path d="M330.5 225.2L330.5 200.7" stroke="#5FC43A" stroke-width="1.9"/>
<path d="M343.8 231.2L359.9 238.5" stroke="#86ABE8" stroke-width="4.4"/>
<polygon points="341.7,187.1 338,189.9 278.6,201.6" fill="#5A92DF" fill-opacity="0.30" stroke="#E6F0FA" stroke-opacity="0.5" stroke-width="0.8" stroke-linejoin="round"/>
<path d="M359.9 238.5L378.6 247" stroke="#050505" stroke-width="4.4" stroke-linecap="butt"/>
<path d="M330.5 200.7L330.5 176.2" stroke="#5FC43A" stroke-width="1.9"/>
<polygon points="341.7,187.1 338,189.9 382.4,248.8" fill="#5A92DF" fill-opacity="0.30" stroke="#E6F0FA" stroke-opacity="0.5" stroke-width="0.8" stroke-linejoin="round"/>
<path d="M330.5 176.2L330.5 151.7" stroke="#5FC43A" stroke-width="1.9"/>
<path d="M300.1 99.8L282 112.5" stroke="#050505" stroke-width="5.2" stroke-linecap="butt"/>
<circle cx="278.6" cy="201.6" r="8.4" fill="#060606"/>
<circle cx="382.4" cy="335.4" r="8.4" fill="#060606"/>
<path d="M330.5 151.7L330.5 127.3" stroke="#5FC43A" stroke-width="1.9"/>
<path d="M316 88.6L300.1 99.8" stroke="#E9A31A" stroke-width="5.2"/>
<path d="M316 88.6L300.1 99.8" stroke="#F6CB45" stroke-width="1.5" stroke-linecap="butt"/>
<path d="M330.5 127.3L330.5 102.8" stroke="#5FC43A" stroke-width="1.9"/>
<circle cx="330.5" cy="372.1" r="19.4" fill="url(#gA)" stroke="#B5600F" stroke-width="0.9"/>
<path d="M300.6 49.5L281.6 31.2" stroke="#050505" stroke-width="5.2" stroke-linecap="butt"/>
<path d="M330.5 102.8L330.5 78.3" stroke="#5FC43A" stroke-width="1.9"/>
<path d="M317.7 65.9L300.6 49.5" stroke="#E9A31A" stroke-width="5.2"/>
<path d="M317.7 65.9L300.6 49.5" stroke="#F6CB45" stroke-width="1.5" stroke-linecap="butt"/>
<path d="M343.4 90.7L360.4 107.1" stroke="#E9A31A" stroke-width="5.2"/>
<path d="M343.4 90.7L360.4 107.1" stroke="#F6CB45" stroke-width="1.5" stroke-linecap="butt"/>
<circle cx="278.6" cy="114.9" r="8.4" fill="#060606"/>
<circle cx="382.4" cy="248.8" r="8.4" fill="#060606"/>
<path d="M360.4 107.1L379.4 125.4" stroke="#050505" stroke-width="5.2" stroke-linecap="butt"/>
<path d="M345.1 68L361 56.8" stroke="#E9A31A" stroke-width="5.2"/>
<path d="M345.1 68L361 56.8" stroke="#F6CB45" stroke-width="1.5" stroke-linecap="butt"/>
<circle cx="330.5" cy="225.2" r="15.8" fill="url(#gB)"/>
<path d="M361 56.8L379 44.1" stroke="#050505" stroke-width="5.2" stroke-linecap="butt"/>
<circle cx="278.6" cy="28.3" r="8.4" fill="#060606"/>
<circle cx="382.4" cy="128.3" r="8.4" fill="#060606"/>
<circle cx="382.4" cy="41.7" r="8.4" fill="#060606"/>
<circle cx="330.5" cy="78.3" r="19.4" fill="url(#gA)" stroke="#B5600F" stroke-width="0.9"/>
<path d="M327.7 234.9L324.2 246.7" stroke="#86ABE8" stroke-width="4.4"/>
<path d="M332.4 216.2L334.8 205.2" stroke="#86ABE8" stroke-width="4.4"/>
<path d="M332.2 381.7L334.4 394.4" stroke="#E9A31A" stroke-width="5.2"/>
<path d="M332.2 381.7L334.4 394.4" stroke="#F6CB45" stroke-width="1.5" stroke-linecap="butt"/>
<path d="M327.6 363.5L323.6 352.1" stroke="#E9A31A" stroke-width="5.2"/>
<path d="M327.6 363.5L323.6 352.1" stroke="#F6CB45" stroke-width="1.5" stroke-linecap="butt"/>
<polygon points="319.3,263.3 338,189.9 278.6,201.6" fill="#5A92DF" fill-opacity="0.30" stroke="#E6F0FA" stroke-opacity="0.5" stroke-width="0.8" stroke-linejoin="round"/>
<polygon points="319.3,263.3 338,189.9 382.4,248.8" fill="#5A92DF" fill-opacity="0.30" stroke="#E6F0FA" stroke-opacity="0.5" stroke-width="0.8" stroke-linejoin="round"/>
<path d="M332.2 87.9L334.4 100.6" stroke="#E9A31A" stroke-width="5.2"/>
<path d="M332.2 87.9L334.4 100.6" stroke="#F6CB45" stroke-width="1.5" stroke-linecap="butt"/>
<path d="M327.6 69.7L323.6 58.3" stroke="#E9A31A" stroke-width="5.2"/>
<path d="M327.6 69.7L323.6 58.3" stroke="#F6CB45" stroke-width="1.5" stroke-linecap="butt"/>
<path d="M324.2 246.7L320.2 260.5" stroke="#050505" stroke-width="4.4" stroke-linecap="butt"/>
<path d="M334.8 205.2L337.5 192.5" stroke="#050505" stroke-width="4.4" stroke-linecap="butt"/>
<path d="M334.4 394.4L336.8 408.6" stroke="#050505" stroke-width="5.2" stroke-linecap="butt"/>
<path d="M323.6 352.1L319.2 339.4" stroke="#050505" stroke-width="5.2" stroke-linecap="butt"/>
<circle cx="319.3" cy="263.3" r="8.4" fill="#060606"/>
<circle cx="338" cy="189.9" r="8.4" fill="#060606"/>
<path d="M334.4 100.6L336.8 114.8" stroke="#050505" stroke-width="5.2" stroke-linecap="butt"/>
<path d="M323.6 58.3L319.2 45.6" stroke="#050505" stroke-width="5.2" stroke-linecap="butt"/>
<circle cx="337.2" cy="410.8" r="8.4" fill="#060606"/>
<circle cx="318.5" cy="337.4" r="8.4" fill="#060606"/>
<circle cx="337.2" cy="117.1" r="8.4" fill="#060606"/>
<circle cx="318.5" cy="43.6" r="8.4" fill="#060606"/>
</g>
<text x="3.4" y="41.8" font-family='"Liberation Sans","DejaVu Sans",sans-serif' font-size="29" fill="#111">(a)</text>
<g id="panel-b">
<path d="M130 501.19 L133.01 501.17 L136.03 501.14 L139.04 501.08 L142.05 501 L145.06 500.9 L148.08 500.78 L151.09 500.64 L154.1 500.49 L157.12 500.32 L160.13 500.14 L163.14 499.95 L166.15 499.74 L169.17 499.53 L172.18 499.31 L175.19 499.08 L178.21 498.84 L181.22 498.6 L184.23 498.36 L187.24 498.11 L190.26 497.87 L193.27 497.62 L196.28 497.38 L199.29 497.14 L202.31 496.9 L205.32 496.67 L208.33 496.45 L211.35 496.24 L214.36 496.03 L217.37 495.84 L220.38 495.66 L223.4 495.49 L226.41 495.34 L229.42 495.2 L232.44 495.08 L235.45 494.98 L238.46 494.9 L241.47 494.84 L244.49 494.81 L247.5 494.79 M130 501.19 L133.01 501.18 L136.03 501.17 L139.04 501.14 L142.05 501.11 L145.06 501.06 L148.08 501.01 L151.09 500.95 L154.1 500.89 L157.12 500.81 L160.13 500.74 L163.14 500.65 L166.15 500.56 L169.17 500.47 L172.18 500.37 L175.19 500.27 L178.21 500.17 L181.22 500.07 L184.23 499.96 L187.24 499.86 L190.26 499.75 L193.27 499.65 L196.28 499.54 L199.29 499.44 L202.31 499.33 L205.32 499.24 L208.33 499.14 L211.35 499.05 L214.36 498.96 L217.37 498.87 L220.38 498.8 L223.4 498.72 L226.41 498.66 L229.42 498.6 L232.44 498.55 L235.45 498.5 L238.46 498.47 L241.47 498.44 L244.49 498.43 L247.5 498.42 M130 520.54 L133.01 520.54 L136.03 520.54 L139.04 520.54 L142.05 520.54 L145.06 520.54 L148.08 520.54 L151.09 520.54 L154.1 520.54 L157.12 520.54 L160.13 520.54 L163.14 520.54 L166.15 520.54 L169.17 520.54 L172.18 520.54 L175.19 520.54 L178.21 520.54 L181.22 520.54 L184.23 520.54 L187.24 520.54 L190.26 520.54 L193.27 520.54 L196.28 520.54 L199.29 520.54 L202.31 520.54 L205.32 520.54 L208.33 520.54 L211.35 520.54 L214.36 520.54 L217.37 520.54 L220.38 520.54 L223.4 520.54 L226.41 520.54 L229.42 520.54 L232.44 520.54 L235.45 520.54 L238.46 520.54 L241.47 520.54 L244.49 520.54 L247.5 520.54 M130 520.54 L133.01 520.58 L136.03 520.67 L139.04 520.83 L142.05 521.05 L145.06 521.31 L148.08 521.61 L151.09 521.96 L154.1 522.34 L157.12 522.74 L160.13 523.17 L163.14 523.61 L166.15 524.06 L169.17 524.52 L172.18 524.98 L175.19 525.44 L178.21 525.88 L181.22 526.31 L184.23 526.72 L187.24 527.1 L190.26 527.46 L193.27 527.84 L196.28 528.26 L199.29 528.69 L202.31 529.15 L205.32 529.61 L208.33 530.08 L211.35 530.55 L214.36 531.02 L217.37 531.48 L220.38 531.92 L223.4 532.33 L226.41 532.72 L229.42 533.08 L232.44 533.4 L235.45 533.67 L238.46 533.89 L241.47 534.05 L244.49 534.16 L247.5 534.19 M130 558.9 L133.01 558.86 L136.03 558.72 L139.04 558.51 L142.05 558.23 L145.06 557.88 L148.08 557.47 L151.09 557.01 L154.1 556.51 L157.12 555.97 L160.13 555.39 L163.14 554.8 L166.15 554.18 L169.17 553.56 L172.18 552.93 L175.19 552.31 L178.21 551.7 L181.22 551.1 L184.23 550.54 L187.24 550 L190.26 549.49 L193.27 548.93 L196.28 548.33 L199.29 547.69 L202.31 547.01 L205.32 546.32 L208.33 545.62 L211.35 544.91 L214.36 544.2 L217.37 543.51 L220.38 542.85 L223.4 542.21 L226.41 541.62 L229.42 541.08 L232.44 540.6 L235.45 540.18 L238.46 539.84 L241.47 539.59 L244.49 539.43 L247.5 539.38 M130 558.9 L133.01 558.9 L136.03 558.9 L139.04 558.9 L142.05 558.89 L145.06 558.89 L148.08 558.88 L151.09 558.87 L154.1 558.86 L157.12 558.86 L160.13 558.85 L163.14 558.84 L166.15 558.82 L169.17 558.81 L172.18 558.8 L175.19 558.79 L178.21 558.78 L181.22 558.76 L184.23 558.75 L187.24 558.74 L190.26 558.72 L193.27 558.71 L196.28 558.7 L199.29 558.68 L202.31 558.67 L205.32 558.66 L208.33 558.65 L211.35 558.63 L214.36 558.62 L217.37 558.61 L220.38 558.6 L223.4 558.59 L226.41 558.59 L229.42 558.58 L232.44 558.57 L235.45 558.57 L238.46 558.56 L241.47 558.56 L244.49 558.56 L247.5 558.56 M130 591.56 L133.01 591.53 L136.03 591.43 L139.04 591.28 L142.05 591.08 L145.06 590.83 L148.08 590.54 L151.09 590.21 L154.1 589.85 L157.12 589.47 L160.13 589.06 L163.14 588.64 L166.15 588.21 L169.17 587.77 L172.18 587.34 L175.19 586.91 L178.21 586.48 L181.22 586.08 L184.23 585.69 L187.24 585.34 L190.26 585 L193.27 584.64 L196.28 584.26 L199.29 583.85 L202.31 583.43 L205.32 583 L208.33 582.56 L211.35 582.13 L214.36 581.7 L217.37 581.27 L220.38 580.87 L223.4 580.49 L226.41 580.13 L229.42 579.8 L232.44 579.51 L235.45 579.26 L238.46 579.05 L241.47 578.9 L244.49 578.81 L247.5 578.77 M130 591.56 L133.01 591.56 L136.03 591.57 L139.04 591.57 L142.05 591.58 L145.06 591.58 L148.08 591.59 L151.09 591.61 L154.1 591.62 L157.12 591.63 L160.13 591.65 L163.14 591.66 L166.15 591.68 L169.17 591.7 L172.18 591.71 L175.19 591.73 L178.21 591.75 L181.22 591.77 L184.23 591.79 L187.24 591.81 L190.26 591.83 L193.27 591.85 L196.28 591.87 L199.29 591.89 L202.31 591.91 L205.32 591.93 L208.33 591.95 L211.35 591.96 L214.36 591.98 L217.37 592 L220.38 592.01 L223.4 592.02 L226.41 592.04 L229.42 592.05 L232.44 592.06 L235.45 592.06 L238.46 592.07 L241.47 592.08 L244.49 592.08 L247.5 592.08 M130 607.98 L133.01 607.95 L136.03 607.86 L139.04 607.72 L142.05 607.54 L145.06 607.33 L148.08 607.08 L151.09 606.81 L154.1 606.52 L157.12 606.22 L160.13 605.91 L163.14 605.61 L166.15 605.31 L169.17 605.03 L172.18 604.77 L175.19 604.54 L178.21 604.34 L181.22 604.18 L184.23 604.07 L187.24 604.01 L190.26 604.01 L193.27 604.11 L196.28 604.28 L199.29 604.52 L202.31 604.82 L205.32 605.18 L208.33 605.57 L211.35 606 L214.36 606.45 L217.37 606.91 L220.38 607.38 L223.4 607.83 L226.41 608.27 L229.42 608.69 L232.44 609.06 L235.45 609.39 L238.46 609.67 L241.47 609.87 L244.49 610.01 L247.5 610.05 M130 607.98 L133.01 607.98 L136.03 607.99 L139.04 608.01 L142.05 608.04 L145.06 608.07 L148.08 608.11 L151.09 608.15 L154.1 608.2 L157.12 608.26 L160.13 608.32 L163.14 608.38 L166.15 608.45 L169.17 608.52 L172.18 608.59 L175.19 608.66 L178.21 608.74 L181.22 608.82 L184.23 608.9 L187.24 608.97 L190.26 609.05 L193.27 609.13 L196.28 609.21 L199.29 609.29 L202.31 609.37 L205.32 609.44 L208.33 609.51 L211.35 609.58 L214.36 609.65 L217.37 609.71 L220.38 609.77 L223.4 609.83 L226.41 609.87 L229.42 609.92 L232.44 609.96 L235.45 609.99 L238.46 610.02 L241.47 610.04 L244.49 610.05 L247.5 610.05 M130 622.32 L133.01 622.33 L136.03 622.35 L139.04 622.38 L142.05 622.43 L145.06 622.48 L148.08 622.55 L151.09 622.62 L154.1 622.69 L157.12 622.78 L160.13 622.86 L163.14 622.95 L166.15 623.04 L169.17 623.13 L172.18 623.21 L175.19 623.3 L178.21 623.38 L181.22 623.45 L184.23 623.52 L187.24 623.57 L190.26 623.62 L193.27 623.66 L196.28 623.69 L199.29 623.7 L202.31 623.68 L205.32 623.56 L208.33 623.34 L211.35 623.04 L214.36 622.7 L217.37 622.31 L220.38 621.92 L223.4 621.53 L226.41 621.09 L229.42 620.5 L232.44 619.81 L235.45 619.09 L238.46 618.41 L241.47 617.84 L244.49 617.45 L247.5 617.31 M130 636.66 L133.01 636.66 L136.03 636.64 L139.04 636.61 L142.05 636.57 L145.06 636.52 L148.08 636.46 L151.09 636.4 L154.1 636.32 L157.12 636.24 L160.13 636.15 L163.14 636.06 L166.15 635.96 L169.17 635.86 L172.18 635.75 L175.19 635.64 L178.21 635.52 L181.22 635.4 L184.23 635.29 L187.24 635.17 L190.26 635.05 L193.27 634.93 L196.28 634.81 L199.29 634.69 L202.31 634.58 L205.32 634.47 L208.33 634.36 L211.35 634.25 L214.36 634.15 L217.37 634.06 L220.38 633.97 L223.4 633.89 L226.41 633.82 L229.42 633.75 L232.44 633.69 L235.45 633.64 L238.46 633.6 L241.47 633.58 L244.49 633.56 L247.5 633.55 M130 659.82 L133.01 659.83 L136.03 659.87 L139.04 659.93 L142.05 660.01 L145.06 660.11 L148.08 660.23 L151.09 660.36 L154.1 660.51 L157.12 660.68 L160.13 660.86 L163.14 661.06 L166.15 661.26 L169.17 661.48 L172.18 661.7 L175.19 661.93 L178.21 662.16 L181.22 662.4 L184.23 662.65 L187.24 662.89 L190.26 663.14 L193.27 663.38 L196.28 663.63 L199.29 663.87 L202.31 664.1 L205.32 664.33 L208.33 664.55 L211.35 664.77 L214.36 664.97 L217.37 665.17 L220.38 665.35 L223.4 665.51 L226.41 665.67 L229.42 665.8 L232.44 665.92 L235.45 666.02 L238.46 666.1 L241.47 666.16 L244.49 666.2 L247.5 666.21 M130 659.82 L133.01 659.84 L136.03 659.89 L139.04 659.98 L142.05 660.1 L145.06 660.25 L148.08 660.42 L151.09 660.63 L154.1 660.85 L157.12 661.1 L160.13 661.37 L163.14 661.66 L166.15 661.96 L169.17 662.28 L172.18 662.61 L175.19 662.95 L178.21 663.3 L181.22 663.66 L184.23 664.02 L187.24 664.39 L190.26 664.75 L193.27 665.12 L196.28 665.48 L199.29 665.84 L202.31 666.19 L205.32 666.53 L208.33 666.86 L211.35 667.18 L214.36 667.48 L217.37 667.77 L220.38 668.04 L223.4 668.29 L226.41 668.51 L229.42 668.72 L232.44 668.89 L235.45 669.04 L238.46 669.16 L241.47 669.25 L244.49 669.3 L247.5 669.32 M130 684.53 L133.01 684.5 L136.03 684.4 L139.04 684.26 L142.05 684.08 L145.06 683.87 L148.08 683.62 L151.09 683.25 L154.1 682.68 L157.12 681.96 L160.13 681.12 L163.14 680.17 L166.15 679.07 L169.17 677.6 L172.18 675.81 L175.19 673.76 L178.21 671.51 L181.22 669.11 L184.23 666.65 L187.24 664.16 L190.26 661.63 L193.27 658.72 L196.28 655.57 L199.29 652.46 L202.31 649.63 L205.32 647.27 L208.33 645.07 L211.35 643 L214.36 641.12 L217.37 639.52 L220.38 638.25 L223.4 637.23 L226.41 636.32 L229.42 635.53 L232.44 634.9 L235.45 634.45 L238.46 634.12 L241.47 633.83 L244.49 633.63 L247.5 633.55 M130 684.53 L133.01 684.49 L136.03 684.37 L139.04 684.18 L142.05 683.93 L145.06 683.63 L148.08 683.28 L151.09 682.89 L154.1 682.47 L157.12 682.04 L160.13 681.58 L163.14 681.13 L166.15 680.67 L169.17 680.23 L172.18 679.8 L175.19 679.4 L178.21 679.03 L181.22 678.71 L184.23 678.43 L187.24 678.22 L190.26 678.06 L193.27 677.91 L196.28 677.76 L199.29 677.62 L202.31 677.48 L205.32 677.34 L208.33 677.21 L211.35 677.08 L214.36 676.96 L217.37 676.85 L220.38 676.74 L223.4 676.64 L226.41 676.55 L229.42 676.47 L232.44 676.4 L235.45 676.34 L238.46 676.3 L241.47 676.26 L244.49 676.24 L247.5 676.23 M130 684.53 L133.01 684.55 L136.03 684.6 L139.04 684.68 L142.05 684.78 L145.06 684.9 L148.08 685.04 L151.09 685.19 L154.1 685.35 L157.12 685.51 L160.13 685.68 L163.14 685.83 L166.15 685.98 L169.17 686.11 L172.18 686.23 L175.19 686.32 L178.21 686.39 L181.22 686.42 L184.23 686.42 L187.24 686.37 L190.26 686.27 L193.27 686.13 L196.28 685.95 L199.29 685.73 L202.31 685.49 L205.32 685.23 L208.33 684.95 L211.35 684.65 L214.36 684.35 L217.37 684.05 L220.38 683.75 L223.4 683.46 L226.41 683.19 L229.42 682.93 L232.44 682.7 L235.45 682.5 L238.46 682.34 L241.47 682.21 L244.49 682.14 L247.5 682.11 M130 691.79 L133.01 691.81 L136.03 691.86 L139.04 691.96 L142.05 692.08 L145.06 692.23 L148.08 692.4 L151.09 692.59 L154.1 692.79 L157.12 693.01 L160.13 693.23 L163.14 693.45 L166.15 693.67 L169.17 693.89 L172.18 694.1 L175.19 694.29 L178.21 694.47 L181.22 694.62 L184.23 694.75 L187.24 694.86 L190.26 694.93 L193.27 695 L196.28 695.07 L199.29 695.13 L202.31 695.2 L205.32 695.26 L208.33 695.32 L211.35 695.38 L214.36 695.43 L217.37 695.48 L220.38 695.53 L223.4 695.58 L226.41 695.62 L229.42 695.65 L232.44 695.68 L235.45 695.71 L238.46 695.73 L241.47 695.75 L244.49 695.76 L247.5 695.76 M130 704.57 L133.01 704.55 L136.03 704.48 L139.04 704.37 L142.05 704.23 L145.06 704.05 L148.08 703.85 L151.09 703.62 L154.1 703.36 L157.12 703.09 L160.13 702.8 L163.14 702.51 L166.15 702.2 L169.17 701.9 L172.18 701.59 L175.19 701.29 L178.21 700.99 L181.22 700.71 L184.23 700.44 L187.24 700.2 L190.26 699.96 L193.27 699.72 L196.28 699.46 L199.29 699.18 L202.31 698.89 L205.32 698.6 L208.33 698.31 L211.35 698.01 L214.36 697.72 L217.37 697.44 L220.38 697.17 L223.4 696.91 L226.41 696.67 L229.42 696.45 L232.44 696.25 L235.45 696.08 L238.46 695.95 L241.47 695.85 L244.49 695.78 L247.5 695.76 M130 704.57 L133.01 704.63 L136.03 704.78 L139.04 705.01 L142.05 705.31 L145.06 705.67 L148.08 706.08 L151.09 706.51 L154.1 706.97 L157.12 707.42 L160.13 707.87 L163.14 708.29 L166.15 708.68 L169.17 709.02 L172.18 709.3 L175.19 709.5 L178.21 709.63 L181.22 709.73 L184.23 709.83 L187.24 709.92 L190.26 710.02 L193.27 710.11 L196.28 710.19 L199.29 710.27 L202.31 710.35 L205.32 710.43 L208.33 710.5 L211.35 710.56 L214.36 710.62 L217.37 710.68 L220.38 710.73 L223.4 710.78 L226.41 710.82 L229.42 710.86 L232.44 710.89 L235.45 710.92 L238.46 710.94 L241.47 710.95 L244.49 710.96 L247.5 710.97 M130 713.56 L133.01 713.64 L136.03 713.85 L139.04 714.18 L142.05 714.59 L145.06 715.05 L148.08 715.53 L151.09 716.01 L154.1 716.46 L157.12 716.85 L160.13 717.14 L163.14 717.32 L166.15 717.35 L169.17 717.16 L172.18 716.77 L175.19 716.2 L178.21 715.49 L181.22 714.67 L184.23 713.76 L187.24 712.81 L190.26 711.83 L193.27 710.87 L196.28 709.96 L199.29 708.89 L202.31 707.64 L205.32 706.27 L208.33 704.87 L211.35 703.53 L214.36 702.31 L217.37 701.32 L220.38 700.61 L223.4 700.11 L226.41 699.62 L229.42 699.16 L232.44 698.75 L235.45 698.38 L238.46 698.08 L241.47 697.86 L244.49 697.71 L247.5 697.66 M130 713.56 L133.01 713.57 L136.03 713.6 L139.04 713.65 L142.05 713.72 L145.06 713.8 L148.08 713.9 L151.09 714.01 L154.1 714.14 L157.12 714.28 L160.13 714.43 L163.14 714.6 L166.15 714.77 L169.17 714.95 L172.18 715.13 L175.19 715.33 L178.21 715.52 L181.22 715.72 L184.23 715.93 L187.24 716.13 L190.26 716.34 L193.27 716.55 L196.28 716.75 L199.29 716.95 L202.31 717.15 L205.32 717.34 L208.33 717.53 L211.35 717.71 L214.36 717.88 L217.37 718.04 L220.38 718.19 L223.4 718.33 L226.41 718.46 L229.42 718.57 L232.44 718.67 L235.45 718.76 L238.46 718.82 L241.47 718.87 L244.49 718.9 L247.5 718.92 M130 727.56 L133.01 727.57 L136.03 727.6 L139.04 727.66 L142.05 727.74 L145.06 727.84 L148.08 727.95 L151.09 728.08 L154.1 728.22 L157.12 728.36 L160.13 728.52 L163.14 728.68 L166.15 728.85 L169.17 729.02 L172.18 729.19 L175.19 729.36 L178.21 729.52 L181.22 729.72 L184.23 729.95 L187.24 730.22 L190.26 730.51 L193.27 730.82 L196.28 731.15 L199.29 731.49 L202.31 731.85 L205.32 732.21 L208.33 732.57 L211.35 732.94 L214.36 733.29 L217.37 733.64 L220.38 733.97 L223.4 734.29 L226.41 734.58 L229.42 734.85 L232.44 735.08 L235.45 735.29 L238.46 735.45 L241.47 735.57 L244.49 735.65 L247.5 735.68 M130 742.07 L133.01 742.03 L136.03 741.91 L139.04 741.72 L142.05 741.47 L145.06 741.15 L148.08 740.77 L151.09 740.35 L154.1 739.88 L157.12 739.37 L160.13 738.79 L163.14 737.66 L166.15 736.01 L169.17 734.13 L172.18 732.32 L175.19 730.88 L178.21 730.04 L181.22 729.38 L184.23 728.77 L187.24 728.22 L190.26 727.75 L193.27 727.37 L196.28 727.08 L199.29 726.9 L202.31 726.82 L205.32 726.76 L208.33 726.7 L211.35 726.65 L214.36 726.6 L217.37 726.55 L220.38 726.51 L223.4 726.48 L226.41 726.45 L229.42 726.42 L232.44 726.4 L235.45 726.38 L238.46 726.36 L241.47 726.35 L244.49 726.35 L247.5 726.35 M130 754.86 L133.01 754.69 L136.03 754.23 L139.04 753.51 L142.05 752.58 L145.06 751.5 L148.08 750.32 L151.09 748.68 L154.1 745.99 L157.12 742.71 L160.13 739.35 L163.14 736.42 L166.15 734.11 L169.17 731.85 L172.18 729.83 L175.19 728.3 L178.21 727.45 L181.22 726.81 L184.23 726.24 L187.24 725.75 L190.26 725.34 L193.27 725.02 L196.28 724.78 L199.29 724.64 L202.31 724.59 L205.32 724.55 L208.33 724.51 L211.35 724.47 L214.36 724.44 L217.37 724.41 L220.38 724.38 L223.4 724.36 L226.41 724.34 L229.42 724.32 L232.44 724.3 L235.45 724.29 L238.46 724.28 L241.47 724.28 L244.49 724.27 L247.5 724.27 M130 742.07 L133.01 742.07 L136.03 742.09 L139.04 742.11 L142.05 742.14 L145.06 742.17 L148.08 742.21 L151.09 742.26 L154.1 742.32 L157.12 742.37 L160.13 742.44 L163.14 742.51 L166.15 742.58 L169.17 742.65 L172.18 742.73 L175.19 742.81 L178.21 742.89 L181.22 742.98 L184.23 743.06 L187.24 743.15 L190.26 743.24 L193.27 743.32 L196.28 743.41 L199.29 743.49 L202.31 743.58 L205.32 743.66 L208.33 743.73 L211.35 743.81 L214.36 743.88 L217.37 743.95 L220.38 744.01 L223.4 744.07 L226.41 744.13 L229.42 744.17 L232.44 744.22 L235.45 744.25 L238.46 744.28 L241.47 744.3 L244.49 744.31 L247.5 744.32 M130 746.04 L133.01 746.04 L136.03 746.04 L139.04 746.03 L142.05 746.02 L145.06 746.01 L148.08 745.99 L151.09 745.97 L154.1 745.95 L157.12 745.93 L160.13 745.9 L163.14 745.88 L166.15 745.85 L169.17 745.82 L172.18 745.79 L175.19 745.76 L178.21 745.73 L181.22 745.7 L184.23 745.66 L187.24 745.63 L190.26 745.6 L193.27 745.56 L196.28 745.53 L199.29 745.5 L202.31 745.47 L205.32 745.43 L208.33 745.4 L211.35 745.38 L214.36 745.35 L217.37 745.32 L220.38 745.3 L223.4 745.27 L226.41 745.25 L229.42 745.24 L232.44 745.22 L235.45 745.21 L238.46 745.2 L241.47 745.19 L244.49 745.18 L247.5 745.18 M130 752.44 L133.01 752.44 L136.03 752.43 L139.04 752.41 L142.05 752.39 L145.06 752.36 L148.08 752.33 L151.09 752.29 L154.1 752.25 L157.12 752.2 L160.13 752.16 L163.14 752.1 L166.15 752.05 L169.17 751.99 L172.18 751.93 L175.19 751.87 L178.21 751.8 L181.22 751.74 L184.23 751.67 L187.24 751.61 L190.26 751.54 L193.27 751.47 L196.28 751.41 L199.29 751.34 L202.31 751.28 L205.32 751.22 L208.33 751.16 L211.35 751.1 L214.36 751.05 L217.37 750.99 L220.38 750.94 L223.4 750.9 L226.41 750.86 L229.42 750.82 L232.44 750.79 L235.45 750.76 L238.46 750.74 L241.47 750.72 L244.49 750.71 L247.5 750.71 M130 754.86 L133.01 754.87 L136.03 754.89 L139.04 754.94 L142.05 754.99 L145.06 755.07 L148.08 755.15 L151.09 755.25 L154.1 755.37 L157.12 755.49 L160.13 755.62 L163.14 755.76 L166.15 755.91 L169.17 756.07 L172.18 756.23 L175.19 756.4 L178.21 756.57 L181.22 756.74 L184.23 756.92 L187.24 757.1 L190.26 757.28 L193.27 757.46 L196.28 757.64 L199.29 757.81 L202.31 757.98 L205.32 758.15 L208.33 758.31 L211.35 758.47 L214.36 758.62 L217.37 758.76 L220.38 758.89 L223.4 759.01 L226.41 759.13 L229.42 759.23 L232.44 759.31 L235.45 759.39 L238.46 759.44 L241.47 759.49 L244.49 759.51 L247.5 759.52 M130 763.5 L133.01 763.5 L136.03 763.5 L139.04 763.51 L142.05 763.52 L145.06 763.54 L148.08 763.55 L151.09 763.57 L154.1 763.59 L157.12 763.61 L160.13 763.64 L163.14 763.67 L166.15 763.69 L169.17 763.72 L172.18 763.75 L175.19 763.78 L178.21 763.81 L181.22 763.85 L184.23 763.88 L187.24 763.91 L190.26 763.95 L193.27 763.98 L196.28 764.01 L199.29 764.04 L202.31 764.08 L205.32 764.11 L208.33 764.14 L211.35 764.17 L214.36 764.19 L217.37 764.22 L220.38 764.24 L223.4 764.27 L226.41 764.29 L229.42 764.31 L232.44 764.32 L235.45 764.34 L238.46 764.35 L241.47 764.36 L244.49 764.36 L247.5 764.36 M130 763.5 L133.01 763.51 L136.03 763.53 L139.04 763.56 L142.05 763.61 L145.06 763.68 L148.08 763.75 L151.09 763.84 L154.1 763.93 L157.12 764.03 L160.13 764.15 L163.14 764.27 L166.15 764.39 L169.17 764.53 L172.18 764.67 L175.19 764.81 L178.21 764.96 L181.22 765.1 L184.23 765.26 L187.24 765.41 L190.26 765.56 L193.27 765.71 L196.28 765.86 L199.29 766.01 L202.31 766.16 L205.32 766.3 L208.33 766.44 L211.35 766.57 L214.36 766.7 L217.37 766.82 L220.38 766.93 L223.4 767.04 L226.41 767.13 L229.42 767.22 L232.44 767.29 L235.45 767.36 L238.46 767.41 L241.47 767.44 L244.49 767.46 L247.5 767.47 M130 781.81 L133.01 781.81 L136.03 781.78 L139.04 781.74 L142.05 781.68 L145.06 781.6 L148.08 781.52 L151.09 781.42 L154.1 781.31 L157.12 781.18 L160.13 781.05 L163.14 780.91 L166.15 780.76 L169.17 780.6 L172.18 780.44 L175.19 780.27 L178.21 780.1 L181.22 779.93 L184.23 779.75 L187.24 779.57 L190.26 779.39 L193.27 779.21 L196.28 779.04 L199.29 778.86 L202.31 778.69 L205.32 778.52 L208.33 778.36 L211.35 778.2 L214.36 778.05 L217.37 777.91 L220.38 777.78 L223.4 777.66 L226.41 777.55 L229.42 777.45 L232.44 777.36 L235.45 777.29 L238.46 777.23 L241.47 777.18 L244.49 777.16 L247.5 777.15 M130 781.81 L133.01 781.81 L136.03 781.81 L139.04 781.81 L142.05 781.81 L145.06 781.81 L148.08 781.81 L151.09 781.81 L154.1 781.81 L157.12 781.81 L160.13 781.81 L163.14 781.81 L166.15 781.81 L169.17 781.81 L172.18 781.81 L175.19 781.81 L178.21 781.81 L181.22 781.81 L184.23 781.81 L187.24 781.81 L190.26 781.81 L193.27 781.81 L196.28 781.81 L199.29 781.81 L202.31 781.81 L205.32 781.81 L208.33 781.81 L211.35 781.81 L214.36 781.81 L217.37 781.81 L220.38 781.81 L223.4 781.81 L226.41 781.81 L229.42 781.81 L232.44 781.81 L235.45 781.81 L238.46 781.81 L241.47 781.81 L244.49 781.81 L247.5 781.81 M130 785.1 L133.01 785.1 L136.03 785.12 L139.04 785.14 L142.05 785.17 L145.06 785.21 L148.08 785.25 L151.09 785.3 L154.1 785.36 L157.12 785.42 L160.13 785.49 L163.14 785.57 L166.15 785.64 L169.17 785.72 L172.18 785.81 L175.19 785.9 L178.21 785.99 L181.22 786.08 L184.23 786.17 L187.24 786.26 L190.26 786.35 L193.27 786.45 L196.28 786.54 L199.29 786.63 L202.31 786.72 L205.32 786.81 L208.33 786.89 L211.35 786.97 L214.36 787.05 L217.37 787.12 L220.38 787.19 L223.4 787.25 L226.41 787.31 L229.42 787.36 L232.44 787.41 L235.45 787.45 L238.46 787.48 L241.47 787.5 L244.49 787.51 L247.5 787.52 M130 785.1 L133.01 785.06 L136.03 784.97 L139.04 784.81 L142.05 784.61 L145.06 784.36 L148.08 784.06 L151.09 783.73 L154.1 783.37 L157.12 782.98 L160.13 782.57 L163.14 782.15 L166.15 781.72 L169.17 781.28 L172.18 780.85 L175.19 780.42 L178.21 780 L181.22 779.6 L184.23 779.22 L187.24 778.87 L190.26 778.54 L193.27 778.19 L196.28 777.83 L199.29 777.44 L202.31 777.04 L205.32 776.63 L208.33 776.22 L211.35 775.8 L214.36 775.4 L217.37 775 L220.38 774.62 L223.4 774.26 L226.41 773.92 L229.42 773.61 L232.44 773.34 L235.45 773.11 L238.46 772.92 L241.47 772.78 L244.49 772.69 L247.5 772.66 M130 806.7 L133.01 806.64 L136.03 806.48 L139.04 806.22 L142.05 805.89 L145.06 805.47 L148.08 805 L151.09 804.48 L154.1 803.91 L157.12 803.32 L160.13 802.7 L163.14 802.08 L166.15 801.47 L169.17 800.86 L172.18 800.29 L175.19 799.74 L178.21 799.24 L181.22 798.69 L184.23 798.1 L187.24 797.49 L190.26 796.85 L193.27 796.23 L196.28 795.62 L199.29 795.05 L202.31 794.53 L205.32 794.08 L208.33 793.71 L211.35 793.45 L214.36 793.27 L217.37 793.11 L220.38 792.95 L223.4 792.81 L226.41 792.67 L229.42 792.55 L232.44 792.45 L235.45 792.35 L238.46 792.28 L241.47 792.23 L244.49 792.19 L247.5 792.18 M130 806.7 L133.01 806.7 L136.03 806.72 L139.04 806.75 L142.05 806.8 L145.06 806.85 L148.08 806.91 L151.09 806.98 L154.1 807.05 L157.12 807.13 L160.13 807.22 L163.14 807.31 L166.15 807.4 L169.17 807.49 L172.18 807.59 L175.19 807.68 L178.21 807.78 L181.22 807.87 L184.23 807.96 L187.24 808.04 L190.26 808.12 L193.27 808.21 L196.28 808.31 L199.29 808.41 L202.31 808.52 L205.32 808.64 L208.33 808.76 L211.35 808.87 L214.36 808.99 L217.37 809.11 L220.38 809.22 L223.4 809.33 L226.41 809.43 L229.42 809.52 L232.44 809.6 L235.45 809.67 L238.46 809.73 L241.47 809.77 L244.49 809.8 L247.5 809.81 M130 818.62 L133.01 818.62 L136.03 818.63 L139.04 818.64 L142.05 818.66 L145.06 818.68 L148.08 818.71 L151.09 818.74 L154.1 818.78 L157.12 818.82 L160.13 818.86 L163.14 818.9 L166.15 818.95 L169.17 819 L172.18 819.06 L175.19 819.12 L178.21 819.17 L181.22 819.24 L184.23 819.3 L187.24 819.36 L190.26 819.43 L193.27 819.49 L196.28 819.56 L199.29 819.63 L202.31 819.7 L205.32 819.81 L208.33 819.94 L211.35 820.08 L214.36 820.25 L217.37 820.43 L220.38 820.61 L223.4 820.79 L226.41 820.97 L229.42 821.14 L232.44 821.3 L235.45 821.44 L238.46 821.56 L241.47 821.65 L244.49 821.71 L247.5 821.73 M130 839.36 L133.01 839.32 L136.03 839.2 L139.04 839.03 L142.05 838.81 L145.06 838.55 L148.08 838.27 L151.09 837.76 L154.1 836.93 L157.12 835.84 L160.13 834.53 L163.14 833.06 L166.15 831.48 L169.17 829.83 L172.18 828.17 L175.19 826.54 L178.21 825 L181.22 823.6 L184.23 822.39 L187.24 821.42 L190.26 820.7 L193.27 820.02 L196.28 819.34 L199.29 818.68 L202.31 818.02 L205.32 817.39 L208.33 816.78 L211.35 816.19 L214.36 815.62 L217.37 815.09 L220.38 814.59 L223.4 814.13 L226.41 813.72 L229.42 813.34 L232.44 813.02 L235.45 812.74 L238.46 812.52 L241.47 812.36 L244.49 812.26 L247.5 812.23 M130 839.36 L133.01 839.14 L136.03 838.53 L139.04 837.57 L142.05 836.31 L145.06 834.79 L148.08 833.08 L151.09 831.21 L154.1 829.23 L157.12 827.2 L160.13 825.16 L163.14 823.16 L166.15 821.25 L169.17 819.48 L172.18 817.89 L175.19 816.53 L178.21 815.44 L181.22 814.39 L184.23 813.34 L187.24 812.31 L190.26 811.31 L193.27 810.36 L196.28 809.47 L199.29 808.65 L202.31 807.92 L205.32 807.3 L208.33 806.8 L211.35 806.43 L214.36 806.18 L217.37 805.94 L220.38 805.72 L223.4 805.51 L226.41 805.32 L229.42 805.15 L232.44 805 L235.45 804.87 L238.46 804.76 L241.47 804.69 L244.49 804.64 L247.5 804.62 M130 855.6 L133.01 854.52 L136.03 853.46 L139.04 852.43 L142.05 851.43 L145.06 850.46 L148.08 849.52 L151.09 848.62 L154.1 847.75 L157.12 846.92 L160.13 846.13 L163.14 845.38 L166.15 844.68 L169.17 843.98 L172.18 843.3 L175.19 842.62 L178.21 841.97 L181.22 841.34 L184.23 840.74 L187.24 840.18 L190.26 839.67 L193.27 839.2 L196.28 838.79 L199.29 838.44 L202.31 838.15 L205.32 837.86 L208.33 837.58 L211.35 837.31 L214.36 837.04 L217.37 836.79 L220.38 836.55 L223.4 836.33 L226.41 836.13 L229.42 835.94 L232.44 835.78 L235.45 835.64 L238.46 835.53 L241.47 835.45 L244.49 835.4 L247.5 835.38 M130 855.6 L133.01 854.12 L136.03 852.65 L139.04 851.17 L142.05 849.69 L145.06 848.22 L148.08 846.74 L151.09 845.26 L154.1 843.78 L157.12 842.31 L160.13 840.83 L163.14 839.35 L166.15 837.87 L169.17 836.32 L172.18 834.69 L175.19 833.02 L178.21 831.33 L181.22 829.65 L184.23 828.01 L187.24 826.44 L190.26 824.96 L193.27 823.61 L196.28 822.41 L199.29 821.39 L202.31 820.54 L205.32 819.7 L208.33 818.88 L211.35 818.07 L214.36 817.28 L217.37 816.53 L220.38 815.81 L223.4 815.13 L226.41 814.51 L229.42 813.95 L232.44 813.45 L235.45 813.03 L238.46 812.69 L241.47 812.44 L244.49 812.28 L247.5 812.23 M130 855.6 L133.01 853.02 L136.03 850.42 L139.04 847.81 L142.05 845.17 L145.06 842.52 L148.08 839.85 L151.09 837.16 L154.1 834.46 L157.12 831.73 L160.13 828.99 L163.14 826.17 L166.15 823.28 L169.17 820.34 L172.18 817.39 L175.19 814.44 L178.21 811.53 L181.22 808.68 L184.23 805.93 L187.24 803.3 L190.26 800.78 L193.27 798.27 L196.28 795.75 L199.29 793.27 L202.31 790.86 L205.32 788.53 L208.33 786.33 L211.35 784.29 L214.36 782.44 L217.37 780.8 L220.38 779.33 L223.4 777.82 L226.41 776.33 L229.42 774.89 L232.44 773.55 L235.45 772.35 L238.46 771.34 L241.47 770.57 L244.49 770.07 L247.5 769.89 M130 886.01 L133.01 886.01 L136.03 886.01 L139.04 886.01 L142.05 886.01 L145.06 886.01 L148.08 886.01 L151.09 886.01 L154.1 886.01 L157.12 886.01 L160.13 886.01 L163.14 886.01 L166.15 886.01 L169.17 886.01 L172.18 886.01 L175.19 886.01 L178.21 886.01 L181.22 886.01 L184.23 886.01 L187.24 886.01 L190.26 886.01 L193.27 886.01 L196.28 886.01 L199.29 886.01 L202.31 886.01 L205.32 886.01 L208.33 886.01 L211.35 886.01 L214.36 886.01 L217.37 886.01 L220.38 886.01 L223.4 886.01 L226.41 886.01 L229.42 886.01 L232.44 886.01 L235.45 886.01 L238.46 886.01 L241.47 886.01 L244.49 886.01 L247.5 886.01 M130 886.01 L133.01 885.97 L136.03 885.86 L139.04 885.69 L142.05 885.45 L145.06 885.16 L148.08 884.83 L151.09 884.46 L154.1 884.05 L157.12 883.62 L160.13 883.17 L163.14 882.71 L166.15 882.23 L169.17 881.61 L172.18 880.81 L175.19 879.88 L178.21 878.85 L181.22 877.74 L184.23 876.6 L187.24 875.45 L190.26 874.33 L193.27 873.27 L196.28 872.29 L199.29 871.45 L202.31 870.73 L205.32 870.01 L208.33 869.31 L211.35 868.62 L214.36 867.97 L217.37 867.36 L220.38 866.82 L223.4 866.34 L226.41 865.95 L229.42 865.66 L232.44 865.43 L235.45 865.22 L238.46 865.04 L241.47 864.89 L244.49 864.79 L247.5 864.76 M247.5 494.79 L250.53 494.79 L253.55 494.79 L256.57 494.78 L259.6 494.78 L262.62 494.77 L265.65 494.75 L268.68 494.74 L271.7 494.72 L274.73 494.71 L277.75 494.69 L280.77 494.66 L283.8 494.64 L286.82 494.62 L289.85 494.59 L292.88 494.56 L295.9 494.53 L298.93 494.5 L301.95 494.47 L304.98 494.44 L308 494.41 L311.02 494.37 L314.05 494.33 L317.07 494.3 L320.1 494.26 L323.12 494.22 L326.15 494.18 L329.18 494.14 L332.2 494.1 L335.23 494.06 L338.25 494.02 L341.27 493.97 L344.3 493.93 M247.5 498.42 L250.53 498.44 L253.55 498.49 L256.57 498.57 L259.6 498.67 L262.62 498.81 L265.65 498.96 L268.68 499.14 L271.7 499.34 L274.73 499.56 L277.75 499.79 L280.77 500.03 L283.8 500.28 L286.82 500.54 L289.85 500.81 L292.88 501.08 L295.9 501.36 L298.93 501.66 L301.95 502 L304.98 502.38 L308 502.81 L311.02 503.27 L314.05 503.76 L317.07 504.29 L320.1 504.85 L323.12 505.44 L326.15 506.05 L329.18 506.69 L332.2 507.35 L335.23 508.03 L338.25 508.73 L341.27 509.44 L344.3 510.17 M247.5 520.54 L250.53 520.57 L253.55 520.65 L256.57 520.77 L259.6 520.92 L262.62 521.1 L265.65 521.29 L268.68 521.49 L271.7 521.68 L274.73 521.86 L277.75 522.02 L280.77 522.15 L283.8 522.23 L286.82 522.27 L289.85 522.18 L292.88 521.89 L295.9 521.43 L298.93 520.84 L301.95 520.15 L304.98 519.41 L308 518.64 L311.02 517.88 L314.05 517.17 L317.07 516.53 L320.1 515.88 L323.12 515.21 L326.15 514.54 L329.18 513.84 L332.2 513.13 L335.23 512.41 L338.25 511.68 L341.27 510.93 L344.3 510.17 M247.5 534.19 L250.53 534.07 L253.55 533.72 L256.57 533.2 L259.6 532.57 L262.62 531.87 L265.65 531.15 L268.68 530.47 L271.7 529.87 L274.73 529.26 L277.75 528.56 L280.77 527.85 L283.8 527.21 L286.82 526.71 L289.85 526.44 L292.88 526.46 L295.9 526.73 L298.93 527.19 L301.95 527.78 L304.98 528.46 L308 529.18 L311.02 529.88 L314.05 530.51 L317.07 531.05 L320.1 531.58 L323.12 532.11 L326.15 532.64 L329.18 533.16 L332.2 533.68 L335.23 534.2 L338.25 534.72 L341.27 535.23 L344.3 535.75 M247.5 534.19 L250.53 534.19 L253.55 534.2 L256.57 534.21 L259.6 534.22 L262.62 534.24 L265.65 534.26 L268.68 534.29 L271.7 534.32 L274.73 534.35 L277.75 534.39 L280.77 534.42 L283.8 534.47 L286.82 534.51 L289.85 534.56 L292.88 534.61 L295.9 534.66 L298.93 534.71 L301.95 534.77 L304.98 534.83 L308 534.89 L311.02 534.95 L314.05 535.02 L317.07 535.09 L320.1 535.15 L323.12 535.22 L326.15 535.3 L329.18 535.37 L332.2 535.44 L335.23 535.52 L338.25 535.59 L341.27 535.67 L344.3 535.75 M247.5 539.38 L250.53 539.5 L253.55 539.82 L256.57 540.32 L259.6 540.94 L262.62 541.63 L265.65 542.35 L268.68 543.07 L271.7 543.73 L274.73 544.29 L277.75 544.72 L280.77 545.15 L283.8 545.59 L286.82 546.02 L289.85 546.41 L292.88 546.74 L295.9 546.99 L298.93 547.13 L301.95 547.15 L304.98 547.15 L308 547.14 L311.02 547.12 L314.05 547.08 L317.07 547.03 L320.1 546.95 L323.12 546.84 L326.15 546.7 L329.18 546.52 L332.2 546.3 L335.23 546.03 L338.25 545.71 L341.27 545.34 L344.3 544.91 M247.5 558.56 L250.53 558.53 L253.55 558.45 L256.57 558.32 L259.6 558.14 L262.62 557.93 L265.65 557.69 L268.68 557.43 L271.7 557.14 L274.73 556.84 L277.75 556.51 L280.77 556.03 L283.8 555.38 L286.82 554.62 L289.85 553.78 L292.88 552.9 L295.9 552.03 L298.93 551.2 L301.95 550.46 L304.98 549.85 L308 549.34 L311.02 548.85 L314.05 548.38 L317.07 547.92 L320.1 547.47 L323.12 547.05 L326.15 546.66 L329.18 546.28 L332.2 545.94 L335.23 545.63 L338.25 545.35 L341.27 545.11 L344.3 544.91 M247.5 558.56 L250.53 558.52 L253.55 558.43 L256.57 558.28 L259.6 558.1 L262.62 557.9 L265.65 557.7 L268.68 557.49 L271.7 557.31 L274.73 557.16 L277.75 557.05 L280.77 557 L283.8 557.05 L286.82 557.26 L289.85 557.59 L292.88 558.04 L295.9 558.57 L298.93 559.18 L301.95 559.83 L304.98 560.5 L308 561.18 L311.02 561.85 L314.05 562.47 L317.07 563.05 L320.1 563.64 L323.12 564.25 L326.15 564.88 L329.18 565.52 L332.2 566.17 L335.23 566.84 L338.25 567.52 L341.27 568.22 L344.3 568.92 M247.5 578.77 L250.53 578.76 L253.55 578.7 L256.57 578.61 L259.6 578.49 L262.62 578.34 L265.65 578.16 L268.68 577.97 L271.7 577.75 L274.73 577.52 L277.75 577.27 L280.77 577.01 L283.8 576.75 L286.82 576.48 L289.85 576.2 L292.88 575.93 L295.9 575.66 L298.93 575.39 L301.95 575.08 L304.98 574.76 L308 574.41 L311.02 574.05 L314.05 573.66 L317.07 573.25 L320.1 572.83 L323.12 572.39 L326.15 571.94 L329.18 571.47 L332.2 570.98 L335.23 570.48 L338.25 569.97 L341.27 569.45 L344.3 568.92 M247.5 578.77 L250.53 578.81 L253.55 578.91 L256.57 579.08 L259.6 579.29 L262.62 579.56 L265.65 579.86 L268.68 580.19 L271.7 580.55 L274.73 580.92 L277.75 581.31 L280.77 581.7 L283.8 582.08 L286.82 582.45 L289.85 582.81 L292.88 583.14 L295.9 583.44 L298.93 583.72 L301.95 584 L304.98 584.28 L308 584.55 L311.02 584.83 L314.05 585.1 L317.07 585.37 L320.1 585.64 L323.12 585.91 L326.15 586.18 L329.18 586.45 L332.2 586.71 L335.23 586.98 L338.25 587.24 L341.27 587.5 L344.3 587.76 M247.5 592.08 L250.53 592.07 L253.55 592.05 L256.57 592.01 L259.6 591.95 L262.62 591.89 L265.65 591.81 L268.68 591.72 L271.7 591.62 L274.73 591.52 L277.75 591.41 L280.77 591.3 L283.8 591.18 L286.82 591.06 L289.85 590.94 L292.88 590.82 L295.9 590.7 L298.93 590.57 L301.95 590.44 L304.98 590.3 L308 590.15 L311.02 589.99 L314.05 589.82 L317.07 589.64 L320.1 589.46 L323.12 589.27 L326.15 589.07 L329.18 588.86 L332.2 588.65 L335.23 588.44 L338.25 588.22 L341.27 587.99 L344.3 587.76 M247.5 610.05 L250.53 610.02 L253.55 609.95 L256.57 609.82 L259.6 609.66 L262.62 609.47 L265.65 609.26 L268.68 609.03 L271.7 608.78 L274.73 608.53 L277.75 608.28 L280.77 608.04 L283.8 607.82 L286.82 607.61 L289.85 607.43 L292.88 607.29 L295.9 607.18 L298.93 607.12 L301.95 607.12 L304.98 607.15 L308 607.22 L311.02 607.33 L314.05 607.47 L317.07 607.64 L320.1 607.84 L323.12 608.07 L326.15 608.33 L329.18 608.62 L332.2 608.93 L335.23 609.27 L338.25 609.62 L341.27 610 L344.3 610.4 M247.5 610.05 L250.53 610.05 L253.55 610.06 L256.57 610.06 L259.6 610.07 L262.62 610.09 L265.65 610.1 L268.68 610.12 L271.7 610.14 L274.73 610.16 L277.75 610.18 L280.77 610.21 L283.8 610.23 L286.82 610.26 L289.85 610.29 L292.88 610.33 L295.9 610.36 L298.93 610.4 L301.95 610.44 L304.98 610.48 L308 610.52 L311.02 610.56 L314.05 610.6 L317.07 610.65 L320.1 610.69 L323.12 610.74 L326.15 610.79 L329.18 610.84 L332.2 610.88 L335.23 610.93 L338.25 610.99 L341.27 611.04 L344.3 611.09 M247.5 617.31 L250.53 617.27 L253.55 617.15 L256.57 616.98 L259.6 616.77 L262.62 616.52 L265.65 616.26 L268.68 615.99 L271.7 615.74 L274.73 615.52 L277.75 615.34 L280.77 615.16 L283.8 614.99 L286.82 614.82 L289.85 614.65 L292.88 614.48 L295.9 614.31 L298.93 614.14 L301.95 613.98 L304.98 613.82 L308 613.66 L311.02 613.5 L314.05 613.35 L317.07 613.19 L320.1 613.04 L323.12 612.9 L326.15 612.75 L329.18 612.61 L332.2 612.47 L335.23 612.34 L338.25 612.21 L341.27 612.08 L344.3 611.95 M247.5 633.55 L250.53 633.55 L253.55 633.55 L256.57 633.54 L259.6 633.53 L262.62 633.52 L265.65 633.51 L268.68 633.5 L271.7 633.48 L274.73 633.46 L277.75 633.44 L280.77 633.42 L283.8 633.4 L286.82 633.38 L289.85 633.35 L292.88 633.32 L295.9 633.29 L298.93 633.26 L301.95 633.23 L304.98 633.2 L308 633.16 L311.02 633.13 L314.05 633.09 L317.07 633.06 L320.1 633.02 L323.12 632.98 L326.15 632.94 L329.18 632.9 L332.2 632.86 L335.23 632.82 L338.25 632.77 L341.27 632.73 L344.3 632.69 M247.5 666.21 L250.53 666.22 L253.55 666.23 L256.57 666.26 L259.6 666.3 L262.62 666.34 L265.65 666.4 L268.68 666.46 L271.7 666.53 L274.73 666.62 L277.75 666.71 L280.77 666.8 L283.8 666.91 L286.82 667.02 L289.85 667.14 L292.88 667.27 L295.9 667.4 L298.93 667.54 L301.95 667.69 L304.98 667.84 L308 668 L311.02 668.16 L314.05 668.32 L317.07 668.5 L320.1 668.67 L323.12 668.85 L326.15 669.03 L329.18 669.22 L332.2 669.41 L335.23 669.6 L338.25 669.79 L341.27 669.99 L344.3 670.19 M247.5 669.32 L250.53 669.33 L253.55 669.34 L256.57 669.37 L259.6 669.41 L262.62 669.46 L265.65 669.52 L268.68 669.59 L271.7 669.67 L274.73 669.76 L277.75 669.86 L280.77 669.97 L283.8 670.08 L286.82 670.2 L289.85 670.33 L292.88 670.47 L295.9 670.62 L298.93 670.77 L301.95 670.93 L304.98 671.09 L308 671.26 L311.02 671.44 L314.05 671.62 L317.07 671.8 L320.1 671.99 L323.12 672.19 L326.15 672.39 L329.18 672.59 L332.2 672.79 L335.23 673 L338.25 673.21 L341.27 673.43 L344.3 673.64 M247.5 676.23 L250.53 676.24 L253.55 676.26 L256.57 676.29 L259.6 676.34 L262.62 676.39 L265.65 676.46 L268.68 676.54 L271.7 676.62 L274.73 676.72 L277.75 676.83 L280.77 676.94 L283.8 677.06 L286.82 677.19 L289.85 677.33 L292.88 677.47 L295.9 677.62 L298.93 677.8 L301.95 678.07 L304.98 678.4 L308 678.79 L311.02 679.24 L314.05 679.75 L317.07 680.31 L320.1 680.92 L323.12 681.57 L326.15 682.26 L329.18 682.98 L332.2 683.73 L335.23 684.51 L338.25 685.31 L341.27 686.12 L344.3 686.95 M247.5 682.11 L250.53 682.11 L253.55 682.12 L256.57 682.14 L259.6 682.16 L262.62 682.19 L265.65 682.22 L268.68 682.26 L271.7 682.3 L274.73 682.35 L277.75 682.4 L280.77 682.46 L283.8 682.52 L286.82 682.58 L289.85 682.65 L292.88 682.72 L295.9 682.8 L298.93 682.9 L301.95 683.05 L304.98 683.24 L308 683.48 L311.02 683.75 L314.05 684.06 L317.07 684.41 L320.1 684.78 L323.12 685.18 L326.15 685.6 L329.18 686.05 L332.2 686.51 L335.23 687 L338.25 687.49 L341.27 687.99 L344.3 688.5 M247.5 695.76 L250.53 695.73 L253.55 695.63 L256.57 695.49 L259.6 695.29 L262.62 695.05 L265.65 694.78 L268.68 694.48 L271.7 694.15 L274.73 693.81 L277.75 693.45 L280.77 693.09 L283.8 692.73 L286.82 692.38 L289.85 692.05 L292.88 691.73 L295.9 691.44 L298.93 691.16 L301.95 690.89 L304.98 690.61 L308 690.33 L311.02 690.05 L314.05 689.78 L317.07 689.5 L320.1 689.22 L323.12 688.93 L326.15 688.65 L329.18 688.37 L332.2 688.09 L335.23 687.8 L338.25 687.52 L341.27 687.23 L344.3 686.95 M247.5 695.76 L250.53 695.76 L253.55 695.74 L256.57 695.72 L259.6 695.7 L262.62 695.66 L265.65 695.62 L268.68 695.57 L271.7 695.52 L274.73 695.46 L277.75 695.39 L280.77 695.32 L283.8 695.25 L286.82 695.16 L289.85 695.08 L292.88 694.99 L295.9 694.9 L298.93 694.77 L301.95 694.6 L304.98 694.38 L308 694.11 L311.02 693.8 L314.05 693.45 L317.07 693.07 L320.1 692.65 L323.12 692.21 L326.15 691.73 L329.18 691.24 L332.2 690.72 L335.23 690.18 L338.25 689.63 L341.27 689.07 L344.3 688.5 M247.5 697.66 L250.53 697.73 L253.55 697.92 L256.57 698.22 L259.6 698.61 L262.62 699.08 L265.65 699.61 L268.68 700.18 L271.7 700.78 L274.73 701.39 L277.75 702 L280.77 702.58 L283.8 703.13 L286.82 703.63 L289.85 704.11 L292.88 704.6 L295.9 705.08 L298.93 705.57 L301.95 706.06 L304.98 706.55 L308 707.05 L311.02 707.55 L314.05 708.05 L317.07 708.55 L320.1 709.06 L323.12 709.57 L326.15 710.08 L329.18 710.59 L332.2 711.11 L335.23 711.63 L338.25 712.16 L341.27 712.68 L344.3 713.21 M247.5 710.97 L250.53 710.97 L253.55 710.98 L256.57 710.99 L259.6 711.01 L262.62 711.04 L265.65 711.07 L268.68 711.11 L271.7 711.15 L274.73 711.2 L277.75 711.25 L280.77 711.3 L283.8 711.36 L286.82 711.43 L289.85 711.49 L292.88 711.56 L295.9 711.64 L298.93 711.72 L301.95 711.8 L304.98 711.89 L308 711.98 L311.02 712.07 L314.05 712.16 L317.07 712.26 L320.1 712.36 L323.12 712.46 L326.15 712.56 L329.18 712.67 L332.2 712.77 L335.23 712.88 L338.25 712.99 L341.27 713.1 L344.3 713.21 M247.5 718.92 L250.53 718.93 L253.55 718.96 L256.57 719.01 L259.6 719.08 L262.62 719.16 L265.65 719.24 L268.68 719.34 L271.7 719.43 L274.73 719.53 L277.75 719.62 L280.77 719.71 L283.8 719.79 L286.82 719.86 L289.85 719.91 L292.88 719.94 L295.9 719.95 L298.93 719.95 L301.95 719.95 L304.98 719.95 L308 719.95 L311.02 719.94 L314.05 719.93 L317.07 719.92 L320.1 719.91 L323.12 719.89 L326.15 719.87 L329.18 719.84 L332.2 719.81 L335.23 719.77 L338.25 719.72 L341.27 719.67 L344.3 719.61 M247.5 726.35 L250.53 726.35 L253.55 726.37 L256.57 726.41 L259.6 726.45 L262.62 726.51 L265.65 726.58 L268.68 726.66 L271.7 726.75 L274.73 726.85 L277.75 726.95 L280.77 727.07 L283.8 727.19 L286.82 727.32 L289.85 727.45 L292.88 727.59 L295.9 727.73 L298.93 727.9 L301.95 728.11 L304.98 728.37 L308 728.68 L311.02 729.02 L314.05 729.4 L317.07 729.82 L320.1 730.26 L323.12 730.74 L326.15 731.24 L329.18 731.76 L332.2 732.31 L335.23 732.87 L338.25 733.45 L341.27 734.04 L344.3 734.64 M247.5 724.27 L250.53 724.28 L253.55 724.31 L256.57 724.35 L259.6 724.41 L262.62 724.49 L265.65 724.57 L268.68 724.67 L271.7 724.79 L274.73 724.91 L277.75 725.04 L280.77 725.19 L283.8 725.34 L286.82 725.5 L289.85 725.66 L292.88 725.83 L295.9 726 L298.93 726.2 L301.95 726.44 L304.98 726.73 L308 727.06 L311.02 727.42 L314.05 727.82 L317.07 728.26 L320.1 728.72 L323.12 729.22 L326.15 729.74 L329.18 730.28 L332.2 730.85 L335.23 731.43 L338.25 732.02 L341.27 732.64 L344.3 733.26 M247.5 735.68 L250.53 735.7 L253.55 735.75 L256.57 735.83 L259.6 735.95 L262.62 736.08 L265.65 736.24 L268.68 736.41 L271.7 736.6 L274.73 736.79 L277.75 736.99 L280.77 737.19 L283.8 737.39 L286.82 737.58 L289.85 737.77 L292.88 737.94 L295.9 738.1 L298.93 738.24 L301.95 738.39 L304.98 738.53 L308 738.67 L311.02 738.82 L314.05 738.96 L317.07 739.1 L320.1 739.24 L323.12 739.38 L326.15 739.52 L329.18 739.66 L332.2 739.8 L335.23 739.93 L338.25 740.07 L341.27 740.21 L344.3 740.34 M247.5 744.32 L250.53 744.3 L253.55 744.25 L256.57 744.17 L259.6 744.07 L262.62 743.94 L265.65 743.79 L268.68 743.61 L271.7 743.42 L274.73 743.22 L277.75 743 L280.77 742.77 L283.8 742.54 L286.82 742.29 L289.85 742.05 L292.88 741.8 L295.9 741.55 L298.93 741.29 L301.95 741.01 L304.98 740.69 L308 740.36 L311.02 740 L314.05 739.61 L317.07 739.21 L320.1 738.78 L323.12 738.34 L326.15 737.88 L329.18 737.4 L332.2 736.91 L335.23 736.4 L338.25 735.88 L341.27 735.35 L344.3 734.81 M247.5 745.18 L250.53 745.18 L253.55 745.18 L256.57 745.18 L259.6 745.18 L262.62 745.18 L265.65 745.18 L268.68 745.18 L271.7 745.18 L274.73 745.18 L277.75 745.18 L280.77 745.18 L283.8 745.18 L286.82 745.18 L289.85 745.18 L292.88 745.18 L295.9 745.18 L298.93 745.18 L301.95 745.18 L304.98 745.18 L308 745.18 L311.02 745.18 L314.05 745.18 L317.07 745.18 L320.1 745.18 L323.12 745.18 L326.15 745.18 L329.18 745.18 L332.2 745.18 L335.23 745.18 L338.25 745.18 L341.27 745.18 L344.3 745.18 M247.5 750.71 L250.53 750.73 L253.55 750.79 L256.57 750.87 L259.6 750.99 L262.62 751.14 L265.65 751.31 L268.68 751.5 L271.7 751.71 L274.73 751.93 L277.75 752.17 L280.77 752.41 L283.8 752.66 L286.82 752.91 L289.85 753.16 L292.88 753.41 L295.9 753.65 L298.93 753.89 L301.95 754.14 L304.98 754.41 L308 754.69 L311.02 754.98 L314.05 755.28 L317.07 755.6 L320.1 755.92 L323.12 756.25 L326.15 756.6 L329.18 756.95 L332.2 757.31 L335.23 757.68 L338.25 758.06 L341.27 758.44 L344.3 758.83 M247.5 759.52 L250.53 759.52 L253.55 759.51 L256.57 759.5 L259.6 759.49 L262.62 759.47 L265.65 759.45 L268.68 759.43 L271.7 759.4 L274.73 759.36 L277.75 759.33 L280.77 759.29 L283.8 759.25 L286.82 759.21 L289.85 759.16 L292.88 759.11 L295.9 759.06 L298.93 759 L301.95 758.95 L304.98 758.89 L308 758.82 L311.02 758.76 L314.05 758.7 L317.07 758.63 L320.1 758.56 L323.12 758.49 L326.15 758.42 L329.18 758.35 L332.2 758.27 L335.23 758.2 L338.25 758.12 L341.27 758.05 L344.3 757.97 M247.5 764.36 L250.53 764.36 L253.55 764.35 L256.57 764.34 L259.6 764.33 L262.62 764.31 L265.65 764.29 L268.68 764.26 L271.7 764.24 L274.73 764.2 L277.75 764.17 L280.77 764.13 L283.8 764.09 L286.82 764.04 L289.85 764 L292.88 763.95 L295.9 763.9 L298.93 763.84 L301.95 763.78 L304.98 763.72 L308 763.66 L311.02 763.6 L314.05 763.53 L317.07 763.47 L320.1 763.4 L323.12 763.33 L326.15 763.26 L329.18 763.19 L332.2 763.11 L335.23 763.04 L338.25 762.96 L341.27 762.88 L344.3 762.81 M247.5 767.47 L250.53 767.5 L253.55 767.57 L256.57 767.68 L259.6 767.83 L262.62 768.01 L265.65 768.22 L268.68 768.45 L271.7 768.7 L274.73 768.97 L277.75 769.25 L280.77 769.54 L283.8 769.83 L286.82 770.12 L289.85 770.4 L292.88 770.67 L295.9 770.93 L298.93 771.18 L301.95 771.44 L304.98 771.7 L308 771.97 L311.02 772.24 L314.05 772.52 L317.07 772.81 L320.1 773.1 L323.12 773.39 L326.15 773.69 L329.18 774 L332.2 774.31 L335.23 774.62 L338.25 774.94 L341.27 775.27 L344.3 775.59 M247.5 772.66 L250.53 772.67 L253.55 772.7 L256.57 772.75 L259.6 772.82 L262.62 772.9 L265.65 773 L268.68 773.11 L271.7 773.23 L274.73 773.36 L277.75 773.5 L280.77 773.64 L283.8 773.79 L286.82 773.94 L289.85 774.09 L292.88 774.24 L295.9 774.38 L298.93 774.53 L301.95 774.69 L304.98 774.86 L308 775.05 L311.02 775.24 L314.05 775.44 L317.07 775.64 L320.1 775.86 L323.12 776.08 L326.15 776.32 L329.18 776.56 L332.2 776.8 L335.23 777.05 L338.25 777.31 L341.27 777.57 L344.3 777.84 M247.5 769.89 L250.53 769.86 L253.55 769.76 L256.57 769.61 L259.6 769.4 L262.62 769.16 L265.65 768.88 L268.68 768.57 L271.7 768.25 L274.73 767.91 L277.75 767.56 L280.77 767.21 L283.8 766.88 L286.82 766.55 L289.85 766.25 L292.88 765.98 L295.9 765.74 L298.93 765.53 L301.95 765.32 L304.98 765.11 L308 764.91 L311.02 764.71 L314.05 764.52 L317.07 764.32 L320.1 764.14 L323.12 763.95 L326.15 763.78 L329.18 763.6 L332.2 763.43 L335.23 763.27 L338.25 763.11 L341.27 762.95 L344.3 762.81 M247.5 777.15 L250.53 777.15 L253.55 777.14 L256.57 777.13 L259.6 777.12 L262.62 777.1 L265.65 777.08 L268.68 777.05 L271.7 777.02 L274.73 776.99 L277.75 776.96 L280.77 776.92 L283.8 776.88 L286.82 776.83 L289.85 776.78 L292.88 776.73 L295.9 776.68 L298.93 776.63 L301.95 776.57 L304.98 776.51 L308 776.45 L311.02 776.39 L314.05 776.32 L317.07 776.25 L320.1 776.19 L323.12 776.12 L326.15 776.05 L329.18 775.97 L332.2 775.9 L335.23 775.82 L338.25 775.75 L341.27 775.67 L344.3 775.59 M247.5 781.81 L250.53 781.85 L253.55 781.93 L256.57 782.08 L259.6 782.27 L262.62 782.5 L265.65 782.77 L268.68 783.07 L271.7 783.41 L274.73 783.76 L277.75 784.14 L280.77 784.52 L283.8 784.92 L286.82 785.32 L289.85 785.71 L292.88 786.1 L295.9 786.48 L298.93 786.86 L301.95 787.26 L304.98 787.68 L308 788.12 L311.02 788.58 L314.05 789.05 L317.07 789.54 L320.1 790.05 L323.12 790.57 L326.15 791.11 L329.18 791.66 L332.2 792.23 L335.23 792.8 L338.25 793.39 L341.27 793.99 L344.3 794.6 M247.5 787.52 L250.53 787.55 L253.55 787.63 L256.57 787.76 L259.6 787.93 L262.62 788.14 L265.65 788.39 L268.68 788.67 L271.7 788.97 L274.73 789.29 L277.75 789.62 L280.77 789.97 L283.8 790.32 L286.82 790.67 L289.85 791.01 L292.88 791.34 L295.9 791.66 L298.93 791.98 L301.95 792.31 L304.98 792.65 L308 793 L311.02 793.35 L314.05 793.72 L317.07 794.1 L320.1 794.49 L323.12 794.89 L326.15 795.29 L329.18 795.7 L332.2 796.13 L335.23 796.55 L338.25 796.99 L341.27 797.43 L344.3 797.88 M247.5 792.18 L250.53 792.19 L253.55 792.2 L256.57 792.21 L259.6 792.23 L262.62 792.26 L265.65 792.3 L268.68 792.33 L271.7 792.38 L274.73 792.43 L277.75 792.48 L280.77 792.54 L283.8 792.61 L286.82 792.68 L289.85 792.75 L292.88 792.83 L295.9 792.91 L298.93 792.99 L301.95 793.08 L304.98 793.17 L308 793.27 L311.02 793.37 L314.05 793.47 L317.07 793.57 L320.1 793.68 L323.12 793.79 L326.15 793.9 L329.18 794.01 L332.2 794.13 L335.23 794.24 L338.25 794.36 L341.27 794.48 L344.3 794.6 M247.5 804.62 L250.53 804.62 L253.55 804.63 L256.57 804.63 L259.6 804.63 L262.62 804.64 L265.65 804.64 L268.68 804.65 L271.7 804.65 L274.73 804.66 L277.75 804.67 L280.77 804.68 L283.8 804.68 L286.82 804.69 L289.85 804.71 L292.88 804.72 L295.9 804.73 L298.93 804.74 L301.95 804.75 L304.98 804.77 L308 804.78 L311.02 804.79 L314.05 804.81 L317.07 804.82 L320.1 804.84 L323.12 804.85 L326.15 804.87 L329.18 804.89 L332.2 804.9 L335.23 804.92 L338.25 804.94 L341.27 804.95 L344.3 804.97 M247.5 809.81 L250.53 809.8 L253.55 809.76 L256.57 809.71 L259.6 809.64 L262.62 809.56 L265.65 809.46 L268.68 809.34 L271.7 809.22 L274.73 809.09 L277.75 808.95 L280.77 808.81 L283.8 808.66 L286.82 808.51 L289.85 808.37 L292.88 808.22 L295.9 808.08 L298.93 807.94 L301.95 807.79 L304.98 807.63 L308 807.46 L311.02 807.29 L314.05 807.1 L317.07 806.92 L320.1 806.72 L323.12 806.52 L326.15 806.32 L329.18 806.1 L332.2 805.89 L335.23 805.66 L338.25 805.44 L341.27 805.21 L344.3 804.97 M247.5 812.23 L250.53 812.23 L253.55 812.23 L256.57 812.23 L259.6 812.23 L262.62 812.23 L265.65 812.23 L268.68 812.23 L271.7 812.23 L274.73 812.23 L277.75 812.23 L280.77 812.23 L283.8 812.23 L286.82 812.23 L289.85 812.23 L292.88 812.23 L295.9 812.23 L298.93 812.23 L301.95 812.23 L304.98 812.23 L308 812.23 L311.02 812.23 L314.05 812.23 L317.07 812.23 L320.1 812.23 L323.12 812.23 L326.15 812.23 L329.18 812.23 L332.2 812.23 L335.23 812.23 L338.25 812.23 L341.27 812.23 L344.3 812.23 M247.5 821.73 L250.53 821.74 L253.55 821.75 L256.57 821.77 L259.6 821.8 L262.62 821.82 L265.65 821.85 L268.68 821.87 L271.7 821.89 L274.73 821.9 L277.75 821.89 L280.77 821.76 L283.8 821.5 L286.82 821.13 L289.85 820.67 L292.88 820.13 L295.9 819.55 L298.93 818.93 L301.95 818.3 L304.98 817.68 L308 817.08 L311.02 816.52 L314.05 816.03 L317.07 815.61 L320.1 815.2 L323.12 814.8 L326.15 814.41 L329.18 814.02 L332.2 813.65 L335.23 813.28 L338.25 812.92 L341.27 812.57 L344.3 812.23 M247.5 835.38 L250.53 835.4 L253.55 835.46 L256.57 835.54 L259.6 835.64 L262.62 835.75 L265.65 835.85 L268.68 835.95 L271.7 836.02 L274.73 836.07 L277.75 836.06 L280.77 835.9 L283.8 835.58 L286.82 835.14 L289.85 834.6 L292.88 834 L295.9 833.36 L298.93 832.71 L301.95 832.09 L304.98 831.51 L308 830.99 L311.02 830.46 L314.05 829.92 L317.07 829.38 L320.1 828.82 L323.12 828.26 L326.15 827.7 L329.18 827.13 L332.2 826.55 L335.23 825.96 L338.25 825.36 L341.27 824.76 L344.3 824.15 M247.5 835.38 L250.53 835.39 L253.55 835.43 L256.57 835.49 L259.6 835.57 L262.62 835.66 L265.65 835.78 L268.68 835.91 L271.7 836.05 L274.73 836.21 L277.75 836.38 L280.77 836.56 L283.8 836.77 L286.82 837.08 L289.85 837.47 L292.88 837.94 L295.9 838.48 L298.93 839.08 L301.95 839.74 L304.98 840.44 L308 841.17 L311.02 841.93 L314.05 842.82 L317.07 843.88 L320.1 845.07 L323.12 846.37 L326.15 847.77 L329.18 849.25 L332.2 850.98 L335.23 853.07 L338.25 855 L341.27 856.35 L344.3 857.33 M247.5 864.76 L250.53 864.73 L253.55 864.64 L256.57 864.49 L259.6 864.28 L262.62 863.65 L265.65 862.17 L268.68 860.07 L271.7 856.32 L274.73 852.29 L277.75 849.69 L280.77 848.27 L283.8 847.4 L286.82 846.89 L289.85 846.53 L292.88 846.45 L295.9 846.57 L298.93 846.83 L301.95 847.19 L304.98 847.62 L308 848.09 L311.02 848.69 L314.05 849.54 L317.07 850.59 L320.1 851.76 L323.12 853.06 L326.15 854.66 L329.18 856.48 L332.2 858.4 L335.23 858.98 L338.25 859.23 L341.27 858.72 L344.3 857.33 M247.5 864.76 L250.53 864.77 L253.55 864.81 L256.57 864.87 L259.6 864.96 L262.62 865.06 L265.65 865.18 L268.68 865.32 L271.7 865.47 L274.73 865.62 L277.75 865.79 L280.77 865.96 L283.8 866.14 L286.82 866.31 L289.85 866.49 L292.88 866.66 L295.9 866.83 L298.93 867 L301.95 867.18 L304.98 867.37 L308 867.56 L311.02 867.77 L314.05 867.98 L317.07 868.2 L320.1 868.43 L323.12 868.66 L326.15 868.9 L329.18 869.15 L332.2 869.4 L335.23 869.66 L338.25 869.92 L341.27 870.19 L344.3 870.46 M247.5 886.01 L250.53 886 L253.55 885.96 L256.57 885.89 L259.6 885.8 L262.62 885.69 L265.65 885.56 L268.68 885.41 L271.7 885.25 L274.73 885.08 L277.75 884.89 L280.77 884.58 L283.8 884.13 L286.82 883.57 L289.85 882.91 L292.88 882.18 L295.9 881.39 L298.93 880.57 L301.95 879.73 L304.98 878.9 L308 878.08 L311.02 877.31 L314.05 876.6 L317.07 875.95 L320.1 875.32 L323.12 874.69 L326.15 874.07 L329.18 873.45 L332.2 872.84 L335.23 872.24 L338.25 871.64 L341.27 871.05 L344.3 870.46 M344.3 493.93 L347.38 493.91 L350.45 493.9 L353.53 493.88 L356.61 493.87 L359.69 493.85 L362.76 493.84 L365.84 493.82 L368.92 493.8 L372 493.79 L375.07 493.77 L378.15 493.76 L381.23 493.74 L384.3 493.73 L387.38 493.71 L390.46 493.69 L393.54 493.68 L396.61 493.66 L399.69 493.65 L402.77 493.63 L405.85 493.62 L408.92 493.6 L412 493.58 M344.3 510.17 L347.38 510.36 L350.45 510.55 L353.53 510.75 L356.61 510.96 L359.69 511.17 L362.76 511.39 L365.84 511.62 L368.92 511.86 L372 512.1 L375.07 512.34 L378.15 512.59 L381.23 512.85 L384.3 513.12 L387.38 513.39 L390.46 513.68 L393.54 513.97 L396.61 514.27 L399.69 514.58 L402.77 514.89 L405.85 515.21 L408.92 515.54 L412 515.88 M344.3 535.75 L347.38 535.22 L350.45 534.7 L353.53 534.2 L356.61 533.71 L359.69 533.23 L362.76 532.78 L365.84 532.33 L368.92 531.91 L372 531.5 L375.07 531.11 L378.15 530.74 L381.23 530.38 L384.3 530.03 L387.38 529.7 L390.46 529.37 L393.54 529.05 L396.61 528.75 L399.69 528.46 L402.77 528.19 L405.85 527.93 L408.92 527.68 L412 527.45 M344.3 544.91 L347.38 545.15 L350.45 545.38 L353.53 545.61 L356.61 545.83 L359.69 546.05 L362.76 546.25 L365.84 546.45 L368.92 546.64 L372 546.82 L375.07 546.99 L378.15 547.15 L381.23 547.31 L384.3 547.46 L387.38 547.6 L390.46 547.74 L393.54 547.87 L396.61 548 L399.69 548.12 L402.77 548.24 L405.85 548.34 L408.92 548.44 L412 548.53 M344.3 568.92 L347.38 568.87 L350.45 568.81 L353.53 568.76 L356.61 568.7 L359.69 568.65 L362.76 568.59 L365.84 568.54 L368.92 568.48 L372 568.43 L375.07 568.37 L378.15 568.32 L381.23 568.27 L384.3 568.21 L387.38 568.16 L390.46 568.1 L393.54 568.05 L396.61 567.99 L399.69 567.94 L402.77 567.88 L405.85 567.83 L408.92 567.77 L412 567.72 M344.3 587.76 L347.38 587.83 L350.45 587.9 L353.53 587.97 L356.61 588.04 L359.69 588.11 L362.76 588.18 L365.84 588.25 L368.92 588.33 L372 588.4 L375.07 588.47 L378.15 588.54 L381.23 588.61 L384.3 588.68 L387.38 588.75 L390.46 588.82 L393.54 588.89 L396.61 588.96 L399.69 589.03 L402.77 589.1 L405.85 589.17 L408.92 589.24 L412 589.32 M344.3 610.4 L347.38 610.31 L350.45 610.22 L353.53 610.14 L356.61 610.05 L359.69 609.96 L362.76 609.88 L365.84 609.79 L368.92 609.71 L372 609.62 L375.07 609.53 L378.15 609.45 L381.23 609.36 L384.3 609.27 L387.38 609.19 L390.46 609.1 L393.54 609.01 L396.61 608.93 L399.69 608.84 L402.77 608.76 L405.85 608.67 L408.92 608.58 L412 608.5 M344.3 611.95 L347.38 612.12 L350.45 612.28 L353.53 612.44 L356.61 612.6 L359.69 612.76 L362.76 612.92 L365.84 613.07 L368.92 613.23 L372 613.38 L375.07 613.53 L378.15 613.68 L381.23 613.83 L384.3 613.98 L387.38 614.12 L390.46 614.26 L393.54 614.41 L396.61 614.55 L399.69 614.69 L402.77 614.83 L405.85 614.97 L408.92 615.1 L412 615.24 M344.3 632.69 L347.38 632.69 L350.45 632.69 L353.53 632.69 L356.61 632.69 L359.69 632.69 L362.76 632.69 L365.84 632.69 L368.92 632.69 L372 632.69 L375.07 632.69 L378.15 632.69 L381.23 632.69 L384.3 632.69 L387.38 632.69 L390.46 632.69 L393.54 632.69 L396.61 632.69 L399.69 632.69 L402.77 632.69 L405.85 632.69 L408.92 632.69 L412 632.69 M344.3 670.19 L347.38 670.19 L350.45 670.19 L353.53 670.19 L356.61 670.19 L359.69 670.19 L362.76 670.19 L365.84 670.19 L368.92 670.19 L372 670.19 L375.07 670.19 L378.15 670.19 L381.23 670.19 L384.3 670.19 L387.38 670.19 L390.46 670.19 L393.54 670.19 L396.61 670.19 L399.69 670.19 L402.77 670.19 L405.85 670.19 L408.92 670.19 L412 670.19 M344.3 673.64 L347.38 673.85 L350.45 674.05 L353.53 674.25 L356.61 674.46 L359.69 674.66 L362.76 674.87 L365.84 675.07 L368.92 675.28 L372 675.48 L375.07 675.68 L378.15 675.89 L381.23 676.09 L384.3 676.3 L387.38 676.5 L390.46 676.7 L393.54 676.91 L396.61 677.11 L399.69 677.32 L402.77 677.52 L405.85 677.73 L408.92 677.93 L412 678.13 M344.3 686.95 L347.38 686.7 L350.45 686.44 L353.53 686.19 L356.61 685.94 L359.69 685.69 L362.76 685.44 L365.84 685.19 L368.92 684.94 L372 684.69 L375.07 684.43 L378.15 684.18 L381.23 683.93 L384.3 683.68 L387.38 683.43 L390.46 683.18 L393.54 682.93 L396.61 682.67 L399.69 682.42 L402.77 682.17 L405.85 681.92 L408.92 681.67 L412 681.42 M344.3 688.5 L347.38 688.1 L350.45 687.71 L353.53 687.33 L356.61 686.95 L359.69 686.58 L362.76 686.22 L365.84 685.87 L368.92 685.52 L372 685.18 L375.07 684.85 L378.15 684.53 L381.23 684.21 L384.3 683.9 L387.38 683.6 L390.46 683.3 L393.54 683.01 L396.61 682.73 L399.69 682.45 L402.77 682.18 L405.85 681.92 L408.92 681.67 L412 681.42 M344.3 688.5 L347.38 688.73 L350.45 688.95 L353.53 689.16 L356.61 689.37 L359.69 689.56 L362.76 689.76 L365.84 689.94 L368.92 690.11 L372 690.28 L375.07 690.43 L378.15 690.58 L381.23 690.71 L384.3 690.85 L387.38 690.98 L390.46 691.1 L393.54 691.22 L396.61 691.33 L399.69 691.44 L402.77 691.54 L405.85 691.63 L408.92 691.71 L412 691.79 M344.3 713.21 L347.38 712.37 L350.45 711.55 L353.53 710.76 L356.61 710 L359.69 709.28 L362.76 708.62 L365.84 708 L368.92 707.43 L372 706.93 L375.07 706.49 L378.15 706.13 L381.23 705.8 L384.3 705.48 L387.38 705.17 L390.46 704.88 L393.54 704.6 L396.61 704.36 L399.69 704.15 L402.77 703.97 L405.85 703.83 L408.92 703.74 L412 703.71 M344.3 713.21 L347.38 713.69 L350.45 714.15 L353.53 714.59 L356.61 715.02 L359.69 715.42 L362.76 715.81 L365.84 716.17 L368.92 716.51 L372 716.82 L375.07 717.11 L378.15 717.36 L381.23 717.59 L384.3 717.82 L387.38 718.04 L390.46 718.25 L393.54 718.45 L396.61 718.63 L399.69 718.79 L402.77 718.94 L405.85 719.07 L408.92 719.18 L412 719.26 M344.3 719.61 L347.38 719.59 L350.45 719.57 L353.53 719.56 L356.61 719.54 L359.69 719.53 L362.76 719.51 L365.84 719.5 L368.92 719.48 L372 719.47 L375.07 719.45 L378.15 719.43 L381.23 719.42 L384.3 719.4 L387.38 719.39 L390.46 719.37 L393.54 719.36 L396.61 719.34 L399.69 719.32 L402.77 719.31 L405.85 719.29 L408.92 719.28 L412 719.26 M344.3 734.64 L347.38 734.61 L350.45 734.58 L353.53 734.55 L356.61 734.51 L359.69 734.48 L362.76 734.45 L365.84 734.42 L368.92 734.39 L372 734.36 L375.07 734.33 L378.15 734.29 L381.23 734.26 L384.3 734.23 L387.38 734.2 L390.46 734.17 L393.54 734.14 L396.61 734.11 L399.69 734.07 L402.77 734.04 L405.85 734.01 L408.92 733.98 L412 733.95 M344.3 733.26 L347.38 733.29 L350.45 733.32 L353.53 733.35 L356.61 733.38 L359.69 733.41 L362.76 733.45 L365.84 733.48 L368.92 733.51 L372 733.54 L375.07 733.57 L378.15 733.6 L381.23 733.63 L384.3 733.67 L387.38 733.7 L390.46 733.73 L393.54 733.76 L396.61 733.79 L399.69 733.82 L402.77 733.85 L405.85 733.89 L408.92 733.92 L412 733.95 M344.3 734.81 L347.38 734.97 L350.45 735.14 L353.53 735.33 L356.61 735.53 L359.69 735.74 L362.76 735.97 L365.84 736.2 L368.92 736.45 L372 736.7 L375.07 736.96 L378.15 737.23 L381.23 737.51 L384.3 737.82 L387.38 738.13 L390.46 738.47 L393.54 738.82 L396.61 739.19 L399.69 739.57 L402.77 739.96 L405.85 740.36 L408.92 740.78 L412 741.21 M344.3 740.34 L347.38 740.65 L350.45 740.96 L353.53 741.25 L356.61 741.54 L359.69 741.82 L362.76 742.09 L365.84 742.35 L368.92 742.6 L372 742.84 L375.07 743.06 L378.15 743.28 L381.23 743.49 L384.3 743.69 L387.38 743.89 L390.46 744.07 L393.54 744.26 L396.61 744.43 L399.69 744.6 L402.77 744.76 L405.85 744.91 L408.92 745.05 L412 745.18 M344.3 745.18 L347.38 744.98 L350.45 744.74 L353.53 744.47 L356.61 744.18 L359.69 743.86 L362.76 743.52 L365.84 743.16 L368.92 742.78 L372 742.39 L375.07 741.98 L378.15 741.55 L381.23 741.1 L384.3 740.61 L387.38 740.09 L390.46 739.53 L393.54 738.94 L396.61 738.31 L399.69 737.66 L402.77 736.98 L405.85 736.28 L408.92 735.56 L412 734.81 M344.3 758.83 L347.38 758.79 L350.45 758.75 L353.53 758.71 L356.61 758.67 L359.69 758.64 L362.76 758.6 L365.84 758.56 L368.92 758.52 L372 758.48 L375.07 758.44 L378.15 758.4 L381.23 758.36 L384.3 758.32 L387.38 758.28 L390.46 758.24 L393.54 758.2 L396.61 758.16 L399.69 758.13 L402.77 758.09 L405.85 758.05 L408.92 758.01 L412 757.97 M344.3 757.97 L347.38 757.97 L350.45 757.97 L353.53 757.97 L356.61 757.97 L359.69 757.97 L362.76 757.97 L365.84 757.97 L368.92 757.97 L372 757.97 L375.07 757.97 L378.15 757.97 L381.23 757.97 L384.3 757.97 L387.38 757.97 L390.46 757.97 L393.54 757.97 L396.61 757.97 L399.69 757.97 L402.77 757.97 L405.85 757.97 L408.92 757.97 L412 757.97 M344.3 762.81 L347.38 763.09 L350.45 763.37 L353.53 763.64 L356.61 763.92 L359.69 764.19 L362.76 764.45 L365.84 764.72 L368.92 764.98 L372 765.24 L375.07 765.49 L378.15 765.74 L381.23 765.99 L384.3 766.24 L387.38 766.48 L390.46 766.72 L393.54 766.96 L396.61 767.2 L399.69 767.43 L402.77 767.66 L405.85 767.89 L408.92 768.11 L412 768.34 M344.3 775.59 L347.38 775.63 L350.45 775.66 L353.53 775.69 L356.61 775.72 L359.69 775.75 L362.76 775.78 L365.84 775.81 L368.92 775.84 L372 775.88 L375.07 775.91 L378.15 775.94 L381.23 775.97 L384.3 776 L387.38 776.03 L390.46 776.06 L393.54 776.1 L396.61 776.13 L399.69 776.16 L402.77 776.19 L405.85 776.22 L408.92 776.25 L412 776.28 M344.3 777.84 L347.38 777.88 L350.45 777.92 L353.53 777.96 L356.61 778 L359.69 778.04 L362.76 778.08 L365.84 778.11 L368.92 778.15 L372 778.19 L375.07 778.23 L378.15 778.27 L381.23 778.31 L384.3 778.35 L387.38 778.39 L390.46 778.43 L393.54 778.47 L396.61 778.51 L399.69 778.55 L402.77 778.59 L405.85 778.63 L408.92 778.66 L412 778.7 M344.3 794.6 L347.38 794.28 L350.45 793.97 L353.53 793.67 L356.61 793.38 L359.69 793.1 L362.76 792.83 L365.84 792.57 L368.92 792.32 L372 792.09 L375.07 791.87 L378.15 791.66 L381.23 791.47 L384.3 791.28 L387.38 791.1 L390.46 790.92 L393.54 790.75 L396.61 790.59 L399.69 790.44 L402.77 790.3 L405.85 790.16 L408.92 790.04 L412 789.94 M344.3 797.88 L347.38 798.03 L350.45 798.17 L353.53 798.31 L356.61 798.45 L359.69 798.59 L362.76 798.73 L365.84 798.87 L368.92 799.02 L372 799.16 L375.07 799.3 L378.15 799.44 L381.23 799.58 L384.3 799.72 L387.38 799.86 L390.46 800.01 L393.54 800.15 L396.61 800.29 L399.69 800.43 L402.77 800.57 L405.85 800.71 L408.92 800.85 L412 801 M344.3 804.97 L347.38 804.94 L350.45 804.91 L353.53 804.88 L356.61 804.84 L359.69 804.81 L362.76 804.78 L365.84 804.75 L368.92 804.72 L372 804.69 L375.07 804.66 L378.15 804.62 L381.23 804.59 L384.3 804.56 L387.38 804.53 L390.46 804.5 L393.54 804.47 L396.61 804.44 L399.69 804.4 L402.77 804.37 L405.85 804.34 L408.92 804.31 L412 804.28 M344.3 812.23 L347.38 812.34 L350.45 812.45 L353.53 812.56 L356.61 812.67 L359.69 812.78 L362.76 812.89 L365.84 813 L368.92 813.11 L372 813.22 L375.07 813.33 L378.15 813.44 L381.23 813.55 L384.3 813.66 L387.38 813.77 L390.46 813.88 L393.54 813.99 L396.61 814.1 L399.69 814.21 L402.77 814.32 L405.85 814.43 L408.92 814.54 L412 814.65 M344.3 824.15 L347.38 824.37 L350.45 824.58 L353.53 824.79 L356.61 824.99 L359.69 825.19 L362.76 825.38 L365.84 825.56 L368.92 825.74 L372 825.91 L375.07 826.07 L378.15 826.22 L381.23 826.37 L384.3 826.52 L387.38 826.66 L390.46 826.8 L393.54 826.93 L396.61 827.06 L399.69 827.18 L402.77 827.29 L405.85 827.4 L408.92 827.51 L412 827.61 M344.3 857.33 L347.38 857.27 L350.45 854.38 L353.53 852.3 L356.61 850.52 L359.69 848.97 L362.76 847.64 L365.84 846.53 L368.92 845.49 L372 844.5 L375.07 843.6 L378.15 842.83 L381.23 842.23 L384.3 841.83 L387.38 841.59 L390.46 841.37 L393.54 841.17 L396.61 841 L399.69 840.85 L402.77 840.73 L405.85 840.64 L408.92 840.59 L412 840.57 M344.3 870.46 L347.38 870.8 L350.45 871.14 L353.53 871.46 L356.61 871.78 L359.69 872.09 L362.76 872.39 L365.84 872.68 L368.92 872.97 L372 873.24 L375.07 873.5 L378.15 873.74 L381.23 873.98 L384.3 874.22 L387.38 874.45 L390.46 874.67 L393.54 874.88 L396.61 875.09 L399.69 875.29 L402.77 875.48 L405.85 875.66 L408.92 875.83 L412 875.99 M412 493.58 L415.02 493.72 L418.04 493.85 L421.05 493.99 L424.07 494.12 L427.09 494.26 L430.11 494.41 L433.12 494.55 L436.14 494.7 L439.16 494.85 L442.18 495 L445.2 495.15 L448.21 495.31 L451.23 495.46 L454.25 495.62 L457.27 495.78 L460.28 495.94 L463.3 496.11 L466.32 496.27 L469.34 496.44 L472.36 496.61 L475.37 496.78 L478.39 496.95 L481.41 497.13 L484.43 497.32 L487.44 497.54 L490.46 497.77 L493.48 498.01 L496.5 498.26 L499.52 498.52 L502.53 498.78 L505.55 499.05 L508.57 499.32 L511.59 499.58 L514.6 499.84 L517.62 500.09 L520.64 500.33 L523.66 500.55 L526.68 500.76 L529.69 500.95 L532.71 501.12 L535.73 501.26 L538.75 501.37 L541.76 501.46 L544.78 501.51 L547.8 501.53 M412 515.88 L415.02 515.23 L418.04 514.59 L421.05 513.97 L424.07 513.36 L427.09 512.76 L430.11 512.17 L433.12 511.6 L436.14 511.04 L439.16 510.5 L442.18 509.98 L445.2 509.47 L448.21 508.98 L451.23 508.5 L454.25 508.04 L457.27 507.57 L460.28 507.1 L463.3 506.63 L466.32 506.16 L469.34 505.7 L472.36 505.26 L475.37 504.84 L478.39 504.45 L481.41 504.09 L484.43 503.77 L487.44 503.49 L490.46 503.26 L493.48 503.09 L496.5 502.94 L499.52 502.8 L502.53 502.67 L505.55 502.54 L508.57 502.42 L511.59 502.3 L514.6 502.19 L517.62 502.08 L520.64 501.98 L523.66 501.89 L526.68 501.81 L529.69 501.74 L532.71 501.68 L535.73 501.63 L538.75 501.59 L541.76 501.56 L544.78 501.54 L547.8 501.53 M412 515.88 L415.02 516.35 L418.04 516.88 L421.05 517.46 L424.07 518.09 L427.09 518.77 L430.11 519.49 L433.12 520.25 L436.14 521.04 L439.16 521.87 L442.18 522.72 L445.2 523.6 L448.21 524.53 L451.23 525.54 L454.25 526.65 L457.27 527.82 L460.28 529.05 L463.3 530.33 L466.32 531.64 L469.34 532.98 L472.36 534.32 L475.37 535.67 L478.39 536.99 L481.41 538.32 L484.43 539.74 L487.44 541.25 L490.46 542.82 L493.48 544.41 L496.5 545.99 L499.52 547.53 L502.53 548.99 L505.55 550.34 L508.57 551.54 L511.59 552.57 L514.6 553.39 L517.62 554.15 L520.64 554.9 L523.66 555.63 L526.68 556.33 L529.69 556.98 L532.71 557.56 L535.73 558.07 L538.75 558.49 L541.76 558.81 L544.78 559.01 L547.8 559.08 M412 527.45 L415.02 527.36 L418.04 527.26 L421.05 527.16 L424.07 527.06 L427.09 526.95 L430.11 526.84 L433.12 526.73 L436.14 526.62 L439.16 526.5 L442.18 526.38 L445.2 526.26 L448.21 526.13 L451.23 526 L454.25 525.87 L457.27 525.74 L460.28 525.61 L463.3 525.47 L466.32 525.33 L469.34 525.19 L472.36 525.05 L475.37 524.91 L478.39 524.76 L481.41 524.61 L484.43 524.44 L487.44 524.25 L490.46 524.05 L493.48 523.83 L496.5 523.6 L499.52 523.36 L502.53 523.12 L505.55 522.87 L508.57 522.63 L511.59 522.38 L514.6 522.14 L517.62 521.91 L520.64 521.68 L523.66 521.47 L526.68 521.27 L529.69 521.1 L532.71 520.94 L535.73 520.8 L538.75 520.69 L541.76 520.61 L544.78 520.56 L547.8 520.54 M412 548.53 L415.02 547.77 L418.04 547 L421.05 546.22 L424.07 545.43 L427.09 544.64 L430.11 543.84 L433.12 543.04 L436.14 542.22 L439.16 541.41 L442.18 540.58 L445.2 539.75 L448.21 538.91 L451.23 538.07 L454.25 537.21 L457.27 536.29 L460.28 535.31 L463.3 534.29 L466.32 533.25 L469.34 532.2 L472.36 531.16 L475.37 530.15 L478.39 529.17 L481.41 528.26 L484.43 527.43 L487.44 526.69 L490.46 526.06 L493.48 525.55 L496.5 525.12 L499.52 524.69 L502.53 524.27 L505.55 523.87 L508.57 523.47 L511.59 523.09 L514.6 522.73 L517.62 522.39 L520.64 522.07 L523.66 521.77 L526.68 521.5 L529.69 521.26 L532.71 521.05 L535.73 520.87 L538.75 520.73 L541.76 520.63 L544.78 520.56 L547.8 520.54 M412 548.53 L415.02 549.25 L418.04 550 L421.05 550.79 L424.07 551.61 L427.09 552.46 L430.11 553.34 L433.12 554.24 L436.14 555.18 L439.16 556.14 L442.18 557.12 L445.2 558.13 L448.21 559.17 L451.23 560.28 L454.25 561.44 L457.27 562.65 L460.28 563.89 L463.3 565.17 L466.32 566.46 L469.34 567.75 L472.36 569.05 L475.37 570.33 L478.39 571.59 L481.41 572.83 L484.43 574.14 L487.44 575.51 L490.46 576.9 L493.48 578.31 L496.5 579.69 L499.52 581.03 L502.53 582.3 L505.55 583.48 L508.57 584.54 L511.59 585.45 L514.6 586.21 L517.62 586.92 L520.64 587.62 L523.66 588.3 L526.68 588.96 L529.69 589.57 L532.71 590.12 L535.73 590.61 L538.75 591 L541.76 591.3 L544.78 591.5 L547.8 591.56 M412 567.72 L415.02 567.67 L418.04 567.6 L421.05 567.53 L424.07 567.44 L427.09 567.34 L430.11 567.23 L433.12 567.11 L436.14 566.98 L439.16 566.84 L442.18 566.7 L445.2 566.55 L448.21 566.4 L451.23 566.24 L454.25 566.07 L457.27 565.88 L460.28 565.64 L463.3 565.38 L466.32 565.1 L469.34 564.79 L472.36 564.47 L475.37 564.14 L478.39 563.8 L481.41 563.45 L484.43 563.11 L487.44 562.77 L490.46 562.44 L493.48 562.12 L496.5 561.82 L499.52 561.54 L502.53 561.29 L505.55 561.07 L508.57 560.88 L511.59 560.69 L514.6 560.5 L517.62 560.3 L520.64 560.11 L523.66 559.93 L526.68 559.75 L529.69 559.59 L532.71 559.45 L535.73 559.32 L538.75 559.22 L541.76 559.14 L544.78 559.09 L547.8 559.08 M412 589.32 L415.02 589.39 L418.04 589.47 L421.05 589.55 L424.07 589.63 L427.09 589.71 L430.11 589.78 L433.12 589.86 L436.14 589.93 L439.16 590.01 L442.18 590.08 L445.2 590.15 L448.21 590.22 L451.23 590.29 L454.25 590.36 L457.27 590.43 L460.28 590.5 L463.3 590.56 L466.32 590.62 L469.34 590.69 L472.36 590.75 L475.37 590.8 L478.39 590.86 L481.41 590.91 L484.43 590.97 L487.44 591.02 L490.46 591.07 L493.48 591.12 L496.5 591.16 L499.52 591.2 L502.53 591.25 L505.55 591.28 L508.57 591.32 L511.59 591.35 L514.6 591.39 L517.62 591.42 L520.64 591.44 L523.66 591.47 L526.68 591.49 L529.69 591.51 L532.71 591.52 L535.73 591.54 L538.75 591.55 L541.76 591.56 L544.78 591.56 L547.8 591.56 M412 608.5 L415.02 607.64 L418.04 606.81 L421.05 606.03 L424.07 605.29 L427.09 604.6 L430.11 603.95 L433.12 603.36 L436.14 602.82 L439.16 602.33 L442.18 601.9 L445.2 601.54 L448.21 601.24 L451.23 601 L454.25 600.83 L457.27 600.74 L460.28 600.72 L463.3 600.77 L466.32 600.89 L469.34 601.06 L472.36 601.28 L475.37 601.55 L478.39 601.85 L481.41 602.17 L484.43 602.52 L487.44 602.88 L490.46 603.25 L493.48 603.61 L496.5 603.97 L499.52 604.31 L502.53 604.62 L505.55 604.91 L508.57 605.17 L511.59 605.44 L514.6 605.74 L517.62 606.04 L520.64 606.35 L523.66 606.65 L526.68 606.95 L529.69 607.22 L532.71 607.48 L535.73 607.7 L538.75 607.89 L541.76 608.03 L544.78 608.12 L547.8 608.15 M412 608.5 L415.02 609.44 L418.04 610.39 L421.05 611.35 L424.07 612.31 L427.09 613.29 L430.11 614.31 L433.12 615.48 L436.14 616.72 L439.16 617.96 L442.18 619.1 L445.2 620.05 L448.21 620.71 L451.23 621.04 L454.25 621.28 L457.27 621.49 L460.28 621.69 L463.3 621.86 L466.32 622.01 L469.34 622.13 L472.36 622.22 L475.37 622.28 L478.39 622.32 L481.41 622.32 L484.43 622.32 L487.44 622.32 L490.46 622.32 L493.48 622.32 L496.5 622.32 L499.52 622.32 L502.53 622.32 L505.55 622.32 L508.57 622.32 L511.59 622.32 L514.6 622.32 L517.62 622.32 L520.64 622.32 L523.66 622.32 L526.68 622.32 L529.69 622.32 L532.71 622.32 L535.73 622.32 L538.75 622.32 L541.76 622.32 L544.78 622.32 L547.8 622.32 M412 615.24 L415.02 615.02 L418.04 614.82 L421.05 614.61 L424.07 614.41 L427.09 614.21 L430.11 614.01 L433.12 613.81 L436.14 613.61 L439.16 613.42 L442.18 613.23 L445.2 613.04 L448.21 612.86 L451.23 612.68 L454.25 612.5 L457.27 612.32 L460.28 612.15 L463.3 611.98 L466.32 611.81 L469.34 611.64 L472.36 611.48 L475.37 611.32 L478.39 611.16 L481.41 611.01 L484.43 610.85 L487.44 610.69 L490.46 610.52 L493.48 610.34 L496.5 610.17 L499.52 609.99 L502.53 609.82 L505.55 609.64 L508.57 609.47 L511.59 609.31 L514.6 609.15 L517.62 609 L520.64 608.85 L523.66 608.72 L526.68 608.6 L529.69 608.49 L532.71 608.39 L535.73 608.31 L538.75 608.24 L541.76 608.19 L544.78 608.16 L547.8 608.15 M412 632.69 L415.02 632.55 L418.04 632.44 L421.05 632.36 L424.07 632.29 L427.09 632.24 L430.11 632.21 L433.12 632.18 L436.14 632.17 L439.16 632.17 L442.18 632.2 L445.2 632.27 L448.21 632.38 L451.23 632.53 L454.25 632.7 L457.27 632.9 L460.28 633.11 L463.3 633.33 L466.32 633.56 L469.34 633.78 L472.36 633.98 L475.37 634.18 L478.39 634.34 L481.41 634.49 L484.43 634.63 L487.44 634.78 L490.46 634.93 L493.48 635.08 L496.5 635.24 L499.52 635.39 L502.53 635.55 L505.55 635.7 L508.57 635.85 L511.59 636 L514.6 636.14 L517.62 636.27 L520.64 636.39 L523.66 636.51 L526.68 636.62 L529.69 636.72 L532.71 636.8 L535.73 636.87 L538.75 636.93 L541.76 636.97 L544.78 637 L547.8 637.01 M412 632.69 L415.02 632.69 L418.04 632.69 L421.05 632.69 L424.07 632.69 L427.09 632.69 L430.11 632.69 L433.12 632.69 L436.14 632.83 L439.16 633.11 L442.18 633.52 L445.2 634.02 L448.21 634.63 L451.23 635.82 L454.25 637.56 L457.27 639.62 L460.28 641.75 L463.3 643.74 L466.32 645.82 L469.34 648.03 L472.36 650.33 L475.37 652.66 L478.39 654.96 L481.41 657.17 L484.43 659.25 L487.44 661.14 L490.46 662.91 L493.48 664.61 L496.5 666.25 L499.52 667.83 L502.53 669.36 L505.55 670.84 L508.57 672.28 L511.59 673.68 L514.6 675.13 L517.62 676.62 L520.64 678.1 L523.66 679.5 L526.68 680.77 L529.69 681.85 L532.71 682.67 L535.73 683.23 L538.75 683.72 L541.76 684.13 L544.78 684.42 L547.8 684.53 M412 670.19 L415.02 669.77 L418.04 669.37 L421.05 668.97 L424.07 668.57 L427.09 668.18 L430.11 667.8 L433.12 667.43 L436.14 667.06 L439.16 666.71 L442.18 666.36 L445.2 666.02 L448.21 665.69 L451.23 665.37 L454.25 665.06 L457.27 664.76 L460.28 664.48 L463.3 664.2 L466.32 663.94 L469.34 663.69 L472.36 663.46 L475.37 663.23 L478.39 663.03 L481.41 662.83 L484.43 662.64 L487.44 662.44 L490.46 662.24 L493.48 662.05 L496.5 661.85 L499.52 661.66 L502.53 661.48 L505.55 661.29 L508.57 661.12 L511.59 660.95 L514.6 660.79 L517.62 660.64 L520.64 660.49 L523.66 660.36 L526.68 660.24 L529.69 660.14 L532.71 660.04 L535.73 659.96 L538.75 659.9 L541.76 659.86 L544.78 659.83 L547.8 659.82 M412 678.13 L415.02 677.42 L418.04 676.72 L421.05 676.03 L424.07 675.35 L427.09 674.68 L430.11 674.03 L433.12 673.38 L436.14 672.75 L439.16 672.13 L442.18 671.53 L445.2 670.94 L448.21 670.37 L451.23 669.82 L454.25 669.28 L457.27 668.76 L460.28 668.26 L463.3 667.78 L466.32 667.32 L469.34 666.88 L472.36 666.47 L475.37 666.07 L478.39 665.7 L481.41 665.34 L484.43 664.99 L487.44 664.63 L490.46 664.28 L493.48 663.92 L496.5 663.57 L499.52 663.22 L502.53 662.88 L505.55 662.54 L508.57 662.22 L511.59 661.91 L514.6 661.61 L517.62 661.33 L520.64 661.07 L523.66 660.83 L526.68 660.61 L529.69 660.41 L532.71 660.24 L535.73 660.09 L538.75 659.97 L541.76 659.89 L544.78 659.84 L547.8 659.82 M412 681.42 L415.02 681.55 L418.04 681.68 L421.05 681.8 L424.07 681.93 L427.09 682.05 L430.11 682.17 L433.12 682.29 L436.14 682.4 L439.16 682.51 L442.18 682.62 L445.2 682.73 L448.21 682.83 L451.23 682.93 L454.25 683.02 L457.27 683.11 L460.28 683.2 L463.3 683.29 L466.32 683.36 L469.34 683.44 L472.36 683.51 L475.37 683.58 L478.39 683.64 L481.41 683.69 L484.43 683.75 L487.44 683.8 L490.46 683.86 L493.48 683.91 L496.5 683.97 L499.52 684.02 L502.53 684.07 L505.55 684.12 L508.57 684.17 L511.59 684.22 L514.6 684.26 L517.62 684.3 L520.64 684.34 L523.66 684.38 L526.68 684.41 L529.69 684.44 L532.71 684.47 L535.73 684.49 L538.75 684.51 L541.76 684.52 L544.78 684.53 L547.8 684.53 M412 681.42 L415.02 681.67 L418.04 681.91 L421.05 682.16 L424.07 682.39 L427.09 682.63 L430.11 682.86 L433.12 683.08 L436.14 683.3 L439.16 683.51 L442.18 683.72 L445.2 683.91 L448.21 684.1 L451.23 684.28 L454.25 684.45 L457.27 684.6 L460.28 684.75 L463.3 684.88 L466.32 685.01 L469.34 685.12 L472.36 685.21 L475.37 685.3 L478.39 685.36 L481.41 685.42 L484.43 685.47 L487.44 685.52 L490.46 685.57 L493.48 685.61 L496.5 685.66 L499.52 685.7 L502.53 685.75 L505.55 685.79 L508.57 685.82 L511.59 685.86 L514.6 685.89 L517.62 685.92 L520.64 685.95 L523.66 685.98 L526.68 686 L529.69 686.02 L532.71 686.04 L535.73 686.06 L538.75 686.07 L541.76 686.08 L544.78 686.08 L547.8 686.08 M412 681.42 L415.02 682.8 L418.04 684.21 L421.05 685.65 L424.07 687.12 L427.09 688.61 L430.11 690.13 L433.12 691.68 L436.14 693.24 L439.16 694.84 L442.18 696.45 L445.2 698.09 L448.21 699.75 L451.23 701.48 L454.25 703.26 L457.27 705.09 L460.28 706.95 L463.3 708.82 L466.32 710.7 L469.34 712.57 L472.36 714.41 L475.37 716.21 L478.39 717.97 L481.41 719.67 L484.43 721.37 L487.44 723.04 L490.46 724.69 L493.48 726.33 L496.5 727.96 L499.52 729.57 L502.53 731.17 L505.55 732.76 L508.57 734.34 L511.59 735.91 L514.6 737.62 L517.62 739.48 L520.64 741.44 L523.66 743.45 L526.68 745.44 L529.69 747.36 L532.71 749.14 L535.73 750.73 L538.75 752.07 L541.76 753.1 L544.78 753.76 L547.8 753.99 M412 691.79 L415.02 691.75 L418.04 691.72 L421.05 691.69 L424.07 691.66 L427.09 691.63 L430.11 691.61 L433.12 691.58 L436.14 691.55 L439.16 691.52 L442.18 691.49 L445.2 691.46 L448.21 691.44 L451.23 691.41 L454.25 691.38 L457.27 691.36 L460.28 691.33 L463.3 691.31 L466.32 691.28 L469.34 691.26 L472.36 691.24 L475.37 691.21 L478.39 691.19 L481.41 691.17 L484.43 691.15 L487.44 691.13 L490.46 691.11 L493.48 691.09 L496.5 691.08 L499.52 691.06 L502.53 691.04 L505.55 691.03 L508.57 691.01 L511.59 691 L514.6 690.99 L517.62 690.98 L520.64 690.97 L523.66 690.96 L526.68 690.95 L529.69 690.94 L532.71 690.94 L535.73 690.93 L538.75 690.93 L541.76 690.92 L544.78 690.92 L547.8 690.92 M412 703.71 L415.02 703.74 L418.04 703.77 L421.05 703.8 L424.07 703.83 L427.09 703.86 L430.11 703.89 L433.12 703.92 L436.14 703.95 L439.16 703.98 L442.18 704 L445.2 704.03 L448.21 704.06 L451.23 704.09 L454.25 704.11 L457.27 704.14 L460.28 704.16 L463.3 704.19 L466.32 704.21 L469.34 704.24 L472.36 704.26 L475.37 704.28 L478.39 704.3 L481.41 704.32 L484.43 704.34 L487.44 704.36 L490.46 704.38 L493.48 704.4 L496.5 704.42 L499.52 704.44 L502.53 704.45 L505.55 704.47 L508.57 704.48 L511.59 704.49 L514.6 704.51 L517.62 704.52 L520.64 704.53 L523.66 704.54 L526.68 704.54 L529.69 704.55 L532.71 704.56 L535.73 704.56 L538.75 704.57 L541.76 704.57 L544.78 704.57 L547.8 704.57 M412 719.26 L415.02 719.07 L418.04 718.87 L421.05 718.68 L424.07 718.5 L427.09 718.31 L430.11 718.13 L433.12 717.95 L436.14 717.78 L439.16 717.6 L442.18 717.43 L445.2 717.27 L448.21 717.1 L451.23 716.94 L454.25 716.79 L457.27 716.64 L460.28 716.49 L463.3 716.35 L466.32 716.21 L469.34 716.07 L472.36 715.94 L475.37 715.81 L478.39 715.69 L481.41 715.57 L484.43 715.45 L487.44 715.33 L490.46 715.2 L493.48 715.08 L496.5 714.95 L499.52 714.83 L502.53 714.7 L505.55 714.58 L508.57 714.46 L511.59 714.35 L514.6 714.24 L517.62 714.13 L520.64 714.03 L523.66 713.94 L526.68 713.86 L529.69 713.78 L532.71 713.72 L535.73 713.66 L538.75 713.62 L541.76 713.59 L544.78 713.57 L547.8 713.56 M412 719.26 L415.02 719.45 L418.04 719.68 L421.05 719.95 L424.07 720.24 L427.09 720.57 L430.11 720.93 L433.12 721.31 L436.14 721.72 L439.16 722.14 L442.18 722.59 L445.2 723.05 L448.21 723.53 L451.23 724.02 L454.25 724.54 L457.27 725.14 L460.28 725.83 L463.3 726.6 L466.32 727.42 L469.34 728.28 L472.36 729.16 L475.37 730.05 L478.39 730.93 L481.41 731.79 L484.43 732.6 L487.44 733.36 L490.46 734.05 L493.48 734.64 L496.5 735.19 L499.52 735.76 L502.53 736.33 L505.55 736.9 L508.57 737.46 L511.59 738.02 L514.6 738.56 L517.62 739.08 L520.64 739.58 L523.66 740.05 L526.68 740.48 L529.69 740.87 L532.71 741.22 L535.73 741.51 L538.75 741.75 L541.76 741.92 L544.78 742.03 L547.8 742.07 M412 733.95 L415.02 733.44 L418.04 732.92 L421.05 732.38 L424.07 731.83 L427.09 731.28 L430.11 730.71 L433.12 730.13 L436.14 729.53 L439.16 728.93 L442.18 728.32 L445.2 727.7 L448.21 727.07 L451.23 726.43 L454.25 725.78 L457.27 725.12 L460.28 724.46 L463.3 723.78 L466.32 723.1 L469.34 722.41 L472.36 721.72 L475.37 721.02 L478.39 720.31 L481.41 719.59 L484.43 718.81 L487.44 717.97 L490.46 717.09 L493.48 716.18 L496.5 715.24 L499.52 714.3 L502.53 713.35 L505.55 712.42 L508.57 711.5 L511.59 710.63 L514.6 709.79 L517.62 709.01 L520.64 708.3 L523.66 707.66 L526.68 707.11 L529.69 706.63 L532.71 706.13 L535.73 705.66 L538.75 705.23 L541.76 704.89 L544.78 704.66 L547.8 704.57 M412 733.95 L415.02 733.76 L418.04 733.54 L421.05 733.31 L424.07 733.05 L427.09 732.77 L430.11 732.47 L433.12 732.15 L436.14 731.81 L439.16 731.46 L442.18 731.1 L445.2 730.71 L448.21 730.32 L451.23 729.91 L454.25 729.49 L457.27 729.07 L460.28 728.63 L463.3 728.18 L466.32 727.73 L469.34 727.23 L472.36 726.67 L475.37 726.05 L478.39 725.38 L481.41 724.67 L484.43 723.93 L487.44 723.18 L490.46 722.41 L493.48 721.65 L496.5 720.91 L499.52 720.18 L502.53 719.49 L505.55 718.84 L508.57 718.24 L511.59 717.71 L514.6 717.25 L517.62 716.8 L520.64 716.33 L523.66 715.87 L526.68 715.42 L529.69 714.99 L532.71 714.6 L535.73 714.26 L538.75 713.97 L541.76 713.75 L544.78 713.61 L547.8 713.56 M412 734.81 L415.02 734.5 L418.04 734.19 L421.05 733.89 L424.07 733.59 L427.09 733.29 L430.11 733 L433.12 732.72 L436.14 732.45 L439.16 732.18 L442.18 731.92 L445.2 731.66 L448.21 731.42 L451.23 731.18 L454.25 730.95 L457.27 730.74 L460.28 730.53 L463.3 730.33 L466.32 730.15 L469.34 729.97 L472.36 729.81 L475.37 729.66 L478.39 729.52 L481.41 729.39 L484.43 729.27 L487.44 729.14 L490.46 729.02 L493.48 728.9 L496.5 728.78 L499.52 728.66 L502.53 728.55 L505.55 728.44 L508.57 728.33 L511.59 728.23 L514.6 728.13 L517.62 728.04 L520.64 727.95 L523.66 727.88 L526.68 727.81 L529.69 727.74 L532.71 727.69 L535.73 727.64 L538.75 727.6 L541.76 727.58 L544.78 727.56 L547.8 727.56 M412 741.21 L415.02 741.24 L418.04 741.27 L421.05 741.3 L424.07 741.33 L427.09 741.36 L430.11 741.39 L433.12 741.42 L436.14 741.44 L439.16 741.47 L442.18 741.5 L445.2 741.53 L448.21 741.56 L451.23 741.58 L454.25 741.61 L457.27 741.64 L460.28 741.66 L463.3 741.69 L466.32 741.71 L469.34 741.73 L472.36 741.76 L475.37 741.78 L478.39 741.8 L481.41 741.82 L484.43 741.84 L487.44 741.86 L490.46 741.88 L493.48 741.9 L496.5 741.92 L499.52 741.93 L502.53 741.95 L505.55 741.96 L508.57 741.98 L511.59 741.99 L514.6 742 L517.62 742.01 L520.64 742.02 L523.66 742.03 L526.68 742.04 L529.69 742.05 L532.71 742.06 L535.73 742.06 L538.75 742.07 L541.76 742.07 L544.78 742.07 L547.8 742.07 M412 745.18 L415.02 745.21 L418.04 745.24 L421.05 745.27 L424.07 745.3 L427.09 745.33 L430.11 745.36 L433.12 745.39 L436.14 745.42 L439.16 745.45 L442.18 745.48 L445.2 745.5 L448.21 745.53 L451.23 745.56 L454.25 745.58 L457.27 745.61 L460.28 745.63 L463.3 745.66 L466.32 745.68 L469.34 745.71 L472.36 745.73 L475.37 745.75 L478.39 745.77 L481.41 745.8 L484.43 745.82 L487.44 745.84 L490.46 745.86 L493.48 745.87 L496.5 745.89 L499.52 745.91 L502.53 745.92 L505.55 745.94 L508.57 745.95 L511.59 745.97 L514.6 745.98 L517.62 745.99 L520.64 746 L523.66 746.01 L526.68 746.02 L529.69 746.02 L532.71 746.03 L535.73 746.04 L538.75 746.04 L541.76 746.04 L544.78 746.04 L547.8 746.04 M412 757.97 L415.02 757.77 L418.04 757.57 L421.05 757.38 L424.07 757.19 L427.09 757 L430.11 756.82 L433.12 756.64 L436.14 756.47 L439.16 756.29 L442.18 756.13 L445.2 755.97 L448.21 755.81 L451.23 755.66 L454.25 755.51 L457.27 755.37 L460.28 755.23 L463.3 755.1 L466.32 754.98 L469.34 754.86 L472.36 754.75 L475.37 754.65 L478.39 754.56 L481.41 754.47 L484.43 754.38 L487.44 754.29 L490.46 754.2 L493.48 754.12 L496.5 754.03 L499.52 753.94 L502.53 753.86 L505.55 753.78 L508.57 753.7 L511.59 753.63 L514.6 753.56 L517.62 753.49 L520.64 753.43 L523.66 753.37 L526.68 753.32 L529.69 753.27 L532.71 753.23 L535.73 753.19 L538.75 753.17 L541.76 753.15 L544.78 753.13 L547.8 753.13 M412 768.34 L415.02 768.44 L418.04 768.7 L421.05 769.12 L424.07 769.66 L427.09 770.3 L430.11 771.03 L433.12 771.83 L436.14 772.66 L439.16 773.52 L442.18 774.56 L445.2 775.91 L448.21 777.5 L451.23 779.26 L454.25 781.12 L457.27 783 L460.28 784.83 L463.3 786.55 L466.32 788.23 L469.34 789.91 L472.36 791.6 L475.37 793.33 L478.39 795.09 L481.41 796.92 L484.43 798.82 L487.44 800.81 L490.46 802.9 L493.48 805.08 L496.5 807.34 L499.52 809.68 L502.53 812.09 L505.55 814.57 L508.57 817.11 L511.59 819.71 L514.6 822.41 L517.62 825.23 L520.64 828.15 L523.66 831.14 L526.68 834.17 L529.69 837.22 L532.71 840.27 L535.73 843.28 L538.75 846.32 L541.76 849.39 L544.78 852.49 L547.8 855.6 M412 776.28 L415.02 775.79 L418.04 775.3 L421.05 774.82 L424.07 774.34 L427.09 773.87 L430.11 773.41 L433.12 772.96 L436.14 772.52 L439.16 772.09 L442.18 771.67 L445.2 771.26 L448.21 770.86 L451.23 770.47 L454.25 770.1 L457.27 769.74 L460.28 769.39 L463.3 769.05 L466.32 768.73 L469.34 768.42 L472.36 768.13 L475.37 767.86 L478.39 767.6 L481.41 767.35 L484.43 767.1 L487.44 766.85 L490.46 766.61 L493.48 766.36 L496.5 766.11 L499.52 765.87 L502.53 765.63 L505.55 765.4 L508.57 765.17 L511.59 764.96 L514.6 764.75 L517.62 764.55 L520.64 764.37 L523.66 764.2 L526.68 764.05 L529.69 763.91 L532.71 763.79 L535.73 763.69 L538.75 763.61 L541.76 763.55 L544.78 763.51 L547.8 763.5 M412 778.7 L415.02 778.79 L418.04 778.87 L421.05 778.95 L424.07 779.04 L427.09 779.12 L430.11 779.2 L433.12 779.28 L436.14 779.36 L439.16 779.44 L442.18 779.52 L445.2 779.59 L448.21 779.67 L451.23 779.75 L454.25 779.82 L457.27 779.9 L460.28 779.97 L463.3 780.04 L466.32 780.12 L469.34 780.19 L472.36 780.26 L475.37 780.33 L478.39 780.4 L481.41 780.47 L484.43 780.54 L487.44 780.61 L490.46 780.69 L493.48 780.77 L496.5 780.85 L499.52 780.94 L502.53 781.02 L505.55 781.1 L508.57 781.18 L511.59 781.26 L514.6 781.33 L517.62 781.41 L520.64 781.48 L523.66 781.54 L526.68 781.6 L529.69 781.65 L532.71 781.7 L535.73 781.74 L538.75 781.77 L541.76 781.79 L544.78 781.81 L547.8 781.81 M412 789.94 L415.02 789.74 L418.04 789.54 L421.05 789.35 L424.07 789.16 L427.09 788.97 L430.11 788.79 L433.12 788.61 L436.14 788.43 L439.16 788.26 L442.18 788.1 L445.2 787.93 L448.21 787.78 L451.23 787.62 L454.25 787.48 L457.27 787.34 L460.28 787.2 L463.3 787.07 L466.32 786.95 L469.34 786.83 L472.36 786.72 L475.37 786.62 L478.39 786.52 L481.41 786.44 L484.43 786.35 L487.44 786.26 L490.46 786.17 L493.48 786.08 L496.5 786 L499.52 785.91 L502.53 785.83 L505.55 785.75 L508.57 785.67 L511.59 785.6 L514.6 785.52 L517.62 785.46 L520.64 785.39 L523.66 785.34 L526.68 785.28 L529.69 785.24 L532.71 785.2 L535.73 785.16 L538.75 785.13 L541.76 785.11 L544.78 785.1 L547.8 785.1 M412 776.28 L415.02 776.45 L418.04 776.62 L421.05 776.78 L424.07 776.95 L427.09 777.11 L430.11 777.27 L433.12 777.42 L436.14 777.58 L439.16 777.73 L442.18 777.88 L445.2 778.03 L448.21 778.18 L451.23 778.32 L454.25 778.46 L457.27 778.6 L460.28 778.74 L463.3 778.87 L466.32 779.01 L469.34 779.14 L472.36 779.26 L475.37 779.39 L478.39 779.51 L481.41 779.63 L484.43 779.75 L487.44 779.88 L490.46 780.01 L493.48 780.14 L496.5 780.28 L499.52 780.41 L502.53 780.55 L505.55 780.68 L508.57 780.81 L511.59 780.93 L514.6 781.05 L517.62 781.17 L520.64 781.28 L523.66 781.38 L526.68 781.48 L529.69 781.56 L532.71 781.63 L535.73 781.7 L538.75 781.75 L541.76 781.78 L544.78 781.81 L547.8 781.81 M412 801 L415.02 801.2 L418.04 801.4 L421.05 801.59 L424.07 801.79 L427.09 801.98 L430.11 802.17 L433.12 802.35 L436.14 802.53 L439.16 802.71 L442.18 802.88 L445.2 803.05 L448.21 803.21 L451.23 803.37 L454.25 803.53 L457.27 803.68 L460.28 803.82 L463.3 803.96 L466.32 804.09 L469.34 804.22 L472.36 804.34 L475.37 804.46 L478.39 804.57 L481.41 804.68 L484.43 804.78 L487.44 804.89 L490.46 805 L493.48 805.1 L496.5 805.21 L499.52 805.32 L502.53 805.42 L505.55 805.52 L508.57 805.62 L511.59 805.71 L514.6 805.8 L517.62 805.89 L520.64 805.97 L523.66 806.04 L526.68 806.11 L529.69 806.17 L532.71 806.22 L535.73 806.27 L538.75 806.3 L541.76 806.33 L544.78 806.35 L547.8 806.35 M412 804.28 L415.02 804.29 L418.04 804.33 L421.05 804.4 L424.07 804.49 L427.09 804.6 L430.11 804.73 L433.12 804.89 L436.14 805.06 L439.16 805.26 L442.18 805.47 L445.2 805.7 L448.21 805.95 L451.23 806.22 L454.25 806.52 L457.27 807.05 L460.28 807.81 L463.3 808.75 L466.32 809.86 L469.34 811.1 L472.36 812.44 L475.37 813.86 L478.39 815.32 L481.41 816.79 L484.43 818.25 L487.44 819.66 L490.46 821.15 L493.48 822.74 L496.5 824.41 L499.52 826.16 L502.53 827.96 L505.55 829.79 L508.57 831.64 L511.59 833.49 L514.6 835.32 L517.62 837.2 L520.64 839.14 L523.66 841.11 L526.68 843.07 L529.69 845.02 L532.71 846.91 L535.73 848.73 L538.75 850.5 L541.76 852.23 L544.78 853.93 L547.8 855.6 M412 814.65 L415.02 814.65 L418.04 814.65 L421.05 814.66 L424.07 814.68 L427.09 814.7 L430.11 814.72 L433.12 814.74 L436.14 814.77 L439.16 814.8 L442.18 814.84 L445.2 814.88 L448.21 814.92 L451.23 814.97 L454.25 815.03 L457.27 815.2 L460.28 815.48 L463.3 815.86 L466.32 816.33 L469.34 816.88 L472.36 817.49 L475.37 818.16 L478.39 818.88 L481.41 819.63 L484.43 820.4 L487.44 821.19 L490.46 821.98 L493.48 822.77 L496.5 823.64 L499.52 824.69 L502.53 825.88 L505.55 827.15 L508.57 828.49 L511.59 829.85 L514.6 831.18 L517.62 832.46 L520.64 833.63 L523.66 834.68 L526.68 835.54 L529.69 836.27 L532.71 837.02 L535.73 837.73 L538.75 838.37 L541.76 838.89 L544.78 839.23 L547.8 839.36 M412 827.61 L415.02 827.77 L418.04 827.96 L421.05 828.19 L424.07 828.46 L427.09 828.75 L430.11 829.07 L433.12 829.41 L436.14 829.78 L439.16 830.17 L442.18 830.57 L445.2 830.99 L448.21 831.43 L451.23 831.87 L454.25 832.34 L457.27 832.86 L460.28 833.45 L463.3 834.09 L466.32 834.77 L469.34 835.5 L472.36 836.26 L475.37 837.04 L478.39 837.84 L481.41 838.64 L484.43 839.44 L487.44 840.24 L490.46 841.02 L493.48 841.78 L496.5 842.52 L499.52 843.28 L502.53 844.04 L505.55 844.81 L508.57 845.58 L511.59 846.35 L514.6 847.13 L517.62 847.9 L520.64 848.68 L523.66 849.45 L526.68 850.22 L529.69 850.99 L532.71 851.76 L535.73 852.53 L538.75 853.3 L541.76 854.06 L544.78 854.83 L547.8 855.6 M412 840.57 L415.02 839.56 L418.04 838.58 L421.05 837.61 L424.07 836.67 L427.09 835.75 L430.11 834.85 L433.12 833.97 L436.14 833.12 L439.16 832.3 L442.18 831.5 L445.2 830.73 L448.21 829.98 L451.23 829.24 L454.25 828.5 L457.27 827.77 L460.28 827.07 L463.3 826.38 L466.32 825.73 L469.34 825.11 L472.36 824.53 L475.37 823.99 L478.39 823.51 L481.41 823.07 L484.43 822.65 L487.44 822.24 L490.46 821.84 L493.48 821.47 L496.5 821.11 L499.52 820.78 L502.53 820.48 L505.55 820.21 L508.57 819.97 L511.59 819.78 L514.6 819.62 L517.62 819.48 L520.64 819.34 L523.66 819.21 L526.68 819.09 L529.69 818.98 L532.71 818.88 L535.73 818.79 L538.75 818.72 L541.76 818.67 L544.78 818.63 L547.8 818.62 M412 840.57 L415.02 841.18 L418.04 842.31 L421.05 843.91 L424.07 846.34 L427.09 849.76 L430.11 854.64 L433.12 859.27 L436.14 862.5 L439.16 864.53 L442.18 866.1 L445.2 867.39 L448.21 868.56 L451.23 869.58 L454.25 870.5 L457.27 871.35 L460.28 872.15 L463.3 872.93 L466.32 873.74 L469.34 874.58 L472.36 875.42 L475.37 876.25 L478.39 877.07 L481.41 877.86 L484.43 878.63 L487.44 879.36 L490.46 880.03 L493.48 880.66 L496.5 881.25 L499.52 881.85 L502.53 882.44 L505.55 883 L508.57 883.53 L511.59 884 L514.6 884.41 L517.62 884.74 L520.64 884.98 L523.66 885.16 L526.68 885.33 L529.69 885.49 L532.71 885.64 L535.73 885.76 L538.75 885.87 L541.76 885.95 L544.78 886 L547.8 886.01 M412 875.99 L415.02 876.26 L418.04 876.52 L421.05 876.79 L424.07 877.05 L427.09 877.31 L430.11 877.57 L433.12 877.83 L436.14 878.08 L439.16 878.33 L442.18 878.58 L445.2 878.83 L448.21 879.08 L451.23 879.32 L454.25 879.56 L457.27 879.8 L460.28 880.04 L463.3 880.27 L466.32 880.5 L469.34 880.73 L472.36 880.96 L475.37 881.19 L478.39 881.41 L481.41 881.63 L484.43 881.87 L487.44 882.11 L490.46 882.36 L493.48 882.62 L496.5 882.89 L499.52 883.15 L502.53 883.42 L505.55 883.68 L508.57 883.95 L511.59 884.2 L514.6 884.45 L517.62 884.68 L520.64 884.91 L523.66 885.12 L526.68 885.31 L529.69 885.48 L532.71 885.64 L535.73 885.77 L538.75 885.87 L541.76 885.95 L544.78 886 L547.8 886.01 M412 757.97 L415.02 758.15 L418.04 758.33 L421.05 758.51 L424.07 758.69 L427.09 758.86 L430.11 759.03 L433.12 759.2 L436.14 759.37 L439.16 759.53 L442.18 759.69 L445.2 759.85 L448.21 760.01 L451.23 760.16 L454.25 760.31 L457.27 760.45 L460.28 760.59 L463.3 760.73 L466.32 760.87 L469.34 761 L472.36 761.12 L475.37 761.25 L478.39 761.37 L481.41 761.48 L484.43 761.6 L487.44 761.72 L490.46 761.85 L493.48 761.97 L496.5 762.1 L499.52 762.22 L502.53 762.35 L505.55 762.47 L508.57 762.59 L511.59 762.7 L514.6 762.81 L517.62 762.92 L520.64 763.02 L523.66 763.11 L526.68 763.19 L529.69 763.27 L532.71 763.34 L535.73 763.39 L538.75 763.44 L541.76 763.47 L544.78 763.49 L547.8 763.5 M412 789.94 L415.02 789.95 L418.04 789.99 L421.05 790.06 L424.07 790.15 L427.09 790.27 L430.11 790.41 L433.12 790.57 L436.14 790.75 L439.16 790.95 L442.18 791.17 L445.2 791.4 L448.21 791.65 L451.23 791.92 L454.25 792.19 L457.27 792.48 L460.28 792.77 L463.3 793.08 L466.32 793.39 L469.34 793.8 L472.36 794.39 L475.37 795.12 L478.39 795.95 L481.41 796.87 L484.43 797.85 L487.44 798.84 L490.46 799.83 L493.48 800.77 L496.5 801.65 L499.52 802.43 L502.53 803.09 L505.55 803.58 L508.57 803.91 L511.59 804.21 L514.6 804.5 L517.62 804.78 L520.64 805.05 L523.66 805.29 L526.68 805.52 L529.69 805.73 L532.71 805.91 L535.73 806.06 L538.75 806.18 L541.76 806.28 L544.78 806.33 L547.8 806.35" fill="none" stroke="#3F3D9D" stroke-width="1.85" stroke-linejoin="round" stroke-linecap="round"/>
<path d="M130 855.7 L547.8 855.7" stroke="#333" stroke-width="1.6" stroke-dasharray="4.2 2.6" fill="none"/>
<path d="M130 890 h5" stroke="#8a8f92" stroke-width="1.2"/>
<path d="M130 872.8 h5" stroke="#8a8f92" stroke-width="1.2"/>
<path d="M130 855.6 h9.5" stroke="#3a3a3a" stroke-width="1.4"/>
<path d="M130 838.4 h5" stroke="#8a8f92" stroke-width="1.2"/>
<path d="M130 821.2 h5" stroke="#8a8f92" stroke-width="1.2"/>
<path d="M130 804 h5" stroke="#8a8f92" stroke-width="1.2"/>
<path d="M130 786.8 h5" stroke="#8a8f92" stroke-width="1.2"/>
<path d="M130 769.6 h9.5" stroke="#3a3a3a" stroke-width="1.4"/>
<path d="M130 752.4 h5" stroke="#8a8f92" stroke-width="1.2"/>
<path d="M130 735.2 h5" stroke="#8a8f92" stroke-width="1.2"/>
<path d="M130 718 h5" stroke="#8a8f92" stroke-width="1.2"/>
<path d="M130 700.8 h5" stroke="#8a8f92" stroke-width="1.2"/>
<path d="M130 683.6 h9.5" stroke="#3a3a3a" stroke-width="1.4"/>
<path d="M130 666.4 h5" stroke="#8a8f92" stroke-width="1.2"/>
<path d="M130 649.2 h5" stroke="#8a8f92" stroke-width="1.2"/>
<path d="M130 632 h5" stroke="#8a8f92" stroke-width="1.2"/>
<path d="M130 614.8 h5" stroke="#8a8f92" stroke-width="1.2"/>
<path d="M130 597.6 h9.5" stroke="#3a3a3a" stroke-width="1.4"/>
<path d="M130 580.4 h5" stroke="#8a8f92" stroke-width="1.2"/>
<path d="M130 563.2 h5" stroke="#8a8f92" stroke-width="1.2"/>
<path d="M130 546 h5" stroke="#8a8f92" stroke-width="1.2"/>
<path d="M130 528.8 h5" stroke="#8a8f92" stroke-width="1.2"/>
<path d="M130 511.6 h9.5" stroke="#3a3a3a" stroke-width="1.4"/>
<path d="M130 494.4 h5" stroke="#8a8f92" stroke-width="1.2"/>
<path d="M247.5 474 V905.5" stroke="#2b2b2b" stroke-width="1.5"/>
<path d="M344.3 474 V905.5" stroke="#2b2b2b" stroke-width="1.5"/>
<path d="M412 474 V905.5" stroke="#2b2b2b" stroke-width="1.5"/>
<rect x="130" y="474" width="417.8" height="431.5" fill="none" stroke="#4a4a4a" stroke-width="1.6"/>
<text x="120.6" y="522.2" font-family='"Liberation Sans","DejaVu Sans",sans-serif' font-size="27.5" fill="#222" text-anchor="end" textLength="32" lengthAdjust="spacingAndGlyphs">20</text>
<text x="120.6" y="608.2" font-family='"Liberation Sans","DejaVu Sans",sans-serif' font-size="27.5" fill="#222" text-anchor="end" textLength="24" lengthAdjust="spacingAndGlyphs">15</text>
<text x="120.6" y="694.2" font-family='"Liberation Sans","DejaVu Sans",sans-serif' font-size="27.5" fill="#222" text-anchor="end" textLength="27" lengthAdjust="spacingAndGlyphs">10</text>
<text x="120.6" y="780.2" font-family='"Liberation Sans","DejaVu Sans",sans-serif' font-size="27.5" fill="#222" text-anchor="end" textLength="14.5" lengthAdjust="spacingAndGlyphs">5</text>
<text x="120.6" y="866.2" font-family='"Liberation Sans","DejaVu Sans",sans-serif' font-size="27.5" fill="#222" text-anchor="end" textLength="15.7" lengthAdjust="spacingAndGlyphs">0</text>
<text x="132.3" y="934.5" font-family='"Liberation Sans","DejaVu Sans",sans-serif' font-size="25.5" fill="#222" text-anchor="middle">Γ</text>
<text x="249.2" y="934.5" font-family='"Liberation Sans","DejaVu Sans",sans-serif' font-size="25.5" fill="#222" text-anchor="middle">L</text>
<text x="344.5" y="934.5" font-family='"Liberation Sans","DejaVu Sans",sans-serif' font-size="25.5" fill="#222" text-anchor="middle" textLength="27" lengthAdjust="spacingAndGlyphs">W</text>
<text x="412.4" y="934.5" font-family='"Liberation Sans","DejaVu Sans",sans-serif' font-size="25.5" fill="#222" text-anchor="middle" textLength="17.2" lengthAdjust="spacingAndGlyphs">X</text>
<text x="548.8" y="934.5" font-family='"Liberation Sans","DejaVu Sans",sans-serif' font-size="25.5" fill="#222" text-anchor="middle">Γ</text>
<text transform="translate(79.8 690.6) rotate(-90)" font-family='"Liberation Sans","DejaVu Sans",sans-serif' font-size="26.5" fill="#222" text-anchor="middle" textLength="202" lengthAdjust="spacingAndGlyphs">Frequency (THz)</text>
<text x="0.8" y="485.7" font-family='"Liberation Sans","DejaVu Sans",sans-serif' font-size="29" fill="#111">(b)</text>
</g>
<path d="M772.1 200.8 L772.1 110 L1671 110 L1671 192.5" fill="none" stroke="#0a0a0a" stroke-width="2.5" stroke-linecap="butt" stroke-linejoin="miter"/>
<path d="M772.1 224.5 L772.1 847 L1671 847 L1671 214.5" fill="none" stroke="#0a0a0a" stroke-width="2.5" stroke-linecap="butt" stroke-linejoin="miter"/>
<path d="M751.5 214.8 L791.8 190.9" fill="none" stroke="#0a0a0a" stroke-width="2.3" stroke-linecap="butt" stroke-linejoin="miter"/>
<path d="M758.4 231 L798.2 208.4" fill="none" stroke="#0a0a0a" stroke-width="2.3" stroke-linecap="butt" stroke-linejoin="miter"/>
<path d="M1647.4 205.7 L1687.6 181.6" fill="none" stroke="#0a0a0a" stroke-width="2.3" stroke-linecap="butt" stroke-linejoin="miter"/>
<path d="M1654.1 224.7 L1693.9 200.1" fill="none" stroke="#0a0a0a" stroke-width="2.3" stroke-linecap="butt" stroke-linejoin="miter"/>
<path d="M772.1 117.1 L790.3 117.1" fill="none" stroke="#2a2a2a" stroke-width="1.4" stroke-linecap="butt" stroke-linejoin="miter"/>
<path d="M772.1 174.1 L790.3 174.1" fill="none" stroke="#2a2a2a" stroke-width="1.4" stroke-linecap="butt" stroke-linejoin="miter"/>
<path d="M772.1 241.8 L790.3 241.8" fill="none" stroke="#2a2a2a" stroke-width="1.4" stroke-linecap="butt" stroke-linejoin="miter"/>
<path d="M772.1 301.2 L790.3 301.2" fill="none" stroke="#2a2a2a" stroke-width="1.4" stroke-linecap="butt" stroke-linejoin="miter"/>
<path d="M772.1 363 L790.3 363" fill="none" stroke="#2a2a2a" stroke-width="1.4" stroke-linecap="butt" stroke-linejoin="miter"/>
<path d="M772.1 423.4 L790.3 423.4" fill="none" stroke="#2a2a2a" stroke-width="1.4" stroke-linecap="butt" stroke-linejoin="miter"/>
<path d="M772.1 484.3 L790.3 484.3" fill="none" stroke="#2a2a2a" stroke-width="1.4" stroke-linecap="butt" stroke-linejoin="miter"/>
<path d="M772.1 544 L790.3 544" fill="none" stroke="#2a2a2a" stroke-width="1.4" stroke-linecap="butt" stroke-linejoin="miter"/>
<path d="M772.1 605.5 L790.3 605.5" fill="none" stroke="#2a2a2a" stroke-width="1.4" stroke-linecap="butt" stroke-linejoin="miter"/>
<path d="M772.1 666.6 L790.3 666.6" fill="none" stroke="#2a2a2a" stroke-width="1.4" stroke-linecap="butt" stroke-linejoin="miter"/>
<path d="M772.1 727.5 L790.3 727.5" fill="none" stroke="#2a2a2a" stroke-width="1.4" stroke-linecap="butt" stroke-linejoin="miter"/>
<path d="M772.1 786.6 L790.3 786.6" fill="none" stroke="#2a2a2a" stroke-width="1.4" stroke-linecap="butt" stroke-linejoin="miter"/>
<path d="M772.1 838.3 L790.3 838.3" fill="none" stroke="#2a2a2a" stroke-width="1.4" stroke-linecap="butt" stroke-linejoin="miter"/>
<text x="755.5" y="131.3" font-family='"Liberation Serif","DejaVu Serif",serif' font-size="27" fill="#1a1a1a" text-anchor="end">12.0</text>
<text x="757.5" y="194.6" font-family='"Liberation Serif","DejaVu Serif",serif' font-size="27" fill="#1a1a1a" text-anchor="end">11.6</text>
<text x="760.5" y="254.5" font-family='"Liberation Serif","DejaVu Serif",serif' font-size="27" fill="#1a1a1a" text-anchor="end">4.0</text>
<text x="766" y="310.1" font-family='"Liberation Serif","DejaVu Serif",serif' font-size="27" fill="#1a1a1a" text-anchor="end">3.6</text>
<text x="766" y="367.2" font-family='"Liberation Serif","DejaVu Serif",serif' font-size="27" fill="#1a1a1a" text-anchor="end">3.2</text>
<text x="766" y="429" font-family='"Liberation Serif","DejaVu Serif",serif' font-size="27" fill="#1a1a1a" text-anchor="end">2.8</text>
<text x="766" y="490.5" font-family='"Liberation Serif","DejaVu Serif",serif' font-size="27" fill="#1a1a1a" text-anchor="end">2.4</text>
<text x="766.5" y="552" font-family='"Liberation Serif","DejaVu Serif",serif' font-size="27" fill="#1a1a1a" text-anchor="end">2.0</text>
<text x="765.3" y="615" font-family='"Liberation Serif","DejaVu Serif",serif' font-size="27" fill="#1a1a1a" text-anchor="end">1.6</text>
<text x="763.5" y="678.2" font-family='"Liberation Serif","DejaVu Serif",serif' font-size="27" fill="#1a1a1a" text-anchor="end">1.2</text>
<text x="764.8" y="739" font-family='"Liberation Serif","DejaVu Serif",serif' font-size="27" fill="#1a1a1a" text-anchor="end">0.8</text>
<text x="764" y="800.2" font-family='"Liberation Serif","DejaVu Serif",serif' font-size="27" fill="#1a1a1a" text-anchor="end">0.0</text>
<text transform="translate(707.5 483.5) rotate(-90)" font-family='"Liberation Serif","DejaVu Serif",serif' font-size="28.5" fill="#1a1a1a" text-anchor="middle" textLength="349" lengthAdjust="spacingAndGlyphs">Relative energy (meV/atom)</text>
<text x="634.6" y="128.3" font-family='"Liberation Sans","DejaVu Sans",sans-serif' font-size="28.5" fill="#111" text-anchor="start">(c)</text>
<rect x="950.2" y="763.3" width="360.4" height="51.4" fill="#C9E2B1" stroke="#8DC556" stroke-width="1.6"/>
<rect x="1318.8" y="765.7" width="278.3" height="51.2" fill="#CFE7F6" stroke="#9CCDF0" stroke-width="1.6"/>
<path d="M951.5 157 L824.7 157 L824.7 700" fill="none" stroke="#B5509D" stroke-width="2.3" stroke-linecap="butt" stroke-linejoin="miter"/>
<circle cx="824.7" cy="708.1" r="16.6" fill="#B44E9C"/>
<path d="M977 170.2 L895.4 170.2 L895 615" fill="none" stroke="#C8662C" stroke-width="2.3" stroke-linecap="butt" stroke-linejoin="miter"/>
<circle cx="894.6" cy="624.7" r="16.6" fill="#C2612D"/>
<path d="M984 584.3 L948.6 584.3 L948.6 615" fill="none" stroke="#C8662C" stroke-width="2.3" stroke-linecap="butt" stroke-linejoin="miter"/>
<circle cx="948.7" cy="624.7" r="16.6" fill="#C2612D"/>
<path d="M1229 162.8 L1346.2 162.8 L1346.2 229" fill="none" stroke="#DDA53A" stroke-width="2.4" stroke-linecap="butt" stroke-linejoin="miter"/>
<path d="M1077.9 352 L1078.3 574" fill="none" stroke="#4B5BB9" stroke-width="2.3" stroke-linecap="butt" stroke-linejoin="miter"/>
<path d="M1078.6 717 L1079.3 775" fill="none" stroke="#7BC043" stroke-width="2.3" stroke-linecap="butt" stroke-linejoin="miter"/>
<path d="M1130.5 680 L1131.3 775" fill="none" stroke="#7BC043" stroke-width="2.3" stroke-linecap="butt" stroke-linejoin="miter"/>
<path d="M1283 232.3 L1186 232.3 L1183.5 775" fill="none" stroke="#7BC043" stroke-width="2.3" stroke-linecap="butt" stroke-linejoin="miter"/>
<path d="M1252.5 289.5 L1235.2 289.5 L1235.2 775" fill="none" stroke="#7BC043" stroke-width="2.3" stroke-linecap="butt" stroke-linejoin="miter"/>
<circle cx="1079.5" cy="787" r="16.6" fill="#7CBE4A"/>
<circle cx="1131.4" cy="787" r="16.6" fill="#7CBE4A"/>
<circle cx="1183.3" cy="787" r="16.6" fill="#7CBE4A"/>
<circle cx="1235.2" cy="787" r="16.6" fill="#7CBE4A"/>
<circle cx="1287.6" cy="787" r="16.6" fill="#7CBE4A"/>
<path d="M1060 157 L962 157" fill="none" stroke="#0a0a0a" stroke-width="2.5" stroke-linecap="butt" stroke-linejoin="miter"/>
<polygon points="950.6,157 966.3,149.8 966.3,164.2" fill="#0a0a0a"/>
<path d="M1060 170.2 L988 170.2" fill="none" stroke="#0a0a0a" stroke-width="2.5" stroke-linecap="butt" stroke-linejoin="miter"/>
<polygon points="976.2,170.2 991.7,163 991.7,177.4" fill="#0a0a0a"/>
<path d="M1095 162.8 L1218 162.8" fill="none" stroke="#0a0a0a" stroke-width="2.5" stroke-linecap="butt" stroke-linejoin="miter"/>
<polygon points="1229.6,162.8 1213.9,155.6 1213.9,170" fill="#0a0a0a"/>
<path d="M1077.8 178 L1077.8 343" fill="none" stroke="#0a0a0a" stroke-width="2.5" stroke-linecap="butt" stroke-linejoin="miter"/>
<polygon points="1077.8,353.6 1070.4,339.1 1085.2,339.1" fill="#0a0a0a"/>
<rect x="1059.6" y="146.4" width="35.5" height="32.6" fill="#3B3F9A"/>
<path d="M1060 584.3 L990 584.3" fill="none" stroke="#0a0a0a" stroke-width="2.5" stroke-linecap="butt" stroke-linejoin="miter"/>
<polygon points="983.2,584.3 992.8,577.2 992.8,591.4" fill="#0a0a0a"/>
<path d="M1095 584.3 L1130.4 584.3 L1130.4 675" fill="none" stroke="#0a0a0a" stroke-width="2.5" stroke-linecap="butt" stroke-linejoin="miter"/>
<polygon points="1130.4,681.4 1123,672.8 1137.8,672.8" fill="#0a0a0a"/>
<path d="M1078.3 603 L1078.3 616" fill="none" stroke="#0a0a0a" stroke-width="2.5" stroke-linecap="butt" stroke-linejoin="miter"/>
<polygon points="1078.3,621.8 1070.9,613.6 1085.7,613.6" fill="#0a0a0a"/>
<rect x="1059.8" y="572.6" width="35.5" height="31.4" fill="#4452A6"/>
<path d="M1078.4 656 L1078.4 712" fill="none" stroke="#0a0a0a" stroke-width="2.5" stroke-linecap="butt" stroke-linejoin="miter"/>
<polygon points="1078.4,718.4 1071,709.7 1085.8,709.7" fill="#0a0a0a"/>
<rect x="1060.6" y="624.9" width="35.1" height="31.3" fill="#6BA78F"/>
<path d="M1328 232.3 L1290 232.3" fill="none" stroke="#0a0a0a" stroke-width="2.5" stroke-linecap="butt" stroke-linejoin="miter"/>
<polygon points="1282.3,232.3 1291.9,225.2 1291.9,239.4" fill="#0a0a0a"/>
<path d="M1328 249.6 L1311 249.6" fill="none" stroke="#0a0a0a" stroke-width="2.5" stroke-linecap="butt" stroke-linejoin="miter"/>
<polygon points="1304.3,249.6 1313.3,242.5 1313.3,256.7" fill="#0a0a0a"/>
<path d="M1362 234.9 L1567.5 234.9 L1567.2 514" fill="none" stroke="#0a0a0a" stroke-width="2.5" stroke-linecap="butt" stroke-linejoin="miter"/>
<path d="M1344.2 258 L1344.2 268" fill="none" stroke="#0a0a0a" stroke-width="2.5" stroke-linecap="butt" stroke-linejoin="miter"/>
<polygon points="1344.2,274.8 1336.9,265.2 1351.5,265.2" fill="#0a0a0a"/>
<path d="M1344.4 274 L1344.4 279" fill="none" stroke="#751737" stroke-width="2" stroke-linecap="butt" stroke-linejoin="miter"/>
<rect x="1327" y="227.5" width="35.2" height="31.5" fill="#DDA53A"/>
<path d="M1330 289.5 L1259 289.5" fill="none" stroke="#0a0a0a" stroke-width="2.5" stroke-linecap="butt" stroke-linejoin="miter"/>
<polygon points="1251.8,289.5 1260.6,282.6 1260.6,296.4" fill="#0a0a0a"/>
<path d="M1330 301 L1308 301 L1308 355" fill="none" stroke="#0a0a0a" stroke-width="2.5" stroke-linecap="butt" stroke-linejoin="miter"/>
<polygon points="1308,361.2 1300.4,353.6 1315.6,353.6" fill="#0a0a0a"/>
<path d="M1344.8 309 L1344.8 365" fill="none" stroke="#0a0a0a" stroke-width="2.5" stroke-linecap="butt" stroke-linejoin="miter"/>
<polygon points="1344.8,371.7 1337.2,364.1 1352.4,364.1" fill="#0a0a0a"/>
<path d="M1364 303.1 L1384.3 303.1 L1384.1 517" fill="none" stroke="#0a0a0a" stroke-width="2.5" stroke-linecap="butt" stroke-linejoin="miter"/>
<polygon points="1384.2,396.5 1376.6,388.5 1391.8,388.5" fill="#0a0a0a"/>
<path d="M1364 298.6 L1407.8 298.6 L1407.5 563" fill="none" stroke="#0a0a0a" stroke-width="2.5" stroke-linecap="butt" stroke-linejoin="miter"/>
<polygon points="1407.6,441.2 1400,433.4 1415.2,433.4" fill="#0a0a0a"/>
<path d="M1364 293.2 L1443 293.2 L1442.4 514" fill="none" stroke="#0a0a0a" stroke-width="2.5" stroke-linecap="butt" stroke-linejoin="miter"/>
<path d="M1364 288.1 L1485.5 288.1 L1483.4 514" fill="none" stroke="#0a0a0a" stroke-width="2.5" stroke-linecap="butt" stroke-linejoin="miter"/>
<path d="M1364 282.2 L1525.8 282.2 L1525.5 514" fill="none" stroke="#0a0a0a" stroke-width="2.5" stroke-linecap="butt" stroke-linejoin="miter"/>
<rect x="1329.6" y="278.4" width="35.3" height="31.4" fill="#751737"/>
<path d="M1305 249.6 L1288.2 249.6 L1288.2 772" fill="none" stroke="#7BC043" stroke-width="2.3" stroke-linecap="butt" stroke-linejoin="miter"/>
<path d="M1308 361 L1308 457" fill="none" stroke="#3A2023" stroke-width="1.9" stroke-linecap="butt" stroke-linejoin="miter"/>
<path d="M1344.9 371.5 L1345.1 457" fill="none" stroke="#3A2023" stroke-width="1.9" stroke-linecap="butt" stroke-linejoin="miter"/>
<rect x="1291.5" y="456" width="35.1" height="31.2" fill="#2D1A1D"/>
<rect x="1329.8" y="456" width="35.5" height="31.2" fill="#2D1A1D"/>
<rect x="1365.4" y="516.8" width="35.6" height="31.3" fill="#000"/>
<rect x="1392.1" y="562.9" width="35.4" height="31.5" fill="#000"/>
<path d="M1442.4 519 L1441.6 703" fill="none" stroke="#5C59B0" stroke-width="2.3" stroke-linecap="butt" stroke-linejoin="miter"/>
<polygon points="1442.4,520.2 1434.6,511.6 1450.2,511.6" fill="#0a0a0a"/>
<path d="M1483.4 519 L1483.2 703" fill="none" stroke="#5C59B0" stroke-width="2.3" stroke-linecap="butt" stroke-linejoin="miter"/>
<polygon points="1483.4,520.2 1475.6,511.6 1491.2,511.6" fill="#0a0a0a"/>
<path d="M1525.5 519 L1525.5 703" fill="none" stroke="#5C59B0" stroke-width="2.3" stroke-linecap="butt" stroke-linejoin="miter"/>
<polygon points="1525.5,520.2 1517.7,511.6 1533.3,511.6" fill="#0a0a0a"/>
<path d="M1567.2 519 L1567 703" fill="none" stroke="#5C59B0" stroke-width="2.3" stroke-linecap="butt" stroke-linejoin="miter"/>
<polygon points="1567.2,520.2 1559.4,511.6 1575,511.6" fill="#0a0a0a"/>
<path d="M1441.6 753 L1441.6 776" fill="none" stroke="#85BCEC" stroke-width="2.3" stroke-linecap="butt" stroke-linejoin="miter"/>
<path d="M1441.6 734 L1441.6 748" fill="none" stroke="#0a0a0a" stroke-width="2.5" stroke-linecap="butt" stroke-linejoin="miter"/>
<polygon points="1441.6,754.8 1434.1,746.5 1449.1,746.5" fill="#0a0a0a"/>
<rect x="1421.7" y="702.6" width="35.7" height="31.9" fill="#5A58A6"/>
<rect x="1424.5" y="774.6" width="35.2" height="31.5" fill="#8FBDE7"/>
<path d="M1483.2 753 L1483.2 776" fill="none" stroke="#85BCEC" stroke-width="2.3" stroke-linecap="butt" stroke-linejoin="miter"/>
<path d="M1483.2 734 L1483.2 748" fill="none" stroke="#0a0a0a" stroke-width="2.5" stroke-linecap="butt" stroke-linejoin="miter"/>
<polygon points="1483.2,754.8 1475.7,746.5 1490.7,746.5" fill="#0a0a0a"/>
<rect x="1463.9" y="702.6" width="36.2" height="31.9" fill="#5A58A6"/>
<rect x="1465.1" y="774.6" width="35.2" height="31.5" fill="#8FBDE7"/>
<path d="M1525.5 753 L1525.5 776" fill="none" stroke="#85BCEC" stroke-width="2.3" stroke-linecap="butt" stroke-linejoin="miter"/>
<path d="M1525.5 734 L1525.5 748" fill="none" stroke="#0a0a0a" stroke-width="2.5" stroke-linecap="butt" stroke-linejoin="miter"/>
<polygon points="1525.5,754.8 1518,746.5 1533,746.5" fill="#0a0a0a"/>
<rect x="1507.8" y="702.6" width="35.7" height="31.9" fill="#5A58A6"/>
<rect x="1508.3" y="774.6" width="35.2" height="31.5" fill="#8FBDE7"/>
<path d="M1567 753 L1567 776" fill="none" stroke="#85BCEC" stroke-width="2.3" stroke-linecap="butt" stroke-linejoin="miter"/>
<path d="M1567 734 L1567 748" fill="none" stroke="#0a0a0a" stroke-width="2.5" stroke-linecap="butt" stroke-linejoin="miter"/>
<polygon points="1567,754.8 1559.5,746.5 1574.5,746.5" fill="#0a0a0a"/>
<rect x="1549.4" y="702.6" width="35.9" height="31.9" fill="#5A58A6"/>
<rect x="1550.1" y="774.6" width="35.7" height="31.5" fill="#8FBDE7"/>
<path d="M1585.5 781 L1617.5 781 L1617.5 790" fill="none" stroke="#5560B0" stroke-width="2.2" stroke-linecap="butt" stroke-linejoin="miter"/>
<circle cx="1617.5" cy="804" r="16.4" fill="#5560B0"/>
<text x="1047.9" y="136.2" font-family='"Liberation Serif","DejaVu Serif",serif' font-size="26" fill="#151515" text-anchor="start" font-style="italic" textLength="71.2" lengthAdjust="spacingAndGlyphs">Fd-3m</text>
<text x="999" y="148.5" font-family='"Liberation Serif","DejaVu Serif",serif' font-size="26.5" fill="#B5509D" text-anchor="start" textLength="19" lengthAdjust="spacingAndGlyphs">X</text>
<text x="996.8" y="210.6" font-family='"Liberation Serif","DejaVu Serif",serif' font-size="26.5" fill="#C8662C" text-anchor="start" textLength="26.6" lengthAdjust="spacingAndGlyphs">W</text>
<text x="1145.7" y="154.9" font-family='"Liberation Serif","DejaVu Serif",serif' font-size="26.5" fill="#DDA53A" text-anchor="start" textLength="15.6" lengthAdjust="spacingAndGlyphs">L</text>
<text x="1050.6" y="269.8" font-family='"Liberation Serif","DejaVu Serif",serif' font-size="26.5" fill="#3F50B4" text-anchor="start" textLength="16" lengthAdjust="spacingAndGlyphs">Γ</text>
<text x="1306.8" y="218.7" font-family='"Liberation Serif","DejaVu Serif",serif' font-size="25" fill="#7BC043" text-anchor="start" textLength="13.8" lengthAdjust="spacingAndGlyphs">Γ</text>
<text x="1354.7" y="221.7" font-family='"Liberation Serif","DejaVu Serif",serif' font-size="26" fill="#151515" text-anchor="start" font-style="italic" textLength="50" lengthAdjust="spacingAndGlyphs">R-3c</text>
<text x="1313.2" y="275.5" font-family='"Liberation Serif","DejaVu Serif",serif' font-size="24" fill="#7BC043" text-anchor="start" textLength="12.8" lengthAdjust="spacingAndGlyphs">Z</text>
<text x="1356.8" y="276.6" font-family='"Liberation Serif","DejaVu Serif",serif' font-size="21" fill="#751737" text-anchor="start" textLength="10.6" lengthAdjust="spacingAndGlyphs">L</text>
<text x="1374.9" y="277" font-family='"Liberation Serif","DejaVu Serif",serif' font-size="25" fill="#151515" text-anchor="start" font-style="italic" textLength="36.1" lengthAdjust="spacingAndGlyphs">P-1</text>
<text x="1267.8" y="314" font-family='"Liberation Serif","DejaVu Serif",serif' font-size="24" fill="#7BC043" text-anchor="start" textLength="13.6" lengthAdjust="spacingAndGlyphs">Γ</text>
<text x="1315.7" y="346.5" font-family='"Liberation Serif","DejaVu Serif",serif' font-size="24" fill="#4A2328" text-anchor="start" textLength="14.5" lengthAdjust="spacingAndGlyphs">U</text>
<text x="1356.4" y="348.3" font-family='"Liberation Serif","DejaVu Serif",serif' font-size="24" fill="#4A2328" text-anchor="start" textLength="16.3" lengthAdjust="spacingAndGlyphs">X</text>
<text x="1387.7" y="378.9" font-family='"Liberation Serif","DejaVu Serif",serif' font-size="25" fill="#1a1a1a" text-anchor="start" textLength="19.1" lengthAdjust="spacingAndGlyphs">Y</text>
<text x="1412.8" y="429.4" font-family='"Liberation Serif","DejaVu Serif",serif' font-size="25" fill="#1a1a1a" text-anchor="start" textLength="17" lengthAdjust="spacingAndGlyphs">T</text>
<text x="1450.4" y="480.9" font-family='"Liberation Serif","DejaVu Serif",serif' font-size="26" fill="#5C59B0" text-anchor="start" textLength="13.9" lengthAdjust="spacingAndGlyphs">Z</text>
<text x="1491.9" y="480.9" font-family='"Liberation Serif","DejaVu Serif",serif' font-size="26" fill="#5C59B0" text-anchor="start" textLength="17" lengthAdjust="spacingAndGlyphs">V</text>
<text x="1534.5" y="480.9" font-family='"Liberation Serif","DejaVu Serif",serif' font-size="26" fill="#5C59B0" text-anchor="start" textLength="18.1" lengthAdjust="spacingAndGlyphs">R</text>
<text x="1580.2" y="480.9" font-family='"Liberation Serif","DejaVu Serif",serif' font-size="26" fill="#5C59B0" text-anchor="start" textLength="14.9" lengthAdjust="spacingAndGlyphs">F</text>
<text x="1307.9" y="510.2" font-family='"Liberation Serif","DejaVu Serif",serif' font-size="24.5" fill="#151515" text-anchor="start" font-style="italic" textLength="36.1" lengthAdjust="spacingAndGlyphs">P-1</text>
<text x="1352.1" y="571.2" font-family='"Liberation Serif","DejaVu Serif",serif' font-size="24.5" fill="#151515" text-anchor="start" font-style="italic" textLength="36.7" lengthAdjust="spacingAndGlyphs">P-1</text>
<text x="1389.2" y="618.6" font-family='"Liberation Serif","DejaVu Serif",serif' font-size="24.5" fill="#151515" text-anchor="start" font-style="italic" textLength="36.4" lengthAdjust="spacingAndGlyphs">P-1</text>
<text x="1584.2" y="696.1" font-family='"Liberation Serif","DejaVu Serif",serif' font-size="25.5" fill="#151515" text-anchor="start" font-style="italic" textLength="61" lengthAdjust="spacingAndGlyphs">P2<tspan font-size="16" dy="5">1</tspan><tspan dy="-5">/c</tspan></text>
<text x="1035.7" y="570" font-family='"Liberation Serif","DejaVu Serif",serif' font-size="25" fill="#C8662C" text-anchor="start" textLength="17.1" lengthAdjust="spacingAndGlyphs">X</text>
<text x="1090" y="565.1" font-family='"Liberation Serif","DejaVu Serif",serif' font-size="25" fill="#151515" text-anchor="start" font-style="italic" textLength="52.1" lengthAdjust="spacingAndGlyphs">Ima<tspan font-style="normal">2</tspan></text>
<text x="1043.2" y="623.6" font-family='"Liberation Serif","DejaVu Serif",serif' font-size="25" fill="#6BA78F" text-anchor="start" textLength="13.8" lengthAdjust="spacingAndGlyphs">Γ</text>
<text x="1097.4" y="626.8" font-family='"Liberation Serif","DejaVu Serif",serif' font-size="25" fill="#151515" text-anchor="start" font-style="italic" textLength="26.6" lengthAdjust="spacingAndGlyphs">Cc</text>
<text x="1141" y="618.9" font-family='"Liberation Serif","DejaVu Serif",serif' font-size="24.5" fill="#6BA78F" text-anchor="start" textLength="17" lengthAdjust="spacingAndGlyphs">R</text>
<text x="1041" y="689.1" font-family='"Liberation Serif","DejaVu Serif",serif' font-size="25" fill="#7BC043" text-anchor="start" textLength="17" lengthAdjust="spacingAndGlyphs">V</text>
<text x="875.7" y="668.7" font-family='"Liberation Serif","DejaVu Serif",serif' font-size="25.5" fill="#151515" text-anchor="start" font-style="italic" textLength="61.7" lengthAdjust="spacingAndGlyphs">Pna<tspan font-style="normal">2</tspan><tspan font-style="normal" font-size="16" dy="5">1</tspan></text>
<text x="946" y="668.7" font-family='"Liberation Serif","DejaVu Serif",serif' font-size="26" fill="#C8662C" text-anchor="start" textLength="29.7" lengthAdjust="spacingAndGlyphs">(<tspan font-family='"Liberation Sans","DejaVu Sans",sans-serif' font-size="26.5">ε</tspan>)</text>
<text x="843.8" y="718.7" font-family='"Liberation Serif","DejaVu Serif",serif' font-size="25.5" fill="#151515" text-anchor="start" textLength="85.1" lengthAdjust="spacingAndGlyphs"><tspan font-style="italic">P</tspan> 2<tspan font-size="16" dy="5">1</tspan><tspan dy="-5">2</tspan><tspan font-size="16" dy="5">1</tspan><tspan dy="-5">2</tspan><tspan font-size="16" dy="5">1</tspan></text>
<text x="937.4" y="718.7" font-family='"Liberation Serif","DejaVu Serif",serif' font-size="26" fill="#B5509D" text-anchor="start" textLength="29.8" lengthAdjust="spacingAndGlyphs">(<tspan font-style="italic">δ</tspan>)</text>
<text x="958.3" y="794.2" font-family='"Liberation Serif","DejaVu Serif",serif' font-size="25" fill="#151515" text-anchor="start" font-style="italic" textLength="28" lengthAdjust="spacingAndGlyphs">Cc</text>
<text x="993.7" y="794.2" font-family='"Liberation Serif","DejaVu Serif",serif' font-size="26" fill="#8CC556" text-anchor="start" textLength="59.8" lengthAdjust="spacingAndGlyphs">(<tspan font-style="italic">α</tspan><tspan font-size="16" dy="5">new</tspan><tspan dy="-5">)</tspan></text>
<text x="1323.5" y="796.7" font-family='"Liberation Serif","DejaVu Serif",serif' font-size="25" fill="#151515" text-anchor="start" font-style="italic" textLength="55.2" lengthAdjust="spacingAndGlyphs">Aba<tspan font-style="normal">2</tspan></text>
<text x="1390.4" y="796.7" font-family='"Liberation Serif","DejaVu Serif",serif' font-size="26" fill="#9FCDF0" text-anchor="start" textLength="30.5" lengthAdjust="spacingAndGlyphs">(<tspan font-style="italic">β</tspan>)</text>
<text x="1577.1" y="756.3" font-family='"Liberation Serif","DejaVu Serif",serif' font-size="25" fill="#7DB6EA" text-anchor="start" textLength="12.9" lengthAdjust="spacingAndGlyphs">Γ</text>
<text x="1600.6" y="772.8" font-family='"Liberation Serif","DejaVu Serif",serif' font-size="25" fill="#151515" text-anchor="start" font-style="italic" textLength="27" lengthAdjust="spacingAndGlyphs">Cc</text>
<text x="1637" y="772.8" font-family='"Liberation Serif","DejaVu Serif",serif' font-size="26" fill="#5560B0" text-anchor="start" textLength="27" lengthAdjust="spacingAndGlyphs">(<tspan font-style="italic">ζ</tspan>)</text>
</svg>
</body></html>
